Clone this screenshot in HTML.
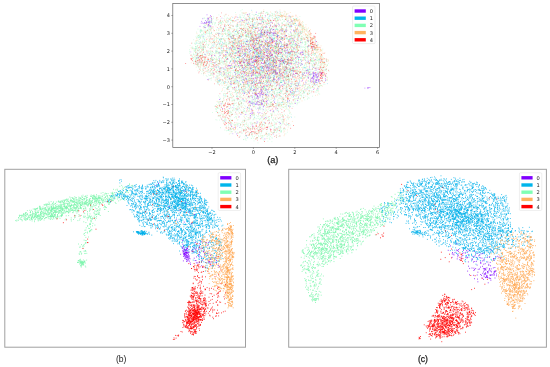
<!DOCTYPE html>
<html><head><meta charset="utf-8"><title>Figure</title>
<style>
html,body{margin:0;padding:0;background:#fff}
svg{display:block}
.tk{font-family:"DejaVu Sans","Liberation Sans",sans-serif;font-size:5px;fill:#222}
.lg{font-family:"DejaVu Sans","Liberation Sans",sans-serif;font-size:5.1px;fill:#222}
.cap{font-family:"Liberation Sans",sans-serif;font-size:8.6px;fill:#1a1a1a}
.sb{stroke:#1a1a1a;stroke-width:.25px}
.pt{fill:none;stroke-linecap:round}
</style></head><body>
<svg width="550" height="367" viewBox="0 0 550 367">
<rect width="550" height="367" fill="#fff"/>
<g class="pt" transform="scale(.1)" stroke-width="7.5" stroke-opacity="0.42"><path stroke="#78f5aa" d="M2850 117zm-85-6zm-17 8zm-108-3zm-1-2zm-25 2zm-192-20zm-13 12zm-220 41zm166-24zm43 23zm20-19zm10 3zm18 7zm9 5zm34 4zm10-13zm23 9zm38 0zm27-9zm3-4zm6 4zm7-11zm8 8zm1-1zm42 1zm9-5zm5 0zm1-5zm7 21zm2-6zm0-11zm4 12zm34-6zm9 4zm0 6zm17 2zm0-5zm21-5zm31 0zm12 3zm2 6zm0 3zm28-3zm34-3zm129 25zm-110 4zm-20 9zm-4-28zm-20 15zm-17 3zm-10 6zm-1-19zm-18-3zm-1 8zm-13 18zm-29-14zm-14-12zm-16 23zm-1-19zm-5 16zm-6-16zm-6 7zm-20 5zm-8 10zm-6-28zm-23 25zm-12 1zm-13-21zm-2 3zm-3-3zm-19 15zm-19-17zm-1 5zm-15 11zm-24-15zm-6 19zm-2-23zm-34 9zm-5 14zm0 4zm-1-26zm-5 28zm-17-21zm-29 1zm-5 1zm-13-8zm-8 25zm-9-26zm-14 12zm-11 12zm-109 3zm-18-28zm-12 17zm-109 2zm-25 4zm-68 6zm-12 2zm16 2zm24 8zm3 14zm16 4zm0-14zm11 5zm11-20zm0 27zm8-6zm15-15zm26 13zm4-18zm3 24zm35 4zm1-17zm35-7zm24 21zm6-23zm18 2zm13 4zm13 15zm5-2zm1 4zm22 3zm23-11zm16-4zm25-2zm39-10zm3 22zm6-7zm6-1zm7-4zm20 2zm2-4zm6 8zm8-16zm4 2zm13 6zm1 6zm1-8zm3 4zm0-5zm9 13zm6 3zm1-16zm16 12zm6-6zm4-9zm2 9zm22-11zm10 25zm25-12zm13 9zm7-1zm28-19zm6 18zm10 4zm8-24zm5 22zm17 4zm8-19zm14-4zm9 5zm8-5zm4 23zm0-28zm0 25zm9-22zm3 14zm2-4zm0-6zm5 19zm3-11zm23 8zm19-10zm1 2zm15 9zm9-10zm13 2zm3-9zm4-4zm16 24zm18-10zm28-12zm1 22zm2-19zm3 0zm22-6zm3 15zm1-11zm5 13zm6 10zm55 15zm-26 15zm-57-29zm-7 22zm-13-5zm-2-6zm-12-5zm-3-5zm-10 26zm-1-12zm-14 3zm-4-14zm-14 13zm-7 9zm-14-21zm-9 0zm-13 15zm-6-4zm-32 5zm-5-4zm-10 7zm-8-19zm-39 19zm-11-12zm-14 6zm-1 10zm-14-14zm-20-9zm-15 0zm-13 4zm-3 19zm-8-28zm-5 11zm-13 12zm-27 1zm-9-16zm-3-4zm-40 6zm-4-9zm-5 7zm-9-2zm-4 0zm-5 14zm-8 9zm-7-6zm0-6zm-7 2zm-14-11zm-14 14zm-3-3zm-13-9zm-10-3zm-14-7zm-4 18zm-5-12zm-75 5zm-23 13zm-28-12zm-8-2zm-10 1zm-24 3zm-6-14zm-8 0zm-1 14zm-5 2zm-3 11zm-1-5zm-5-13zm-1 4zm-5 10zm-2-2zm-3 8zm-8-7zm-30-6zm-3 5zm-4 7zm-3-9zm-16-9zm-9 11zm-4-21zm-9 13zm-10-13zm-3 27zm-7-6zm-17-14zm-1 8zm-25-2zm0 10zm-5 14zm5 9zm9 2zm2-5zm16 0zm7-4zm9 20zm3-13zm6 7zm0 1zm26-22zm3-1zm19 7zm14 13zm23-17zm31 4zm29 18zm13-21zm3 15zm17-17zm9 13zm23-5zm20 2zm2 10zm4 4zm29-1zm7-16zm6-5zm0 17zm1-2zm23-2zm16-2zm12-3zm24 3zm1-13zm2 7zm15 15zm19-1zm8-17zm10 4zm9-11zm1 15zm8-14zm5 16zm1-13zm3-3zm3 17zm7-15zm5 7zm23 2zm2 8zm4-17zm3 11zm1-2zm21-8zm18 25zm3-11zm8 4zm17-19zm5 14zm4 7zm7 1zm4-22zm3 2zm13 11zm16 1zm1 4zm35 3zm13-12zm7 8zm4-16zm25 22zm7-7zm2-6zm7 14zm42-12zm2 9zm9-13zm1 8zm10-3zm3-11zm7 16zm3-15zm2 1zm7 10zm2-5zm5 5zm2 7zm5 5zm4-16zm11-9zm11-2zm2 3zm11-4zm3 13zm16 4zm3-6zm21 11zm10 4zm5-3zm0-10zm26 13zm7-17zm4 3zm38 38zm-25-2zm-3 8zm-8-21zm-3 8zm-7-3zm-3 8zm-6-7zm-17-10zm-30 25zm-9-5zm-7-1zm-5-14zm-11 20zm-26-26zm-11 23zm-1-15zm-3-1zm-46 12zm-24-2zm-3-3zm-5 12zm-6-20zm-2-6zm0 6zm-2 9zm0-10zm-3 21zm-11-16zm-15 13zm-2 3zm-5 2zm0-12zm-2 11zm-2-3zm-7-18zm-8 19zm-5-4zm-16-15zm-5 18zm-1-16zm-9 1zm-14 9zm-12 10zm0-16zm-4 9zm-27-11zm-2 14zm-6-21zm-14 19zm-18-18zm-1 14zm0-4zm-4-11zm-10 10zm-3 9zm-1-15zm-6-3zm-26-2zm-5 10zm-15-2zm-4-10zm-22 6zm-2 10zm-2-2zm-2-8zm-1 20zm-22-21zm-10 11zm-4 7zm0-14zm-3 12zm-9-9zm-5-2zm-27 5zm0-16zm-11 29zm-3-8zm-1 5zm-8-4zm-1-13zm-35 8zm-11-16zm-2 28zm-28-12zm-17 1zm-14-9zm-4 1zm-11-8zm-1 12zm-32 0zm-1-1zm-5-10zm-5 20zm-3-2zm-23-1zm-13 0zm-2-19zm-2 1zm-5 9zm-33 17zm-44-14zm-8-5zm-8 7zm-5-15zm-1 22zm-1-18zm0-1zm-10 12zm-7 13zm-2-19zm-7 15zm-22-17zm-5 1zm-2-5zm-33 22zm-11-2zm-22-3zm-15 29zm33-10zm5 14zm1 1zm2-24zm2 3zm4 0zm5 1zm0 9zm1-3zm6-2zm12 18zm5-27zm15 1zm7 15zm4 0zm1 13zm2-25zm3-1zm16 8zm4 5zm2 11zm13-21zm29-5zm26 28zm1-28zm22 5zm4 21zm21-11zm6 5zm4-19zm20 11zm2-3zm6-2zm4 19zm3-18zm1-8zm20 11zm2-3zm6-9zm3 13zm6 7zm4-2zm4 3zm28 5zm2-8zm3-12zm12 2zm16 1zm2 5zm5-9zm11 18zm3 6zm2-12zm2-7zm40-6zm4 22zm0-3zm0-21zm2 2zm12 13zm8 2zm1-10zm6 17zm0-13zm3 8zm13 4zm12-17zm8 11zm14-11zm10 17zm3-2zm14-1zm2-5zm10-6zm1 16zm31-24zm11 0zm22 20zm17-5zm0-9zm1 17zm9-7zm7-3zm11-9zm14 7zm2-2zm12-7zm10-5zm2 25zm1-15zm0 1zm6 12zm40-15zm36-1zm2 19zm1-1zm11-4zm3 1zm13-22zm20 2zm3 24zm4-2zm1-11zm2 4zm3-7zm6 6zm8 9zm6-14zm12-5zm37 23zm23-26zm6 7zm3 14zm4-24zm0 4zm17 23zm4-1zm7-25zm17 11zm19 3zm8 6zm3-5zm6-8zm30 7zm4-12zm25 35zm-12 14zm0 5zm-2-3zm-26-1zm-44-13zm-3-9zm0 12zm-6 6zm-15-4zm-4-11zm-4 10zm-1 3zm-2 12zm-1-11zm-9-10zm-2 10zm-8-10zm-17 18zm-1-16zm-9 14zm-11 1zm-1-22zm-1 12zm-3 11zm-1-21zm-26 1zm-13 20zm-14-4zm-2 3zm-5-6zm-20 5zm-15-19zm-11 0zm-26 18zm-8-8zm0-6zm-14-5zm-3 5zm-2 14zm-9 1zm-1-13zm-12 18zm-9-17zm-7 16zm-10-13zm-1 7zm-2 5zm-17-15zm-30 13zm-4-22zm0 7zm-4-1zm-14 8zm-1-10zm-6 9zm-4-12zm-13 16zm-15-13zm-1 0zm-5-2zm-1 10zm-17 2zm-5 10zm-3-21zm-10 13zm-10 1zm-7-12zm-2 1zm-9 15zm-8 0zm-2-9zm-2-1zm-3 11zm-23-15zm-11 8zm-4 4zm-13-1zm-1-1zm-1 7zm-28-14zm-5-1zm-9-3zm-5-6zm-5 26zm-16-6zm0-13zm-11-1zm-3 4zm-2 8zm-1-9zm-9 2zm-8-11zm0 21zm-3-23zm-5 17zm-14 6zm-1 1zm-4-1zm-10-23zm-2 20zm-1-10zm-2-9zm-8 8zm-1-2zm-1 5zm-4-1zm-12-1zm-4-11zm-8 15zm-12-8zm-4 7zm0 1zm-2-10zm-12-3zm-11 20zm-20-9zm-5-7zm-8 1zm-7 6zm-6 5zm0-16zm-9-2zm-16 4zm-22 20zm-18-24zm-5 8zm-5-5zm-8 7zm-5-8zm-1 10zm-25-3zm-1-9zm-27 7zm-2 11zm-3-12zm-11 8zm-1 6zm-8 9zm-2-9zm-1-7zm-12 16zm-8-13zm-5 10zm-1-1zm-15-4zm-12 17zm4 11zm9-3zm2-13zm6 1zm7 11zm4-11zm1-3zm6 14zm3 4zm5 6zm2-15zm21 7zm1 2zm2 5zm3-14zm11-2zm14 6zm14-13zm17 24zm14-22zm42 6zm12 19zm6-16zm8 13zm9-1zm11-22zm15 20zm13-21zm5-1zm14 21zm12 7zm14-2zm3-21zm8 23zm3-8zm3-16zm1 12zm10-15zm9 1zm7 26zm0-23zm2 5zm1-1zm3 13zm13-20zm3 24zm0-16zm1 6zm2 13zm0-1zm1-17zm29-5zm5 22zm22-25zm1 6zm4-7zm11 24zm15-25zm6 8zm42-3zm1 3zm11 7zm5-2zm11 0zm11-12zm3 19zm1 6zm20-22zm13 9zm14 9zm8 1zm1 2zm1-1zm12-18zm5-1zm5 10zm1-10zm7-3zm5-3zm4 1zm13 13zm7 5zm16-14zm6-1zm13 17zm4-1zm6 1zm22-4zm1-4zm13-13zm29 12zm1 6zm5 6zm0-10zm7-14zm7 27zm13 0zm0-22zm4 13zm25-6zm10-6zm3 13zm2-1zm0 5zm13 6zm8-3zm13 1zm9-27zm0 13zm15 5zm15-15zm3 24zm13-4zm11 0zm1 5zm11-16zm3 9zm9-2zm5-11zm2-8zm6 8zm18 4zm2 1zm11 15zm17-4zm5-3zm4 6zm3-1zm3-18zm1 14zm1-20zm2 6zm7 15zm14 3zm9-18zm5 10zm21-2zm3-1zm17-1zm35 6zm2-6zm4 11zm-16 28zm-13-11zm-6 11zm-5-12zm-15 18zm-5-8zm-11-14zm-1 14zm-15 5zm-3 1zm-6-21zm-18 22zm-3-27zm-2 5zm-19 14zm-15 9zm-6-28zm-11 7zm-4 17zm-19-14zm-8 9zm-3 2zm-8 6zm-3-25zm-4 5zm-1 1zm-2 18zm-1 0zm-29-3zm-1-17zm-6 0zm-2 17zm-10-23zm-33 2zm-8 8zm-11-9zm-6 24zm-7-24zm-7 3zm-1 12zm0 1zm-26 2zm-22-19zm-4 16zm-23 2zm-18-7zm-6-2zm-11 19zm-9-20zm-3 5zm-9-14zm-2 10zm-2-8zm-17 11zm-2-7zm-16 7zm-13-7zm-8 21zm-1-12zm-2 6zm-3-20zm-8 20zm-16-5zm-14-4zm-8-10zm0 3zm-7 20zm-13-24zm-6 17zm-3-16zm-2 4zm-5 6zm-6 3zm-4 12zm0-7zm-6 8zm-5-21zm-2 7zm-11 12zm-8-3zm0-19zm-2 10zm-3 6zm-40-2zm-45-5zm-1-11zm-20 18zm-4-7zm-3-10zm-8-3zm-5 14zm-3 3zm-3 2zm-7-2zm-4 11zm-33-9zm-11 3zm-26 7zm-5-16zm-10-9zm-18 25zm-3-28zm-11 16zm-5 9zm0 2zm-1-15zm-1-6zm-1-1zm-8-4zm-6 20zm-42-21zm-1 14zm-4-8zm-1 13zm-30 4zm-12-21zm-4 23zm-2 2zm-27-8zm-3 5zm-6-7zm-4 8zm-6-23zm0 14zm-11 11zm-5-18zm0 12zm-3 1zm-29-21zm-3 3zm-8 18zm-14-8zm-4 13zm-31-21zm-11 34zm22 2zm3 7zm0-10zm6 13zm5-22zm14 10zm7 3zm7-1zm5 3zm8 5zm3-17zm6 6zm7 3zm10-7zm34 22zm2-13zm1-14zm14 26zm34-14zm8 16zm18-23zm1 10zm22-11zm9-1zm21 21zm5-1zm32-6zm9-3zm1 8zm15 3zm2-14zm8 7zm3 6zm14-9zm3 12zm0-16zm6-5zm2 4zm3-4zm6 5zm4 13zm14-9zm8 3zm22 8zm16-13zm4-6zm1 8zm5 7zm8-19zm5 17zm5-11zm16 2zm5-6zm13 11zm7 7zm14-22zm0 4zm10 17zm1-23zm0 14zm6 9zm5-17zm13 18zm3-6zm2 2zm3-8zm1-8zm3 12zm22 7zm5-5zm2-7zm1 5zm4-14zm0 24zm5 2zm3-24zm0 18zm4-3zm6-1zm9 5zm1-10zm4 5zm2 0zm2-15zm12 0zm6 7zm1-9zm10 10zm1-8zm17 25zm9-7zm28-14zm1 18zm1-15zm1 14zm9-23zm9 10zm7 10zm1-2zm3-6zm0-5zm0-2zm1 22zm2-10zm5 6zm0-12zm2 6zm13-14zm12-3zm1 24zm39-18zm0 6zm7-12zm1 18zm1-2zm5 10zm3-3zm5-18zm1 13zm6-17zm3 24zm18-13zm9 2zm1 14zm1-5zm8 2zm16-6zm1 8zm21-2zm4-8zm38 9zm3-24zm2-1zm16 21zm8 1zm6 5zm1-29zm19 26zm6-12zm23-1zm21 9zm5-15zm34 18zm1 4zm3-18zm2 7zm3 7zm1-19zm10 10zm32 4zm4-3zm13 5zm32-2zm28-14zm-7 37zm-2-8zm-28 24zm-2-13zm-1-14zm-1 17zm-15 9zm-10-20zm-8 1zm0 3zm-13-10zm-10 7zm-2 17zm-4-1zm0 4zm-3-17zm-18 17zm-3-14zm-2-14zm-21 21zm-29 1zm-10 3zm-1-14zm-1-5zm-9 18zm0-1zm-1-6zm-2-13zm-12 13zm-37 2zm-5-11zm-1 5zm-1-14zm-6 12zm0 10zm-5-17zm-2 5zm-20-8zm-8 5zm-1 21zm-6-10zm-4-5zm-4 12zm0 1zm-42-25zm-4 16zm-7-6zm-11 8zm-19 0zm-2 6zm-10 2zm-1-12zm-5-15zm-4 11zm-1 10zm-13 1zm-4-1zm-2-12zm-16 10zm-5 8zm-3-5zm-13-18zm-1 19zm-2-22zm-3 1zm-5 11zm-4 6zm-2-7zm-6 1zm0-13zm-6 0zm-1 8zm-7 6zm-3 2zm-6-13zm-1-2zm-9 11zm-3 7zm-8-19zm-3 26zm-3-6zm-22-11zm-11 2zm-4 15zm0-3zm-7 2zm-7 0zm-10-2zm-2-21zm-4 0zm-3 26zm-11-24zm-23 15zm-8-6zm-19-4zm-13 6zm-11-7zm-4 12zm-2-6zm-1 5zm-6-17zm-20 17zm-9 0zm-37-3zm-14-9zm-2 5zm-5 11zm-13 5zm-2-9zm-6 5zm-5 0zm-6-16zm-9-7zm-1 3zm-7-4zm-1 0zm-1 3zm-9 3zm-7-3zm-22 13zm0-1zm-22-13zm-29 27zm-5-20zm-2 3zm-6 6zm-3-12zm-2 17zm-6-3zm0-17zm-8 16zm0-13zm-12 5zm-8 11zm-15-6zm-4-11zm-3 14zm-34-10zm-12 3zm-1 9zm-3 4zm-27-21zm-1 20zm-8-5zm-22 4zm-7-19zm-2 10zm-1 12zm-6 3zm-1-27zm-4 24zm-12-3zm0-2zm-7-17zm-1 11zm-5 14zm-1-27zm0 7zm-14-6zm-6 26zm-10-23zm0 14zm-7-6zm-2 8zm-11-8zm-1 2zm0 2zm-28 4zm-6 0zm-19-17zm-5 42zm27-14zm6 2zm6-4zm6 23zm3-18zm7 22zm2-20zm1 6zm1-13zm1 25zm3 3zm2-15zm7-11zm10 18zm0-2zm5 4zm1-20zm24-3zm3 1zm13 7zm2-6zm1 23zm2-5zm3-4zm1 5zm0-21zm2 24zm1-14zm17 1zm50-8zm3-2zm0 28zm31-21zm24 12zm9 4zm5-14zm6-7zm27 10zm8 16zm3-4zm23-4zm16 4zm6-19zm13 0zm6 4zm7 12zm6-18zm5 17zm11-11zm3-9zm0 22zm4-13zm8-8zm11 13zm11-13zm5 22zm2-7zm1-12zm7 19zm6-22zm9 3zm8 23zm3-7zm1 3zm6-3zm21 5zm2-5zm22-20zm3 15zm2 9zm6-11zm9-6zm23-2zm2 2zm4-4zm1-4zm1 13zm8 7zm3 3zm4-18zm3 1zm2-2zm0 23zm4-21zm6-4zm1 15zm0-7zm26 12zm2-5zm0 10zm1-22zm6 2zm6 10zm3-13zm6 3zm1 0zm7 12zm4-13zm7 1zm10-7zm16 19zm1-3zm9-8zm8 10zm7-2zm1 8zm12-21zm5 0zm1 15zm2-10zm3-3zm13 20zm17-14zm7 16zm10-13zm2 3zm4-2zm2 1zm31-13zm5 5zm5 15zm16 0zm4-5zm0-4zm17-10zm7 3zm5-6zm6 15zm0 5zm11-18zm12 16zm5-3zm4 13zm4-1zm20-6zm18-4zm2-3zm20-8zm0 6zm2 7zm3-5zm10 6zm1-7zm5 13zm6-18zm7-6zm8 16zm17-9zm2 12zm4-5zm11 8zm17-16zm16 6zm20 6zm3-5zm3 3zm7-11zm5 21zm17-11zm41 4zm5-7zm6-2zm9-4zm2 6zm4 2zm7-17zm1 11zm6 9zm3-7zm9 14zm4-11zm5-4zm39 11zm8-12zm-28 48zm-64-16zm-25-11zm-23 24zm-1-14zm-12 16zm-5-10zm-9-14zm-5 20zm-5-22zm-11 20zm-10-7zm-5-7zm-34 12zm-3-3zm-1 7zm-8-24zm-7 18zm-23 8zm-3-18zm-5 11zm-12 9zm-4-7zm-10-10zm-3-1zm-5 16zm-14-4zm-3-6zm-1-13zm-2 22zm-9-8zm-18-4zm-5-9zm0 23zm-5-21zm-7 3zm-8 15zm-8-7zm-23 7zm-2 3zm-22-21zm-2 9zm-3-12zm-9 6zm-7 13zm-6-16zm-1 19zm-5-11zm-1-5zm-1 20zm-1-7zm0-6zm-6-1zm-2-6zm-3-4zm-10 16zm-18-1zm-2 7zm-6-1zm-1-22zm-16 14zm0 8zm-34-13zm-3-2zm-2-8zm-2-1zm-18 5zm-5 5zm-1 2zm-3-7zm-5 19zm-4-7zm-2-13zm-1-2zm-19 10zm-3 5zm-15 0zm-3-16zm-1 24zm-2-24zm-5-3zm-2 10zm-10 9zm-4 4zm-3-7zm-17 1zm-7-4zm-5 13zm-6-5zm-1-12zm-9 8zm-12 11zm-3-17zm-7 14zm-1-21zm-3 11zm-2-5zm0-2zm-24 6zm-11-5zm0-6zm-28 2zm-4 10zm-3 3zm-8-10zm-6 19zm-1-25zm-3-2zm-15 17zm-3 1zm-10 3zm-4-2zm-7-8zm-5-8zm-4 21zm-1-9zm-27 2zm-23-7zm-1-8zm-3 3zm-1 10zm-1-2zm-2-4zm-2-3zm-28 7zm-7 2zm0-9zm-8 11zm-6-4zm-7 1zm-9 10zm-1-15zm-11 1zm-2 18zm-3-12zm-4-10zm-5 0zm-1 20zm-3-15zm-9 2zm-2 9zm0-4zm-14 8zm-7-12zm-9-9zm-3 8zm-13-4zm-1 1zm-1 15zm-6-12zm-11-7zm-3-6zm-2 1zm-18 21zm-20-13zm-6 20zm-23-11zm-13-10zm-2-1zm-12 6zm-4-10zm-2 22zm-12-14zm-17 7zm-3 0zm-9-15zm-5-3zm-6 22zm-38 0zm-1-18zm15 33zm8 18zm8 0zm3-12zm8-8zm1 0zm15 23zm5-26zm3 27zm3-17zm10-12zm1 27zm6-10zm4 2zm7 10zm2-14zm11 5zm4-7zm4 0zm7-5zm4 0zm2-4zm9 24zm13-23zm2 1zm8 9zm29-3zm1 3zm10-7zm8-3zm8 5zm6 18zm28-8zm8-7zm1 12zm28 3zm8-3zm6-9zm8-16zm6 1zm20 15zm4 9zm12-16zm5 12zm10 3zm1-8zm7 10zm13-14zm15-3zm3 14zm3-17zm6 23zm9-3zm19-24zm9 20zm1-12zm5 14zm29-2zm27-14zm9 19zm18-23zm6 20zm16-17zm8 5zm10 0zm0-8zm5-3zm12 28zm12-8zm4-7zm5 15zm35-6zm6-8zm10-14zm1 17zm0-17zm10-1zm10 9zm2 11zm7-8zm16 0zm12 3zm6-8zm1 2zm13-7zm6 26zm22-13zm9 5zm1-20zm13 18zm6 8zm10-8zm3-8zm3 3zm1 9zm12-1zm11-2zm2 5zm6-7zm37 4zm8 2zm5 4zm1-21zm6 18zm4-19zm2 16zm10 6zm2-5zm8-21zm18 2zm9 19zm8-13zm11 17zm18-19zm12 4zm6 7zm11-7zm12 3zm1 3zm2 10zm5-10zm25-16zm6 13zm24-11zm14 26zm18-27zm4 5zm10 22zm4-10zm14-13zm15 18zm4-13zm1 3zm5-9zm2 15zm2 6zm25-15zm0-3zm10-5zm0-3zm8 7zm5 8zm6-2zm21 7zm13-7zm84 41zm-35-18zm-9-6zm0 23zm-27 3zm-4-3zm-6 0zm-2 6zm-3-7zm-4-12zm-7-6zm-8 21zm-33-14zm-10 10zm-9-17zm-6 2zm-21 17zm0-16zm-1-3zm-7 13zm-24-10zm-1 20zm-1-18zm-1 3zm-2-4zm-4 18zm-35-19zm-1 22zm-17-26zm-4 18zm-1-1zm-15-9zm-3-2zm-8-7zm-17 23zm-7-12zm-6 9zm0-17zm-3 9zm-5-2zm-38 13zm-6-1zm-3-13zm-6 14zm-1-7zm-18-4zm0 15zm-3-6zm-2-7zm-8-14zm-8 15zm-14-10zm-4 21zm-2-10zm-2-18zm-6 24zm-15-11zm-4 11zm-5-4zm-6 2zm-11-21zm-6 26zm-2-26zm-6 27zm-4-6zm-5 7zm-1-22zm-14-7zm-1 7zm-4-7zm-6 15zm-6-10zm-2 13zm-5 3zm-5-4zm-1-2zm0-4zm-4-4zm-11 16zm-4-9zm-5-5zm-8-5zm-7 24zm-2-26zm-5 10zm-9 6zm-4 1zm-14-11zm-15-7zm-28 20zm-6-15zm-4 1zm-3-1zm-2 0zm-10 8zm-3 0zm-2-11zm-6 2zm-22 5zm-3-9zm-2 5zm-2 5zm-5-11zm-5 12zm-1 5zm-1 12zm-4 0zm-2-14zm-6 5zm-5-19zm-4 11zm-3-9zm-7 12zm0 8zm-10-17zm-5 16zm-15-15zm-13 11zm-1 7zm-6-7zm-17 6zm-2-22zm-1 22zm-2-8zm-1 13zm0-6zm-9-22zm0 4zm-4 2zm-14 7zm-4 0zm-20 5zm-3 0zm-8-14zm-2 16zm-3 1zm-1-6zm-12 1zm-8-14zm-1-3zm-17 25zm-14-1zm-10-3zm-3-11zm0-5zm-2-5zm-5 10zm-16 7zm-20 11zm-3-14zm-6-4zm-15-3zm-7-7zm-5 15zm-6 12zm-3 1zm-4-2zm-3-17zm-11 16zm-7-6zm-3-4zm-7 14zm-4-4zm-3 0zm-7-15zm-5-5zm-5 14zm-10-4zm-17-5zm-25 19zm-11-11zm-6 5zm-9-16zm-3-3zm-15 0zm-5 3zm-9 12zm-13 0zm-8-5zm-2-1zm-3-6zm-7 3zm-5 3zm-1 1zm-1 3zm-2-12zm-1 17zm-5-1zm-3 6zm-3-16zm-12-6zm-2 2zm4 35zm3 4zm15-7zm4 10zm6-6zm2-13zm5 29zm1-24zm17 14zm8 3zm11 1zm6 3zm7 1zm4-21zm1 6zm11-11zm7 24zm2 2zm6-18zm20 19zm38-26zm0 9zm16-10zm9 25zm6-1zm15-12zm5 9zm6-3zm15-13zm2-1zm7 4zm4 8zm9-10zm6 2zm1 12zm9 1zm2-12zm29 0zm13-8zm0 18zm1-5zm5 6zm30-13zm0 6zm1 3zm14-9zm3-5zm23 24zm12-9zm4-3zm6-1zm1-1zm2-11zm7 23zm0-21zm2 8zm1-3zm1 2zm19 18zm5-22zm7 14zm5-12zm11-7zm9 5zm6 11zm18-17zm4-1zm2 4zm3 8zm11 15zm1-12zm4 3zm38 0zm3-8zm3 12zm11-2zm6 1zm14-8zm3-1zm2-12zm4 23zm1 1zm5-24zm3 14zm2-6zm7-6zm12 21zm4-16zm3 6zm5 1zm3-9zm17 3zm17 2zm6 16zm19-15zm3 14zm5-20zm1 1zm10 6zm1 14zm1-24zm0 23zm14-20zm0 4zm8-9zm4 16zm9-2zm3 15zm2-15zm1-12zm2 10zm6 9zm4-21zm5 9zm2 3zm1-11zm12 14zm3-8zm3 22zm3-28zm12 7zm12 0zm9-8zm1 9zm0 12zm7-1zm11 9zm6 0zm3-15zm2 2zm3-1zm0 10zm3-8zm2-16zm0 14zm6-1zm2-11zm5 26zm4-4zm7-13zm8 15zm2 1zm12-27zm12 2zm2 17zm6-1zm6-17zm11 10zm6 3zm1-1zm12 5zm9 8zm8-5zm2-6zm19-1zm17-13zm48-2zm14 12zm1 12zm12-13zm1 12zm22-20zm8 11zm2-9zm3 3zm2 5zm1-10zm4-1zm0 6zm7 2zm2 8zm4-14zm2 3zm14 5zm14-7zm0 16zm15-18zm9 17zm11-13zm17-6zm3 18zm11 6zm31-20zm5 3zm2 8zm18 18zm-12 15zm-1 7zm-1-5zm-22-11zm-7-6zm-2 15zm-13-15zm-1 8zm-16 1zm-1-8zm-7 19zm-12 2zm-9-19zm-4 19zm0-7zm-15-15zm-5 8zm-9 5zm0-1zm-5 2zm-11-18zm-1 5zm-12 9zm-7-8zm-11-3zm-14 8zm-2-6zm-19 5zm-4 11zm-15-11zm-1 16zm-25-15zm-6 10zm-12 5zm-2 1zm0-27zm-6 1zm-14 25zm-21-10zm-15-8zm-13 0zm-7 21zm-6-29zm-35 27zm-6-22zm-4 2zm-4-4zm-5 14zm-1-6zm-5 13zm-12-24zm-1 19zm-2-16zm-18-1zm-2 14zm-1 0zm-3-8zm-1 19zm-4-20zm-2-5zm-10 5zm-2 6zm-12-13zm-1 9zm-3 8zm-5 7zm-23-20zm-2 3zm-1 1zm0 17zm-3-7zm-3 7zm-8-21zm-1-4zm-2 18zm-6-15zm-5 6zm-6-7zm-14 2zm-1 25zm-42-18zm-9 4zm-8-6zm-14 3zm-5 9zm-22 0zm-3-6zm-5-10zm-24 17zm-15-7zm-33-15zm-1 14zm-30-9zm-3 8zm-3-8zm-11 11zm0-13zm-1 20zm0-4zm-8 2zm-11-9zm-6 9zm-1-1zm-3-7zm-2 10zm-5-17zm-2 1zm-24 8zm-11 14zm-8-2zm0-7zm-1-12zm-2-1zm-4 21zm-7-23zm-4-1zm-26 0zm-7 25zm-31-17zm-2 13zm-30 4zm-1-14zm-14-13zm0 19zm-10 5zm-5-6zm-4-15zm-11 7zm-1-12zm-12 3zm-6 18zm-15-21zm-3 10zm0-1zm-11 1zm-1-5zm-2-1zm-11 0zm-1 10zm-18 8zm-36-14zm0 7zm-9-9zm-1-2zm-12 3zm-9 15zm-1-12zm-23 6zm-1 6zm-9 0zm-6-22zm-16 26zm-12-26zm-2 12zm-3 14zm-2-14zm-9 1zm-4-13zm-22 10zm-1-4zm-1 5zm-1 10zm-1-21zm-1 15zm-12 4zm-21-14zm-1 14zm38 11zm3 2zm3 15zm9 3zm9 7zm1-15zm40 8zm23-11zm3 2zm30 16zm6-1zm4-2zm8 0zm0-22zm10 27zm2-5zm0 2zm23-11zm12-12zm1 25zm14-25zm11 3zm21 15zm1-4zm5 11zm7-14zm36 8zm16 6zm14-6zm2 4zm8 2zm3-16zm2 5zm12-10zm3 8zm25-3zm0-5zm2-1zm10-3zm8-2zm3 6zm5 2zm6 2zm1-5zm34 19zm2-20zm8 6zm4-10zm3 25zm3-13zm0 4zm15-7zm2-10zm14 2zm3 16zm1-1zm15-2zm1 14zm10-22zm4 18zm6-16zm2 15zm2 0zm17-6zm10-16zm5 4zm11 2zm0 9zm1-6zm11 2zm0 6zm1-9zm4 19zm27-8zm1-3zm5-12zm23 20zm0-9zm2 8zm3-3zm9-7zm1-5zm21-7zm4 16zm2 3zm14-2zm3-18zm5 7zm3-3zm6 10zm5-3zm8-9zm6 3zm4 19zm1-8zm11-5zm4 9zm14 7zm3-22zm2 7zm2-1zm22-12zm3 6zm5 20zm12-22zm22 11zm6 9zm2-7zm13 5zm5-22zm13 20zm11-1zm18 6zm7 1zm2-16zm4 2zm1 1zm7-12zm11 13zm6-10zm29 9zm0 1zm0 9zm26-22zm0 18zm2-13zm39 11zm6-8zm1 8zm5 2zm3-10zm14 4zm2 15zm8-18zm4-5zm54 0zm2 22zm2-26zm9 12zm4-1zm3-9zm4 19zm22-12zm47 2zm11 4zm1-1zm1 12zm2-16zm4 4zm23-5zm30 27zm-22 13zm-2-19zm-2 4zm-4 7zm-5-4zm-3-6zm-1 14zm-17 2zm-1-14zm-19 11zm-1 8zm-13 3zm-20-4zm-17-21zm-2 14zm-14-1zm-18 13zm-2-25zm-8 1zm-5 17zm-5 7zm-15-26zm-1 0zm-2 24zm-3 0zm0-22zm-3 5zm-11 7zm-1 2zm-1 5zm-12-5zm-8-2zm-12 1zm-16-1zm-16-13zm-11 6zm-19-5zm-8 3zm-8 18zm-8-18zm-16 13zm-6-18zm0-1zm-16 10zm0-9zm-16 20zm-5-1zm-3-20zm-2 26zm-11-7zm-7 0zm-6-2zm-2-2zm-1 8zm-9-4zm-19 6zm-8-24zm-12 4zm-18-5zm-4 6zm-9-2zm-4 7zm-9 6zm-2-16zm-7 3zm-10 11zm-15 13zm-4-12zm-2-17zm-26 10zm-16 5zm-2-10zm-5 14zm-6-4zm-6 9zm-14-5zm-6 0zm-4-12zm-7 20zm0-11zm-20 13zm-3-6zm-1-20zm-10 9zm-1-4zm-12 3zm-8-1zm-1 10zm-8 0zm-3-10zm0 13zm0 4zm-8-24zm0 17zm0-11zm-7 0zm-13 8zm-20-13zm-2 25zm-3-2zm-9-5zm-5-12zm-2 12zm-23-20zm-16 14zm-5 5zm0-11zm-2-5zm-5 19zm-5-22zm-9 18zm0-11zm0 19zm-5-26zm-5 4zm-2 5zm-2 5zm-29 3zm-4 9zm-2-13zm-2 13zm-7-1zm-9-19zm-11 12zm0-13zm-2 12zm-5-10zm-16 10zm-1-9zm-4 4zm-10 2zm-36 13zm-4-22zm-9 22zm-9-13zm-3-4zm0-2zm-15-2zm-3-4zm-9 2zm-33 19zm-2-3zm-4-6zm-1 9zm-16-17zm0 4zm-2 3zm-11 0zm-5 12zm-2-23zm-29 18zm-9-13zm-10 4zm-23-3zm-10 2zm-2 16zm-2-14zm-40 3zm-6-15zm-3 23zm-18-10zm-24 2zm35 30zm20 12zm1-17zm4-10zm42 2zm3 25zm19-27zm5 15zm4 11zm21-19zm0-6zm30 1zm8 13zm7-6zm10 2zm2-7zm1 23zm2-6zm20-1zm5-7zm22 6zm9-4zm1-15zm7 8zm4 16zm1-16zm4-6zm5 12zm12 0zm2 2zm12-16zm7 13zm5-10zm14 7zm4 12zm14-18zm12 6zm2 8zm0-7zm21 10zm3-9zm2 10zm4-15zm6-2zm15-2zm11 12zm3 5zm28-13zm2 7zm17-12zm1 7zm3 3zm3-7zm7 0zm1 13zm10-7zm4 2zm24 7zm8-5zm5-17zm5 20zm24 7zm3-21zm1 0zm9 4zm2-8zm2 26zm6 1zm7-23zm0-1zm9 17zm5 6zm13-18zm2-2zm1-4zm1 7zm6-6zm2 4zm12 5zm0-6zm4-4zm6 18zm6-12zm0 6zm15 9zm21 4zm16-24zm6 12zm3-14zm10 16zm6-18zm9 10zm3-4zm1 16zm16-3zm8-10zm4 18zm16-1zm2-14zm1 5zm3 10zm5 0zm5-25zm1 13zm1 10zm8-21zm12 6zm11 1zm5 3zm1 14zm5-11zm2-4zm0-11zm13 18zm19 3zm5-18zm9-6zm1 27zm5 2zm9-11zm0-5zm3-1zm1-11zm7 27zm35-22zm4-4zm1 16zm9-11zm10 18zm7-24zm19-1zm17 17zm5-5zm11-10zm2 13zm5-14zm29 1zm15 23zm4-24zm12 21zm1-3zm19-11zm8 10zm10 5zm20-14zm4 8zm10-17zm3 4zm4 24zm10 0zm20-26zm9 23zm4 2zm26-12zm12 39zm-8-10zm-25 5zm-14 5zm0 3zm-39-5zm-7-16zm-13 14zm-19 1zm0 0zm-7-5zm-35-11zm-1 24zm0-29zm-4 16zm-19-7zm-2 16zm-6-9zm-19 2zm-2 4zm-12 2zm-9-17zm-3 1zm-6-8zm-8 12zm-15 11zm-7-19zm-7 9zm-44-11zm-38 12zm-4 15zm-9-9zm-5-16zm-1 14zm-1 5zm-8-9zm-2 8zm-3 5zm-8-2zm-2-6zm-9-19zm-2 22zm-3 2zm-5-5zm-10-11zm-6-3zm-3 13zm-19-6zm-4 13zm-1 2zm-4-16zm-1-8zm-17 11zm-1-2zm-4-1zm-1 7zm-27-5zm0 14zm0 0zm-2-4zm-10-18zm-8 15zm-3 9zm-1-19zm-9-3zm-9 12zm-15-13zm-6 20zm-3-7zm-9-2zm-3-12zm-2-1zm-3 12zm-11 9zm-13-8zm-6 11zm-2-14zm-2 12zm-4-12zm-17-12zm-7 2zm0-1zm-8 16zm-12 9zm-1-15zm-2-9zm-10 3zm-3 1zm-9 10zm-1-15zm-7 21zm-2-22zm-12 7zm-10 2zm-1-7zm-11 7zm-18-8zm-8 11zm-5 13zm0-19zm0 6zm-1 2zm-31-2zm-5-14zm-3 0zm-2 28zm-11-13zm-1 6zm0 0zm-10 5zm-3-15zm-3 0zm-1 16zm0-20zm-5 3zm-10 16zm-25-8zm-3 2zm-2 3zm-2-18zm-1 16zm0 8zm-9-15zm-7-1zm-5-10zm-7 25zm-7-4zm-4 4zm-17-23zm-19 1zm-4 12zm-2 4zm-9 6zm-6-13zm-2-4zm-10 14zm-1-2zm0-18zm-19 4zm-4 5zm-10-6zm-1-4zm-35 6zm-17 2zm-31-4zm-12-6zm-3 24zm-11-24zm-5 2zm-5 2zm-27 9zm-8-10zm47 29zm3 17zm40 0zm25-3zm0-17zm4 26zm0-20zm16 4zm5 16zm20-9zm2-4zm35 15zm17-12zm2 10zm5-17zm8 3zm9 5zm6 11zm9-22zm3 18zm2 3zm13-7zm8 6zm7-21zm1 10zm10 7zm0-19zm7 17zm9 6zm22-17zm1-5zm2-5zm13 9zm1 17zm3-1zm1 4zm0-21zm2 10zm16-1zm5 1zm9-14zm9 12zm8-6zm5 12zm9-8zm0 13zm1-25zm5 6zm9-5zm4 15zm1-12zm7 4zm4 0zm4-9zm4 1zm9 15zm7 2zm30 7zm2-7zm22 4zm4 0zm15 4zm6-8zm3 3zm8-16zm0 0zm5-3zm18 19zm5 4zm7-2zm3-3zm5-8zm7 4zm1 4zm8-10zm1 1zm11 9zm10 4zm7-1zm23-12zm43-2zm2-10zm9 4zm10 19zm5-1zm6-13zm1 16zm4-23zm7 22zm28-9zm1 11zm5-6zm2-19zm2 3zm12 10zm2 1zm7-4zm1 3zm2 13zm9-11zm5-11zm27 4zm13 4zm2 11zm16-6zm28-7zm6 13zm2-10zm2 5zm7-17zm5 3zm7-2zm0-2zm19-1zm39 0zm13 25zm14-8zm49 12zm28-22zm94 19zm2-6zm-21 15zm-39-4zm-6 28zm-10-19zm-6-10zm-16 22zm-2-8zm-16 5zm-2-19zm-7 7zm-1 6zm-8-9zm-7 15zm-18-5zm-12 8zm-12-17zm-2 22zm-2-26zm-21 18zm-5-2zm-62 6zm-9-5zm-23 6zm-8 0zm-7-16zm-21 0zm-5 19zm-10-25zm-7 21zm-2-22zm-13 8zm-7 16zm-3-4zm-1-14zm-14-2zm-15 23zm-30-17zm-3-10zm-8 8zm-6 3zm-31 8zm-1-13zm-2 6zm-1-13zm-2 0zm-2 0zm-8 9zm-18 2zm-3 10zm-2-11zm-4-4zm-16 16zm-12-3zm-12-12zm-8-5zm-1 21zm-6-15zm-6 4zm-13-11zm-1 14zm-4 1zm-10 4zm-1 2zm-1-2zm-11-2zm-5 1zm-6-2zm-8-2zm-3 1zm-1 11zm-5-25zm-9 19zm-13 8zm-2-6zm-9-2zm-7-12zm-9 10zm-27 0zm-8-11zm-4 11zm-22-11zm-23-5zm-37 13zm-6-14zm-3 14zm-20 9zm-12-9zm-1 13zm-2-5zm-9-21zm0 17zm-2-2zm-4-9zm-19 0zm-10 4zm-2 3zm-15 9zm-12-8zm-6 2zm-2-12zm-3 14zm-18-12zm-9 6zm-28 6zm-11-7zm0 13zm-1 1zm-2-26zm-12 2zm-4 24zm-3-14zm-12 13zm-3-26zm-6 5zm-3 2zm-2 1zm-10 3zm-7 5zm-12-12zm22 30zm77 10zm14-15zm6 25zm1-1zm8-1zm1-14zm5 12zm8 6zm2-13zm10 5zm6-18zm25 23zm11-19zm20 7zm10 11zm1-12zm1 17zm4-14zm3 5zm6-12zm28 20zm3-11zm2 6zm2-17zm12 1zm3 6zm0-8zm14 1zm7 4zm7-1zm3-2zm2 15zm6-14zm4 7zm7-14zm6 19zm9 9zm0-16zm2 8zm16 7zm2-2zm4-6zm0 9zm27-10zm2-2zm5-6zm9 10zm23 8zm1-12zm8 4zm27-10zm8 19zm2 0zm18-3zm5 2zm4-6zm9 2zm2 2zm7-12zm0-13zm7 15zm9 7zm3-1zm0-3zm5-19zm5 27zm4-14zm9 1zm8-10zm11 20zm2-6zm28 3zm6-15zm36-3zm2 7zm11-9zm6 20zm12-15zm2 16zm3-8zm12-13zm4 5zm15 17zm0-20zm5 22zm4 2zm12-19zm10-8zm4 9zm12-9zm13 19zm4 9zm4-10zm3-5zm8 8zm1-8zm20-3zm4 6zm3-4zm17 3zm8-2zm12-3zm12 14zm2-8zm1-8zm17 21zm7-24zm6 17zm7-12zm23-2zm7-6zm14 12zm8-5zm8 5zm5 2zm13-10zm18 16zm6 5zm3-7zm0-10zm13 8zm0-3zm25-14zm12 2zm-67 54zm-4-12zm-2-13zm-44 2zm-4-3zm-6 2zm-11 4zm-6 7zm-6-6zm-6-6zm-1 17zm-12-3zm-7-9zm-29 4zm-1-3zm-24 13zm-60 1zm-2-9zm-7-5zm-1 15zm-40-6zm-7-8zm-8 4zm-3 4zm-18-15zm-9 15zm-4-16zm-7 13zm-17-10zm-7 21zm-32-5zm-8 1zm-9 0zm-14-10zm-6 1zm-2 9zm-4 2zm-2-9zm-7-14zm-23 3zm-4 23zm-1-14zm-21-10zm-14 19zm-18-6zm-8 0zm-2 2zm-2 1zm-1 1zm-3-14zm-7-1zm0 7zm-2-4zm0 5zm-3 8zm-6 4zm-8 3zm-6-1zm-1 0zm-3-22zm-4-3zm-4 24zm-19-24zm-1 8zm-3 11zm-8-3zm-8-3zm-8-9zm-14 24zm-10-22zm-5 8zm-7 3zm-9-11zm-19 3zm-2 9zm-21-16zm-9-1zm-7 12zm0 7zm-11 3zm-8-14zm-5 9zm-13-4zm0-15zm-7 20zm-13-9zm-12 9zm-20-20zm-1 25zm-3-8zm-9-2zm-20 7zm-3 3zm-5-17zm-12-7zm-33 18zm-2-15zm-4 10zm0-10zm-4 15zm-20-14zm-12-1zm-20 41zm31-4zm50 8zm13-5zm33 11zm15-14zm9-3zm4 19zm0-2zm17-16zm4 2zm2 15zm4-20zm16 5zm6 5zm11 8zm10-13zm10 0zm9-10zm13 13zm5 4zm7-1zm18-10zm6 6zm8 0zm12-4zm1-7zm5 6zm11-5zm1 0zm20 15zm24 8zm4-11zm20 0zm0 8zm12-9zm13-6zm5 13zm8-12zm4 17zm16-4zm2-3zm9-14zm6 10zm1 7zm7-5zm7-1zm6-16zm15 24zm11-15zm3 3zm23-10zm4 21zm6 3zm1-19zm5 17zm21-8zm6 2zm3-2zm5 4zm4-3zm3-13zm31 22zm10-9zm7-12zm2-5zm12 9zm13 4zm1-8zm23 12zm8 5zm3 6zm14-15zm40-9zm12 10zm6 14zm11-18zm6 0zm11-3zm0-2zm3 18zm1-9zm5 11zm5 2zm3-8zm2-7zm28 14zm16-7zm0-11zm15 21zm1-24zm11 4zm32 11zm11-15zm2 17zm4-21zm2 7zm9-3zm15 37zm-9-7zm-98 3zm-18-5zm0 9zm-34 15zm-9-18zm-12 2zm-1 15zm-1 3zm-10-7zm-7 1zm-9-7zm-18 6zm-2 2zm-24-21zm-13 17zm-12-20zm-4 17zm0-10zm-13 14zm-15-9zm-6-8zm-16-2zm-7-1zm-1 22zm-5-18zm-15 8zm-10-4zm-15-7zm-16 26zm-7-11zm-11-12zm-2 18zm-7-22zm-3 16zm-5-6zm-1 10zm-19-12zm-13 4zm-5 4zm-6 5zm-34-10zm-11-2zm-25-6zm-8 18zm-4 1zm-32-22zm-6 19zm-33-7zm-1-7zm-7 12zm-4-13zm-7-1zm-3-2zm-18-1zm-11 25zm-38-24zm-27 1zm-6 3zm-9 16zm-18-7zm-5-15zm-8 26zm-28 1zm-14-15zm-50 15zm0 0zm-3-13zm-6-3zm0-1zm-42 12zm-6-2zm0-15zm-17 1zm-3 11zm-48 11zm10 14zm7 11zm47-13zm4-7zm15 1zm12-1zm12 18zm4-3zm22 8zm1-14zm13-6zm5 0zm26-5zm3 3zm6 6zm8-7zm17 12zm13 1zm9-4zm41-12zm12 21zm1-9zm16-11zm5 13zm4 12zm14-17zm5-2zm4 22zm6-7zm12-19zm3-2zm2 9zm3 16zm1-25zm12 19zm1 3zm8-21zm4 7zm7 5zm4-7zm6 7zm31-8zm8 8zm0 14zm16-4zm12-2zm1-3zm6-3zm3-8zm6 21zm6-24zm4 17zm3 5zm1 1zm23-18zm18 5zm32-6zm9-7zm9 7zm8 15zm7-3zm7-18zm1 16zm2-19zm2 1zm17 28zm11-5zm4-8zm2 13zm21-19zm2-1zm12-3zm12-2zm27-1zm7 12zm14-9zm19-3zm0 22zm12-20zm1 19zm17 1zm2-11zm33-3zm16 14zm1-11zm0 0zm17-13zm19 1zm2 21zm13-6zm4 5zm34-20zm-52 32zm-25 5zm-42-3zm-13-6zm-13 18zm-8-14zm-18 15zm-6 1zm-21-14zm-13 22zm-19-28zm-15 9zm-4-1zm-1 21zm-18-9zm-5-5zm-29 12zm-4-24zm-44 6zm-23-8zm-16 15zm-19 12zm-5-25zm-2 2zm-13 9zm-15-3zm-18 12zm-21-23zm-7 26zm0-9zm-15 12zm-2-9zm-3-20zm-38 21zm0 7zm-5-19zm-1 11zm-6 5zm-10-18zm-8 12zm-9 9zm-11-10zm-10 5zm-1-13zm-16 9zm-19-7zm-3 17zm-27-17zm-3 14zm-5-11zm-7-4zm-14 5zm-10-6zm-12 4zm-2 11zm-7-20zm-17 2zm0 4zm-14-3zm-18 0zm-14 9zm-2-5zm-7 3zm-37-12zm-16 21zm-35-4zm-8 5zm-4-1zm-23 5zm-31 26zm14-24zm6-1zm4 20zm6 5zm15 4zm9-18zm2-11zm3 8zm5 10zm21-3zm32 9zm9-1zm30-6zm14 10zm2-14zm11-2zm2 4zm15-6zm18-8zm3 21zm1 5zm4-10zm0 10zm17-5zm4-17zm4-2zm2 14zm16 2zm59 7zm5-12zm5-6zm7 10zm1-4zm2-4zm4-1zm15 3zm4 13zm4-21zm2 23zm3-1zm2-23zm19 17zm6-11zm15 16zm7-22zm15-2zm4 11zm3-9zm14 20zm9 3zm4-8zm2-14zm3 6zm1 2zm2-1zm34 13zm1-9zm21-5zm0 17zm8-22zm0 1zm35 9zm18 2zm1 8zm1-14zm11-1zm6 16zm11-9zm6-7zm3 16zm4 2zm6-19zm5 16zm5-22zm2 4zm0 17zm13-4zm3-18zm10 16zm9-13zm12 13zm21-3zm0-15zm1 29zm0-13zm10 3zm0 1zm13-6zm7 6zm16-10zm11-7zm14 24zm1-20zm2 8zm8-8zm16-6zm-67 44zm-38-4zm-1-2zm-4 3zm-16-8zm-4 19zm-5-21zm-1 11zm-9 2zm-12 1zm-10 8zm-9-11zm-3 5zm-2-18zm-23 9zm-3-9zm-1 19zm-5-5zm-15-3zm-8-6zm-10 5zm-21 8zm-6-16zm0 2zm-11-4zm-7 11zm-3-7zm-10 5zm-6 15zm-9-21zm-14 2zm-2 4zm-7 10zm-19-14zm-2 13zm-24-7zm-1-10zm-7 21zm-4 7zm0-19zm0 19zm-2-12zm-7 11zm-30-10zm-16-12zm-8 7zm-6 6zm-22-8zm-5 2zm-27 9zm-18-5zm-9-10zm-27-2zm0 15zm-14-10zm-18 0zm-5 8zm-8-2zm-5 11zm-4-21zm-23-6zm-39 21zm-3-13zm-18 1zm-15 7zm-34-3zm-21-1zm-21 4zm-15 11zm0-1zm0-21zm-25 1zm-8 7zm11 23zm5 11zm1-4zm10-11zm0 2zm11 0zm17 4zm27 18zm31-8zm15-3zm16-9zm35 17zm9-7zm4-13zm5-2zm6 20zm7-11zm8 18zm15-9zm14-18zm10 17zm10 11zm21-16zm6 10zm4 5zm32-28zm16 2zm3-1zm0 9zm0 10zm33-2zm29-17zm7 12zm28 2zm10-2zm7 4zm12-8zm2-8zm17 11zm12 12zm5-14zm13 11zm14-7zm13 11zm82-2zm2-15zm4 21zm19-24zm47-5zm15 4zm13 7zm11 6zm2 7zm11 26zm-6 6zm-4-23zm-53 3zm-40 22zm-52-27zm-2 17zm-7-6zm-6-7zm-28 23zm-50-2zm-2 0zm0-21zm-23-3zm-37 23zm-47-6zm-10-3zm-45-12zm-1-3zm-30 9zm-17-7zm-3 3zm-14 13zm-6 10zm-23-13zm-13-13zm-30 17zm-23-19zm-3 27zm-12-15zm-9-11zm-9 21zm-1-14zm-5-6zm-4 8zm-4-5zm-7 14zm-5-14zm-29 23zm-21-27zm-22 12zm-10 15zm-7-12zm-12-15zm-7 2zm-2 1zm-35 10zm54 36zm10-1zm7-1zm11-16zm20 17zm0-16zm9 8zm58 7zm4 5zm9 4zm2-27zm9 3zm2-3zm30 5zm7 22zm2-1zm20-16zm60 13zm27 0zm14-15zm20 8zm16-11zm1-1zm0 24zm11-13zm4-12zm6 7zm3 5zm5-10zm20 9zm7 11zm10-15zm3 16zm14-10zm26-1zm6-13zm23 9zm12 10zm44-22zm5 24zm1-14zm0 3zm3-13zm56 1zm32 0zm5 25zm10-6zm3-7zm4 3zm14-13zm32 8zm6 5zm26 9zm3-21zm36 26zm-53 2zm-11 18zm-5-1zm-9-18zm-44 22zm-11 6zm-7-9zm-11-8zm-17 8zm-24-5zm-3-10zm-22 23zm-14-21zm-2-5zm-21 16zm-10 5zm-1-21zm-1 5zm-13 2zm-9 17zm-4 2zm-8-25zm-9 13zm-2-16zm-5 19zm-23-5zm-1 7zm-7-8zm-4 15zm-2-5zm-11-7zm-14-3zm-8 5zm-13-7zm-2-7zm-13 9zm-1 11zm-3 5zm-27-10zm-11 6zm-6-15zm-2 12zm-13 2zm-18-9zm-73 12zm-13-24zm-22 3zm-20 22zm-22-6zm-36-21zm-2 28zm-11-20zm-2 9zm-1 5zm-2 0zm-29 5zm-13-24zm-48 22zm11 5zm25-1zm34 11zm12 0zm5-2zm12-5zm18 22zm9-16zm9 3zm5 3zm2 3zm12-16zm4 22zm1-22zm55-2zm42 22zm15 1zm1-20zm0-2zm9 22zm4-19zm1 1zm5 4zm11-5zm6 18zm34 1zm11-1zm29 6zm24-17zm29 13zm27-21zm10 15zm10 6zm47-17zm25 13zm21-13zm9 12zm7 9zm11-4zm1-25zm11 15zm18 8zm31-9zm8 14zm1-7zm1-15zm31-4zm40 48zm-14 5zm-3-16zm-4 9zm-18-11zm-6 12zm-26-16zm-10 7zm-6 10zm-9-20zm-9 2zm0 12zm-50-1zm-6 15zm-1-14zm-8 11zm-23-1zm-11-14zm-16 4zm-32-7zm-3 22zm0-23zm-8 10zm-4 0zm-12-7zm-10 8zm-13-6zm-8 12zm-17-19zm-23-3zm-3 7zm-12-5zm-14-1zm-15 14zm-5-12zm-22 8zm-4 14zm-13-16zm-4 4zm-15 6zm-2-6zm-6 8zm-27-9zm-6 0zm-2 11zm-4-19zm-9 22zm-2-24zm-7 14zm-2-14zm-7 11zm-2-2zm-14 5zm-10 9zm-18-20zm-11 14zm-2-16zm-7 19zm-20-10zm-3 9zm-26 5zm-20-27zm26 37zm30 9zm13 7zm24 0zm27-10zm37 2zm16-1zm8 12zm29-21zm3 16zm5 7zm23-20zm5-6zm1 16zm11 1zm10-14zm5 21zm12-3zm3-5zm7-9zm17 10zm24-5zm14-7zm5 12zm21-14zm2-5zm12 9zm36-1zm31 0zm12-1zm2-2zm29 23zm5-17zm2 6zm6-7zm39-2zm0 21zm12-3zm1-26zm9 20zm22 7zm2 1zm17 2zm-5 1zm-17 9zm-16 13zm-1-3zm-3-5zm0 14zm-4-21zm-11-7zm-13 13zm-9 0zm-4 3zm0 11zm-4-28zm-18 12zm-4 13zm0-21zm-3 15zm0-3zm-71 7zm-47-3zm-5-5zm-26-12zm-3 25zm-1-17zm-15-6zm-12 20zm-44 2zm-10-25zm-54 16zm-9-13zm-10 21zm-2-23zm-1 13zm-15-3zm-23 12zm-16-23zm-42 7zm-11 18zm-9-2zm0-24zm-2 5zm-6 2zm-8 14zm-13-8zm-4-2zm-5 3zm-13 2zm-16-6zm60 33zm65-7zm12 3zm27 3zm12-2zm46-8zm24 18zm2-13zm17 16zm2-17zm3 8zm9-4zm21-9zm8 5zm4 11zm18-2zm16-12zm2 7zm14 3zm3-9zm53 11zm26 13zm4-15zm31 8zm2-16zm13 0zm67-3zm49 15zm14-16zm-74 37zm-13 5zm-22 9zm-5-17zm-40 18zm-12-8zm-7-6zm-14-7zm-9 9zm-7-1zm-21-11zm-5 6zm-14 15zm-1-13zm-2 4zm-10-6zm-1 20zm-11-25zm-15 11zm-13 13zm-2 2zm-15-24zm-16 12zm-16 4zm-2-10zm-8-3zm-51 5zm-8-8zm-9 16zm-44-8zm-10 1zm39 32zm1 2zm14-3zm8-6zm3 16zm11-22zm40 2zm3 1zm20-1zm5 26zm23-26zm1 5zm67 4zm9 15zm38-24zm16-3zm4 12zm0 0zm24-9zm-3 34zm-40-5zm-99 17z"/><path stroke="#ffa650" d="M2841 112zm-41-12zm-162-1zm-278 49zm69-20zm21 1zm7 1zm8-3zm56-7zm31 27zm137-3zm17-24zm68 11zm5-1zm27-5zm6 23zm9-22zm25 12zm5-17zm12 15zm0 9zm17-8zm23-12zm75 47zm-19-22zm-28 15zm-2-7zm-2 8zm-10 6zm-4-8zm-9 12zm-6-7zm-20-2zm-11-3zm-9 10zm0-10zm-9-12zm-3 12zm-10-3zm0-5zm-14 6zm-1-9zm-1 20zm-1-15zm-1 0zm-5 4zm-2-5zm-3 8zm-2-2zm-4 1zm-7-8zm-17-6zm-7 25zm-11-23zm-20 12zm-16-12zm-19 0zm-54 2zm-34 21zm-12-16zm-4 9zm-55 5zm-68-10zm-84 13zm-76-10zm-15 11zm-17-23zm-44-1zm-150 26zm-10-1zm5 13zm3 15zm33-15zm42-3zm15 8zm85-3zm24 2zm15-9zm31 18zm128-6zm31 5zm2-17zm26 4zm1 6zm4-9zm40-5zm9 8zm22 5zm41-1zm31 4zm47 11zm39-25zm20 24zm19-18zm7 10zm57-17zm6 20zm22-21zm13 0zm6 9zm6 2zm21 11zm9-10zm1 1zm1 10zm3-13zm6 2zm4-1zm3 12zm5-9zm3 9zm1-6zm10 7zm3-6zm5 2zm6-9zm6 10zm26 12zm-2 16zm-11-5zm-12-10zm-3 13zm-5-5zm-2-8zm-2 19zm-16-22zm-16 7zm-2-10zm-7 8zm-1 15zm-3-1zm-4 1zm-3 5zm-7-20zm-25-4zm-26 18zm-61 5zm-39 0zm-12-8zm-71 3zm-21-9zm-60-1zm-89 8zm-60-1zm-12-19zm-16 10zm-12-1zm-11 8zm-43 10zm-12-22zm-16 2zm-38 9zm-26-16zm-13 14zm-11-6zm-3-7zm-27 4zm-106 14zm-5-17zm-44 17zm-1 8zm-8 0zm6 8zm12 14zm3-14zm117 23zm28-26zm22-2zm15 17zm16-7zm90 5zm0-11zm9 15zm12-15zm21 13zm16-14zm8 5zm10 11zm37 3zm3-16zm15 12zm10 4zm45-21zm4 27zm2-5zm41-16zm9-4zm28 2zm64 16zm4-9zm34 15zm2-15zm19 0zm14 4zm15 3zm57-8zm0 2zm54 12zm2-22zm1 22zm9-3zm41 7zm22 0zm2-19zm6 1zm3-10zm6 9zm0 3zm5 5zm4-6zm5-10zm2 12zm1 14zm5-25zm3 14zm1-1zm7 11zm3-2zm1 3zm28-21zm46 50zm-20-17zm-20 9zm-8-18zm0 27zm-12 1zm-1-22zm-2 19zm-4-7zm-8 1zm-7 0zm-1 7zm-3-20zm-3 17zm-18-1zm-24-8zm-19-6zm0 0zm-88-7zm-32 26zm-10-7zm-52 8zm-24-19zm-52-4zm-64 13zm-65-5zm-52-6zm-6-1zm-10 13zm-27-3zm-17-3zm-32 6zm-11-6zm0 1zm-18-2zm-53 10zm-11 5zm-22-9zm-5-14zm-2-5zm-8 0zm-60 25zm-7 2zm-36 2zm-5-1zm-52-6zm-97-12zm-6-9zm8 40zm10 13zm0-5zm2-3zm17-4zm39-4zm6 13zm25-13zm88 4zm1 2zm17-13zm27 8zm11-9zm81 2zm18 7zm41 20zm44-9zm15-9zm3 16zm10-18zm13-3zm1-3zm2-3zm27 14zm6 3zm5 7zm11-15zm27-4zm23 21zm21-19zm9 22zm13-8zm26-17zm19 23zm14-3zm4-4zm21-6zm18 14zm19 1zm6-6zm3-6zm10-4zm6 3zm15-10zm3 22zm4-22zm20 10zm37-15zm22 18zm36-2zm4 2zm5 10zm13-24zm9 17zm19-20zm18 16zm5-11zm13 13zm3-14zm7 15zm11 5zm2-11zm15-13zm12 9zm6 13zm7-9zm6 6zm13 1zm7 31zm-4-3zm-1-19zm-2 15zm-2-11zm-7 10zm-1 0zm-1 14zm-5-28zm-5 9zm-6 18zm-1-6zm-10-2zm-4-5zm-3-6zm-2 4zm-3 8zm-3-15zm-18 13zm-10-19zm-8 5zm-20-2zm-39 2zm-6 6zm-11 10zm-16 7zm-5-6zm-1-11zm-8 17zm-56-19zm-4 0zm-9-5zm-9 8zm-35 16zm-12-24zm-2 22zm-4-19zm0-5zm-3 25zm-9-14zm-17-9zm-6 14zm-47-13zm-27 18zm-34-16zm-45 1zm-4 19zm-12-22zm-6 18zm-4-2zm-4-5zm-28 6zm-4-20zm-22 3zm-7-1zm0 16zm-26-8zm-2 17zm-15-1zm-14-24zm-6 16zm-8-8zm-5-8zm-3 13zm-16-3zm-57 8zm-62-5zm-13-13zm-23 1zm-16 8zm-10-6zm-67 4zm-32 4zm-26 12zm-112-3zm-17-21zm0 51zm34-8zm86-6zm31-7zm11 24zm10-9zm15-12zm11 10zm20-6zm14 15zm33 0zm29-25zm23 23zm43-21zm10 25zm1-7zm40 0zm9 2zm28-11zm16-11zm27 3zm11-1zm44 16zm17 11zm22-4zm10-15zm75-8zm3-1zm27 23zm11-6zm8-16zm8 21zm1-20zm56 12zm14 3zm14-2zm12-13zm25 26zm12-16zm22 8zm42-4zm16 3zm6-3zm26-7zm1 18zm32-2zm17-20zm6 3zm10 19zm5-26zm35 22zm25 1zm2-8zm2 10zm12-20zm14 20zm1-18zm12 8zm5 10zm0-1zm1-7zm0-1zm7 11zm9-2zm8-7zm8 11zm-7 9zm-12 18zm-9-18zm0-6zm-8 4zm-6-4zm-9 21zm-13-8zm-16 9zm-3-15zm-18-7zm-15-2zm-11 6zm-43 8zm-21 12zm-31 1zm-26-9zm-4-16zm-12 3zm-45 19zm-7-16zm-12-8zm-15 1zm-5 13zm-18-3zm-12-13zm-6 21zm-4 8zm-29 0zm-6-1zm-8-2zm-5-25zm-83 27zm-18-9zm-10 7zm0-22zm-14 15zm-3-15zm-22 7zm-2 17zm-2-17zm-6 4zm0-14zm-29 1zm-3 18zm0 7zm-16-15zm-32 2zm-48-10zm-11 20zm-20-1zm-6 0zm-34 4zm-3-14zm-6-2zm-31 12zm-13-1zm-9-18zm-6-1zm-8 7zm-40-1zm-7-6zm-68 7zm-1 2zm-1 12zm-8 4zm-20-3zm-4 2zm-15-26zm-25 20zm-5-4zm-12-17zm-97 10zm-14 3zm-11 7zm66 10zm5 11zm3 13zm25 1zm37-4zm16-15zm23-4zm15-1zm8 19zm26-2zm16 5zm45 0zm9-15zm75 2zm32 11zm7-18zm0 7zm12 10zm22-1zm3-1zm0 6zm36-15zm2-2zm14-7zm24 27zm1-17zm29 14zm11 0zm1-13zm3 7zm30-1zm6-13zm9 3zm50 5zm23-8zm12 25zm11-21zm0 5zm52-5zm4 0zm4-8zm22 12zm32 13zm19-15zm89 15zm5-8zm18-16zm28 12zm14 10zm21-5zm6-10zm33-8zm2 5zm43-5zm51 2zm3 26zm0-10zm1 1zm9-10zm6-4zm13 18zm10-21zm4 3zm3 19zm29 3zm27 12zm-18 12zm-2 4zm-9-3zm-8-3zm-2-7zm-1 12zm-1 4zm-6 0zm-7-23zm0 21zm-10-6zm-1-7zm0-1zm-3 16zm-12-19zm-9 11zm-5-8zm-32-5zm-22 11zm-67-3zm-21 0zm-10-11zm-12 14zm-24 2zm-35 0zm-7-2zm-6 8zm-7-18zm-21-4zm-1 2zm-6-6zm-8 2zm-53 18zm-2-5zm-7 12zm-28-24zm-8-2zm-6 24zm-12-16zm-3 1zm-7 19zm-34-18zm-65 5zm-4-4zm-1-8zm-6 11zm-24 11zm-2-1zm-7-14zm-5 17zm-14-11zm-6-7zm-2 3zm-7 13zm-11-2zm-7-14zm-35 6zm-22 12zm-13-18zm-48 16zm-19-24zm-7 23zm-56-22zm0 3zm-57-5zm-2 11zm-46-9zm-20 23zm-29-18zm-112-5zm-9 14zm-4 0zm-10-4zm-52-4zm-64 19zm10 10zm20 5zm12 6zm18-11zm24 2zm16-9zm6 28zm50-6zm44 5zm48 0zm23-23zm2-3zm14 6zm2-2zm36 19zm9 2zm0 1zm58-21zm18 11zm5-16zm8 27zm8-7zm31-9zm47-10zm7 20zm3-9zm11-8zm35 21zm15-18zm85 0zm3-8zm6 18zm15-19zm34 19zm4 10zm6-8zm8-12zm20 2zm7 14zm10-21zm39 12zm5-11zm41 4zm9 20zm22-24zm7 23zm16-18zm11 16zm5-25zm15 26zm13-12zm7-12zm32 8zm56-10zm5 4zm7 19zm1-6zm28 10zm46-5zm25 0zm2-21zm1 10zm10 3zm24-14zm20 27zm15-11zm1-8zm7 14zm11-7zm4-4zm9-12zm17 21zm2-13zm2 8zm1 9zm1-11zm7 6zm1 4zm35 25zm-24 4zm-5-14zm-13-4zm-5 23zm-4-3zm-7-18zm-10 5zm-8 7zm-5-17zm-3 11zm-6 3zm-8 5zm-15-1zm-3-11zm-2 14zm-17-19zm-18 2zm-21 12zm-7-5zm-16 2zm-24 10zm-6-25zm-14 19zm-1 8zm-31-26zm-9 19zm-15-10zm-4 2zm-4 15zm-35-8zm-7 5zm-19-4zm-23-11zm-16-4zm-2-4zm-40 17zm-46 11zm-20-6zm-51-19zm-12 24zm-29-10zm-9 9zm-3-3zm-10-5zm0 8zm-26-14zm-12 10zm-51 1zm-2-14zm0 10zm0 8zm-7-12zm-48 2zm-11-9zm-21 20zm-9-3zm-22-5zm-9-4zm-20-1zm-3 5zm-50 3zm-6-21zm-5-2zm-18 20zm-30-21zm-9 29zm-43-27zm-52 20zm-5-11zm-89 13zm-49 0zm-8-18zm-62 4zm-10 47zm5-13zm30-6zm28 8zm8 2zm54-9zm20 6zm40-10zm19 9zm51 1zm35-6zm2 0zm12 14zm2-11zm1 13zm16-6zm22-5zm7 5zm29-8zm1 17zm76-10zm40 9zm9-17zm28 1zm1 2zm3-2zm11 17zm3-5zm12-23zm12 1zm3 18zm10-4zm8-12zm0 9zm44 7zm28-11zm41 10zm8 6zm12 2zm14-1zm23-17zm5 4zm4-12zm2 12zm35 13zm3-17zm9 21zm14-29zm4 5zm27 15zm9 7zm45-15zm36 7zm3 7zm10-17zm14-5zm24-2zm13 22zm83 1zm3-19zm94-5zm5 3zm25 24zm10 1zm2-22zm4 1zm10 18zm2-13zm4 0zm1-9zm2 9zm4-5zm4 11zm57 36zm-18-6zm-21 7zm-1-9zm-9 11zm-3-10zm-2 9zm-1-5zm-9-22zm-1 25zm-3-17zm-5 7zm0 10zm0-10zm-2-13zm-4 1zm-4 11zm-28-2zm-5-11zm-8 2zm-15 26zm-23-11zm-12-13zm-65 19zm-39 2zm-60-3zm-6-4zm-25-1zm-8-12zm-2 5zm-38 15zm-6-26zm-11 28zm-15-14zm-6-4zm-16 1zm-36 15zm0-20zm-4 7zm-4-13zm-4 1zm-21 10zm-5 11zm-7-16zm-33-2zm0 3zm-1 9zm-6-13zm-5 21zm-16-12zm-13 7zm-11-13zm-20-6zm-9 6zm-21 4zm-7 11zm-12-15zm-2 18zm-4-1zm-1-22zm-5 11zm-26 5zm-13-9zm0 1zm-41 16zm-7-25zm-6 13zm-39 15zm-10-16zm-3 17zm-22-6zm-29-6zm-21-6zm-29 11zm-3-20zm-6 0zm-32 11zm-13 8zm-16 5zm-53-2zm-28 3zm-3-15zm-28-4zm-19 12zm-13 6zm-14 1zm-12-2zm-5-19zm-57 0zm-11-6zm-11 18zm-13 11zm-71-16zm4 45zm91-28zm24 27zm19-13zm6 10zm109-10zm8-7zm26-2zm15 21zm53 3zm60-22zm6 9zm8-2zm21-8zm47 16zm6-1zm6-7zm12 1zm59-1zm38-3zm27-11zm7 26zm4 1zm36-24zm5 7zm14-2zm26 20zm60-28zm0 29zm21-23zm1 10zm7-10zm36 21zm14-15zm32 16zm11-21zm53-6zm27 28zm56-8zm1-1zm67-17zm61 3zm51-5zm40 12zm15 16zm2-9zm21-13zm1 16zm4-5zm1 8zm12 2zm1-4zm9-1zm32-11zm4-6zm-24 45zm-10-8zm-3 2zm-15 13zm-17-1zm-1-17zm-8 6zm-59 2zm-54 5zm-10-18zm-25 5zm-43-7zm-61 14zm-5-16zm-18 14zm-3-9zm-15 1zm-21 0zm-1-6zm-55 3zm-13 25zm-17-11zm-30-1zm-16-2zm-1-8zm0-1zm-6 1zm-3 19zm-19-24zm-1 21zm-7 2zm-2-6zm-19-1zm-4-16zm-19 26zm-18-12zm-6-7zm-57 0zm-4 19zm-13-11zm-14 4zm-26-15zm-1 13zm-62-11zm-9 10zm-47-1zm-20-7zm-6-10zm-21 9zm-6 18zm0-23zm-42 16zm-60 0zm-1 8zm-8-11zm-6-10zm-13 6zm-88 5zm-81-13zm-39 9zm-8 14zm-21-7zm0-1zm-28 1zm-13 20zm42-2zm35-1zm35 14zm25-18zm37 15zm8-17zm23 15zm69-2zm18-13zm21 20zm3-22zm7 23zm25-5zm14-13zm42 20zm20-6zm72-8zm40 1zm15-4zm4-6zm77 23zm6-19zm8-3zm30 20zm2-19zm16 1zm38 6zm0 12zm15-11zm7 2zm7-4zm3 19zm14-17zm7-1zm21-8zm3 26zm14-21zm39 17zm7-17zm12 4zm15 0zm6 8zm20-7zm9 7zm50 8zm27-8zm18-11zm27 6zm46 10zm17-18zm14 14zm80-1zm24 8zm7-24zm37-2zm4 1zm20 1zm26 49zm-51 1zm-21-12zm-11 6zm-18-15zm-66-1zm-72 18zm-54-16zm-4 21zm-3-6zm-5 7zm-13-9zm-23 10zm-25-15zm-20 10zm-22-17zm-69 16zm-4 1zm-4 2zm-43-6zm-2 0zm-26 6zm-12 4zm-14-14zm-6 0zm-4 3zm-29 8zm-3-5zm-5 6zm-11-7zm-11-17zm-39 12zm-50 15zm-10-15zm-4 2zm-53 6zm-1-13zm-3-4zm-1 23zm-10-19zm-61-3zm-39 23zm-10-12zm0-6zm-2-1zm-63-5zm-9-5zm0 18zm-10-3zm-3-8zm-27 12zm-36 5zm-6-15zm-8 20zm-83-17zm-33 10zm-50-14zm-24 2zm40 23zm7 10zm59 5zm7-2zm10-7zm1 19zm7-17zm2 5zm8-5zm50-1zm26 11zm20-2zm7-14zm12 22zm43-1zm145-16zm18 2zm6 4zm2-3zm59-12zm4 14zm10 2zm36 4zm1-20zm19 11zm56 12zm6-18zm1 13zm27 6zm1-1zm17-23zm0 3zm29-1zm21 21zm2-7zm26-6zm5-4zm1 5zm3 0zm4 6zm13-5zm20-5zm21 16zm5-9zm68 12zm6-6zm11 5zm24-12zm23-1zm13-7zm7 18zm66-1zm0 6zm24-20zm102 17zm3-23zm63 50zm-12-22zm-6 10zm-19-8zm-10 11zm-75 0zm-3 8zm-34 3zm-25-22zm-28 0zm-30 25zm-67 0zm-38-8zm-17-14zm-24 3zm-17-1zm-69 3zm-1 16zm-6-26zm-14 14zm-7-10zm-3 23zm-1-6zm-62-1zm-22-2zm-10-12zm-65-4zm-33 18zm-4-10zm-40 18zm-25-25zm-9 6zm-4 1zm-9 7zm-17 2zm0-10zm-15 12zm-6-16zm-19 2zm-1 1zm-31 19zm-7-11zm-2-13zm-14 23zm-10-13zm-33 6zm-8-4zm-25-12zm-6 8zm-11 10zm-6-2zm-12 2zm-16-1zm-44 7zm-7-23zm-14 16zm-10-12zm-57 26zm42 16zm17-14zm18-7zm127 8zm6-8zm0 8zm27 13zm3-17zm5 16zm27-18zm22 20zm14 5zm23-3zm37 5zm2-15zm1 8zm18-22zm5 14zm22 11zm49-8zm5 10zm16-10zm27-9zm10 20zm85-13zm22 2zm59-3zm9-13zm26 15zm36 4zm9-10zm18 0zm54-10zm7 2zm7-1zm25 4zm40 13zm1-12zm16-6zm6 29zm51-24zm13 0zm0 22zm13-7zm69 8zm14-25zm60 8zm-80 45zm-48-2zm-1 3zm-2-4zm-1-4zm-7 8zm-8-20zm-10 8zm-42-15zm-40 22zm-58 4zm-3-20zm-4 3zm-7-7zm-16 4zm-76 17zm-86-20zm-16 19zm-21-22zm-47 3zm-5 17zm-33 1zm-41 7zm-15-9zm-10-10zm-36 19zm-64-14zm-30 4zm-3-9zm-6 11zm-7-4zm-7-2zm-57 7zm-6-5zm-17 11zm-11-4zm-19 4zm-3-6zm-11-21zm-6 20zm-15 5zm-1-5zm-50 5zm-1-16zm-4 15zm-62-17zm-9-1zm49 37zm27 1zm19-4zm144-1zm24-6zm3 18zm39-12zm22 10zm14 0zm2-19zm13 19zm26-5zm22 2zm29-14zm16-2zm10 18zm7 1zm11-6zm21 16zm2-8zm21-6zm1 4zm21 6zm9-6zm108 2zm9-12zm31 19zm11-10zm2 10zm18-2zm11-21zm28 24zm44-23zm9 13zm35-5zm1-9zm47-1zm48 20zm6-12zm45-1zm33 3zm14 7zm-36 17zm-22 15zm-60-23zm-32 3zm-15 13zm-18-16zm-17 13zm-10 16zm-17 0zm-9-12zm-18-4zm-40-2zm-29-6zm-32 22zm-68-19zm-10-5zm-40 17zm-3-2zm-20 5zm-1-1zm-10-5zm-24-11zm-70 1zm-17 3zm-8-4zm-9-4zm-6 26zm-18-27zm-13 12zm-6-7zm-64 16zm-1-1zm-26-17zm-7 15zm-9-18zm-11 18zm-12 3zm-74-14zm-19-1zm-45 12zm-2-10zm-6 17zm-46-7zm-2 15zm58 17zm49 4zm26-12zm11-6zm10-1zm16-2zm2 10zm3 2zm48-4zm25-8zm14 19zm13-16zm10 0zm22-1zm34 12zm27-2zm11-3zm26-12zm28 23zm71-11zm69 15zm34-18zm100 18zm12-10zm56-7zm7-11zm47 1zm12 7zm24 0zm96 10zm-6 31zm-23 5zm-71-11zm-6-2zm-49-7zm-28 18zm-18-6zm-10 1zm-23 1zm-56-15zm-57 7zm-69 8zm-25-15zm-31 8zm-9 0zm-10-4zm-6 16zm-27-5zm-5-4zm-4 9zm-22-19zm-1 15zm-59-16zm0 14zm-11 4zm-6-10zm-18-6zm-18 21zm-21-25zm-1 5zm-21 10zm-103 4zm-2-14zm-42 9zm-6-11zm-76 2zm-4 34zm76 7zm9-5zm53 6zm31 0zm20 6zm8 2zm5-14zm13 9zm28-18zm3 15zm4-16zm54 19zm29-9zm52-9zm3-1zm27 2zm9 8zm29-3zm21 10zm54-9zm35 17zm18-9zm9-6zm47 4zm31 7zm98 2zm2-2zm13 26zm-70-15zm-55 12zm-21-10zm-16 5zm-26 18zm-11-20zm-40 3zm-53 13zm-43-19zm-18 5zm-2-7zm-4 18zm-14-19zm-2 23zm-2-3zm-5-2zm-15-16zm-5 23zm-7-15zm-24-11zm-4 27zm-3-29zm-85 21zm-174 4zm-52-11zm-29-1zm-2-12zm-67 23zm19 16zm49 14zm14-13zm61 7zm72-7zm24 5zm76-9zm4 22zm111-11zm6 6zm14-12zm44 15zm1-1zm33-2zm13 3zm7-3zm8 3zm0-7zm9 7zm25-10zm29-3zm47 12zm5-14zm15-6zm7 19zm3-19zm23 3zm28-2zm28 4zm-87 33zm-24 11zm-19-21zm-4 0zm-11 13zm-20-14zm-22 8zm-23-2zm-10-7zm-126 4zm-106 23zm0-22zm-58 18zm-156-6zm-74-12zm-31 15zm-1-17zm-3 17zm-5 3zm162 28zm43-11zm90-8zm27 24zm34-18zm15 18zm56-27zm71 20zm26-19zm32 5zm137 8zm37-15zm4 43zm-236 8zm-35 7zm-90-7zm-25-21zm-5 10zm-14 18zm-62-3zm-7-4zm-34-3zm0 7zm-82-10zm-29 8zm-7-18zm-47 0zm-9 17zm12 18zm12 17zm46-12zm156-7zm100-6zm62 12zm13 9zm3-7zm16-6zm3 9zm10-16zm70-2zm28 10zm13 2zm26-4zm19 2zm16-6zm32 10zm36 22zm-41 9zm-5 9zm-74-23zm-36 6zm-102 17zm-92-3zm-60-17zm-34 1zm-82 10zm-73-3zm-7 9zm-45-18zm-27 20zm-2-12zm97 40zm13-20zm47 27zm57-12zm56-17zm120 23zm9-4zm8-1zm37 8zm41-3zm134-3zm11-18zm22 21zm60-9zm-202 25zm-10 0zm-17-9zm-47 26zm-45-16zm-2-4zm-36 4zm-3 11zm-101-13zm-33 3zm-69 12zm-19-6zm-104-15zm33 53zm36-6zm51-13zm2 7zm69-12zm40 3zm77 7zm59-11zm45 24zm2-11zm2 16zm31-27zm99 20zm101-12zm-9 29zm-26 11zm-131 8zm-11-1zm-127-8zm-224-15zm-7 5zm-7-4zm-9-5zm-19 29zm-19 21zm57-19zm28 12zm81-12zm31 7zm79 13zm11-9zm77 11zm4-16zm13 17zm27 0zm24-11zm66 4zm47-17zm7 21zm-4 16zm-213-1zm-19 7zm-123-8zm-9-3zm-15 0zm97 42zm11-14zm98 4z"/><path stroke="#00b0ea" d="M2800 118zm-283-15zm257 19zm-7 53zm-72-11zm-94 7zm-110 0zm-85-2zm-78 7zm-255 7zm43 26zm164-4zm172-14zm73-11zm163 3zm280 4zm-579 36zm-107-6zm-167 9zm-15 5zm-14-15zm-51 50zm261-22zm64 17zm14-17zm4 18zm26-11zm414 16zm73-1zm21-12zm49-1zm46-1zm-33 42zm-268 3zm-8-13zm-42-8zm-37-3zm-59 11zm-3-8zm-23 18zm-118 5zm-228-14zm-184 27zm111 16zm133-28zm35 28zm73-13zm126-8zm49 7zm80-10zm35 4zm26-8zm30 25zm125-25zm164 25zm14-12zm90-3zm-108 22zm-256 1zm-5 17zm-7-1zm-11 10zm-75-20zm-5 13zm-25 3zm-11-2zm0-9zm-85-1zm-210 6zm-20 6zm-225-8zm-64 30zm14-16zm34 1zm55 0zm16 17zm114-15zm81-1zm18 20zm74 2zm19-14zm46 17zm64-12zm47-10zm17 1zm111 1zm19-1zm60-6zm51 21zm74 5zm10-4zm244 20zm-153-2zm-20-2zm-81-8zm-8 3zm-121 20zm-38-14zm-22-2zm-2 16zm-31-22zm-61 21zm-105 4zm-15-20zm-103 8zm-79 6zm-103-19zm-2-1zm-80 16zm-85-15zm-46 22zm-36 18zm66 16zm111 0zm1-20zm31 15zm16-11zm3 1zm10-1zm21-7zm3 17zm105-12zm5-2zm8-4zm40 6zm18 10zm244 0zm118-17zm101 14zm55 4zm13-19zm88 3zm150 18zm5 11zm-168 8zm-90 0zm-133-1zm-23-10zm-89 16zm-180-4zm-10-9zm-47-1zm-36 10zm-6-6zm-58 2zm-123 0zm-76 5zm-7-12zm-171 33zm34 15zm225 5zm74-8zm63-4zm38 6zm8 3zm76-4zm1 4zm56-14zm4-8zm13 22zm133-19zm38 13zm40 12zm24 0zm32-18zm7 13zm68-11zm56 0zm78 10zm-96 17zm-29 8zm-21 4zm-60-12zm-192 15zm-49-7zm-19-13zm-37 7zm-30-5zm-78 17zm-68 2zm-32-10zm-42 2zm-108-14zm-10-1zm-71 18zm-16-7zm-100 9zm1 19zm228-11zm103 7zm30-6zm102 1zm17 8zm98 4zm7 9zm10 3zm17-21zm31 23zm18-5zm40-3zm4 3zm98-5zm4-5zm105-4zm11 16zm2-21zm269 16zm45 2zm-99 22zm-104 10zm-128-2zm-41-15zm-23 6zm-84 14zm-19-16zm-101 12zm-75-14zm-100-4zm-60-1zm-95 13zm-159 4zm-9-14zm-124 46zm12-14zm76-4zm159 9zm12 1zm56-6zm41 3zm84 10zm44-4zm59 9zm6-23zm107 22zm4-17zm9 8zm14-4zm33 8zm8-18zm1 1zm8 6zm34-4zm35-1zm26 5zm20 7zm54 9zm349-11zm-263 29zm-78-13zm-3 23zm-56-19zm-156 0zm0 2zm-7 11zm-12-14zm-17 23zm-82-21zm-35-4zm-8 23zm-106 2zm-385 26zm23-10zm90-11zm145 20zm138-5zm25 7zm59-3zm27-16zm65 12zm93 10zm52-18zm89 5zm25-14zm44 5zm21 7zm158 34zm-163 6zm-44-18zm-247 22zm-51-21zm-66 5zm-20 17zm-27-27zm-112 6zm-105-2zm-41 8zm-118 20zm30 6zm81 16zm147-19zm21 9zm43 11zm19 1zm53 3zm44-10zm143-1zm172 6zm27-7zm109 7zm46-3zm7 4zm66-8zm36 20zm-14 18zm-113-1zm-59-15zm-75 8zm-7-16zm-73 26zm-56 2zm-4-24zm-34 23zm-37 0zm-2-25zm-82 19zm-26-22zm-55 24zm-46 3zm-72-7zm-297 21zm14-2zm85 18zm8-1zm104-26zm19 7zm49 22zm72-13zm24-4zm57-8zm92-3zm124 24zm280-25zm211 24zm50 32zm-107-11zm-170-5zm-200 17zm-27-10zm-18 8zm-1-7zm-157-12zm-26 7zm-25-12zm-6 14zm-44 3zm-130 1zm-16-9zm-1 4zm-85 1zm-4-6zm-23 7zm-53 10zm306 18zm54-11zm102 23zm3 1zm7-22zm14-5zm139 20zm35-5zm61 10zm40-23zm206 4zm-215 43zm-97-1zm-174 2zm-103-9zm-2 17zm-45-6zm-1-2zm-62-4zm-39 10zm-22-2zm-97 0zm-22-9zm105 44zm66-9zm5 5zm43 2zm207-6zm118-13zm90 3zm3 7zm41 6zm5-5zm14-2zm15-3zm61 17zm-117 5zm-57 9zm-119-6zm-30 2zm-41 6zm-56-1zm-381 8zm128 11zm138-3zm238 24zm72-21zm59 53zm-132-24zm-129 16zm-17 9zm-157-5zm-4-15zm-234-8zm352 55zm60-9zm112 8zm52-25zm128 44zm-135-13zm-74 19zm-361-13zm35 44zm9-9zm65-7zm43-3zm102 3zm180 4zm1 18zm143 66zm-83 17zm-285-18zm331 71zm-108 34zm32 36zm-443 6zm-69-20zm395 40zm-64 39zm-142-2z"/><path stroke="#ff0000" d="M2633 116zm-419 13zm46 14zm178-11zm37 15zm132-9zm10-9zm13 4zm48 11zm282 15zm-59 4zm-49 0zm-29-4zm-36-4zm-29-3zm-135 21zm-16-19zm-40 24zm-82-15zm-124 6zm-9 1zm-147-5zm-90 0zm88 40zm44-3zm50-9zm40 15zm8-25zm35 14zm37-1zm43-15zm10 17zm2-5zm20-2zm51-3zm30 8zm39 10zm11-24zm5 2zm4 13zm71 3zm46-12zm31 18zm76-12zm1 0zm24 7zm35 0zm31-3zm46 33zm-72 2zm-6-21zm-227-2zm-4 1zm-21 23zm-4-6zm-22 0zm-3-5zm-35 11zm-3 4zm-9 0zm-18-9zm-128-4zm-46-7zm-18 10zm-177-12zm-12 7zm-94 35zm90-10zm23 6zm43 7zm60-8zm103-11zm60 4zm5-4zm11 23zm38 3zm11-3zm39-17zm41 14zm9-13zm20 19zm76-4zm2 3zm21-26zm15 28zm3-8zm62-10zm11-4zm9 4zm14 0zm40 17zm33-27zm67 4zm2-4zm-27 39zm-7 12zm-1-1zm-9 6zm-45 1zm-47-25zm-4 26zm-32-10zm-11 0zm-5 2zm-11 8zm-69-3zm-21-12zm-8 11zm-9-21zm-68 22zm-4 0zm-19-5zm-18 8zm-31-13zm-35-1zm-11-11zm-62 16zm-23 6zm-16-11zm-61 13zm-57-23zm-8 21zm-48-14zm0 3zm-24-8zm-38-1zm-43-6zm-12 0zm-5 19zm-13 7zm-46 33zm2-9zm19-15zm69 1zm81 0zm70-6zm32 16zm11-7zm78 7zm19-13zm16 5zm2 18zm6-7zm43 9zm15-6zm29 0zm4-16zm26 17zm38-15zm2 20zm4-7zm5 3zm18 1zm1-1zm1-16zm12-5zm20 22zm21 1zm8-13zm2 14zm26 1zm28-9zm13 3zm21-16zm47 16zm15-4zm2-18zm122 13zm22 14zm-17 23zm-5-16zm-141 6zm-18 0zm-7 0zm-66-7zm-1 23zm-43-20zm-9 0zm-23 5zm-3 9zm-8 6zm-41 3zm-19-19zm-50 10zm-6-1zm-22-1zm-13-8zm-9-7zm-25 2zm-46 13zm-45-12zm-56 23zm-111-19zm-42-6zm-16 11zm-21 14zm-33 24zm35-23zm68 28zm105-19zm6 17zm13-6zm0-19zm24 28zm22-26zm6 13zm1 4zm5-7zm72-8zm19 3zm31-3zm13 1zm6 13zm3-1zm9 10zm31-10zm15 8zm6-23zm29-2zm31 8zm1-5zm58 16zm93-12zm4 9zm30 5zm43-16zm9-2zm53 8zm34-11zm35 27zm20-9zm26-5zm2 0zm13 8zm32 6zm11 31zm-40-17zm0 9zm-39-18zm-67 12zm-23 12zm-20-15zm-11 5zm-32 11zm-63-15zm-41-13zm-18 25zm-5-9zm-25 1zm-20-5zm-5 4zm-38-2zm-36 5zm-24 10zm-19-7zm-28-20zm-30 9zm-53 8zm-54-9zm-18 9zm-11 3zm-54-4zm-20 10zm-35-5zm-108 6zm-86-21zm-34-5zm-149 39zm84-3zm31 17zm5-5zm9-17zm82 2zm18 1zm23 20zm49-4zm75-5zm9-15zm6 4zm14-5zm12 7zm20 1zm18-3zm42 11zm5-6zm17 3zm33 10zm33-6zm34-16zm0 23zm5-19zm17 19zm1-7zm41 7zm45-20zm8 11zm3 3zm0-2zm6 9zm24-11zm34-11zm48 8zm28 5zm3-6zm34 11zm10-13zm3 17zm3-24zm5 18zm18-5zm26-16zm3 17zm62 8zm23-8zm123 6zm18-14zm9-5zm4 20zm12-7zm50 39zm-31 0zm-26-2zm-6-6zm-39-11zm-15-5zm-5 13zm-83 6zm-26 7zm-3-12zm-5 8zm-32 0zm-20-10zm-32 9zm-7 0zm-5-19zm-2 8zm-4 12zm-13-15zm0 11zm-1-14zm-45 21zm-15-15zm0-8zm-23 19zm-30-1zm-11 7zm-8-7zm-2-19zm-3 26zm0-29zm-27 15zm-4 8zm-37-19zm-83 13zm-24 12zm-28-26zm-1-3zm-45 17zm-15-4zm-17 9zm-11-22zm-3 27zm-41 1zm-2-22zm-11 1zm-19 13zm-7-5zm-69 3zm-136 8zm-76-4zm-57-2zm-7 5zm-10 30zm56-13zm66-5zm92-3zm69 21zm7-25zm11 0zm31 16zm6 2zm30-6zm34-6zm1 2zm28 0zm37 17zm2-8zm3-14zm9 10zm7-2zm68-10zm27 24zm2 3zm20-16zm23 3zm2 14zm59-20zm1 10zm10 2zm50-9zm11 7zm11-14zm4 16zm16 4zm40-7zm14-10zm13-6zm19 7zm57 14zm7 4zm23-27zm91 29zm86-5zm26-18zm34 10zm-61 26zm-39-2zm-26-2zm0-6zm-111 14zm-4-11zm-4-1zm-31 2zm-96 11zm-8-7zm-21 11zm-22-2zm-9-3zm-18-10zm-20 22zm-2-23zm-1 9zm-4-7zm-8-5zm-4 5zm-4 7zm0 4zm-20-17zm0 13zm-23 3zm-11-9zm-1 5zm-27-1zm-21 9zm-5-5zm-48-7zm-56 2zm-21-7zm-12 2zm-16 20zm-7-23zm-18 26zm-2-5zm-12-22zm-29 24zm-21-15zm-30 15zm-54-26zm-25 0zm-41 19zm-65-17zm-123 17zm-41-7zm3 32zm65 14zm87-7zm6-9zm110-2zm3 12zm13-5zm49-6zm15 9zm45-3zm14 1zm8-11zm17 4zm77-4zm1 5zm0 14zm6-12zm1 6zm12-7zm35-11zm3 12zm27 6zm10 1zm6-13zm16 20zm48-24zm11 4zm29 2zm8 6zm14-10zm9 10zm112 9zm4-22zm15 7zm14 9zm9 10zm59-22zm1 12zm0-16zm31 6zm23 16zm26-21zm10 7zm9-4zm81-5zm12 12zm148 38zm-20-7zm-29 5zm-80-10zm-28 15zm-115-22zm-35 9zm-3 0zm-24-9zm-1 22zm-85-2zm-44-6zm-19-2zm-25 7zm-22 5zm-15-18zm-16 13zm-25-20zm-2 12zm-2 9zm0-2zm-35-21zm-10 17zm-16-3zm-24 6zm-22-7zm-9-11zm-34 17zm-7 2zm-21-21zm-3 24zm0-22zm-47 17zm-26 4zm-75-15zm-9-7zm-68 25zm-39-22zm0 7zm-105 15zm-15-11zm-26 6zm-2-2zm-89 9zm8 6zm49 19zm55-14zm21 16zm12 1zm18-3zm40-14zm1 5zm48 5zm1-9zm8 1zm82 9zm54-6zm7-3zm2 16zm5-2zm19-21zm38 4zm20-4zm3 20zm17 4zm55-7zm8-20zm8 20zm22 1zm18-17zm18 0zm15 15zm34-9zm18-4zm30 19zm12-15zm7 12zm23-20zm23 1zm5 19zm60-6zm12-2zm16-1zm1 15zm6-28zm18 3zm3 21zm7-25zm69 6zm42-4zm69 23zm10-16zm0-9zm42 3zm11 23zm48-15zm11 5zm14 13zm34-18zm-108 28zm-29 12zm-34-14zm-2-2zm-38-5zm-66 7zm-9 10zm-31 5zm-58-14zm-49-6zm-24 12zm-17-7zm-38 18zm-27-9zm-38-16zm-5 14zm-47-5zm-9-9zm-19 26zm-37-19zm-11 4zm-59 16zm-7-8zm-26-3zm0-13zm-1 15zm-9 6zm-44 2zm-13 2zm-4-23zm-33 7zm-24 10zm-4-17zm-32 6zm-35 17zm-84-28zm-16 26zm-13-11zm0 4zm-26 4zm-46-2zm-114-4zm-23-11zm31 30zm52 0zm92-4zm9 19zm14-21zm44 19zm67-1zm5 10zm27-22zm49 6zm37-10zm11 14zm53 10zm10-19zm9 8zm10-5zm12 14zm9-11zm21 3zm34 2zm22-1zm5 10zm4-14zm11 1zm8-4zm23-7zm36 9zm8 8zm26 8zm64-17zm17 6zm11 1zm11 8zm26-17zm23 11zm0-17zm8 3zm9 1zm1 16zm9-5zm33 7zm87-9zm153 5zm9 2zm44-17zm84 39zm-159-15zm-35 29zm-21-12zm-43-14zm-24 23zm-27-5zm-28 2zm-7-8zm-71 14zm-21-13zm-16 5zm-21-19zm-24 10zm-45 14zm-5-4zm-1 1zm-21-12zm-15-4zm-8 10zm-39-7zm-13 13zm-1-23zm-17 22zm-17-6zm-50 3zm-8 6zm-14 1zm-1-13zm-33-13zm-8 29zm-40-3zm-19-3zm-36-19zm-39 6zm-57 11zm-29-1zm-81-20zm-9 25zm-22 0zm-15-20zm-3 7zm-10 4zm-19-11zm-12 16zm-18-13zm-24 16zm-23-12zm-40-9zm-5 24zm-4 12zm49 3zm105 9zm20-18zm124 20zm74-4zm29 8zm17-24zm36-1zm0 13zm23-9zm22 4zm32-9zm9 26zm9-21zm17 3zm12-4zm7-5zm3 3zm18 17zm1-11zm11 20zm36-21zm41 21zm1 0zm17-14zm0 5zm15 1zm12-7zm31 1zm20 11zm32-13zm1 9zm13 2zm9-20zm50 18zm22-5zm62-14zm27 5zm7-3zm38 0zm46 12zm9-12zm30 3zm27 19zm57-16zm57 5zm-11 30zm-24-11zm-7-1zm-23 23zm-115 1zm-32-21zm-59-3zm-1 18zm-10-22zm-44 18zm-8 1zm-10-18zm-41 12zm-39 3zm-4-5zm-7 14zm-2-20zm-9 13zm-15-2zm-21-6zm-20 11zm-1-2zm-67-10zm-43 18zm-1-13zm-1-9zm-7-5zm-3 3zm-39 16zm-12 6zm-110-22zm-59 12zm-23 12zm-2-18zm-20 17zm-15-10zm-23-4zm-15-3zm-87-9zm-98 20zm-53 29zm86-1zm80-17zm7 12zm36-3zm23-4zm116-5zm29 25zm37-1zm0-20zm18 4zm17-6zm2 5zm30-5zm1 6zm49 9zm22-10zm39-7zm59 10zm5-4zm14 6zm23 4zm49-10zm5-6zm20 0zm8 12zm5 11zm7-8zm17 0zm6 12zm19-12zm66-15zm46 9zm16-10zm24 20zm94 7zm10-15zm41-6zm49 12zm-34 14zm-21 23zm-93-18zm-75 12zm-20-17zm-58 3zm-100 18zm-57-10zm-20 9zm-44-15zm-7-2zm-18 4zm-32-1zm-14 1zm-53-4zm-6-5zm-5 9zm-4 17zm-15-7zm-19 6zm-4-19zm-9-3zm-7 14zm-15-13zm-21 25zm-50-18zm-121-11zm-3 27zm-1-8zm-23 3zm-26-13zm-36-2zm-70 5zm-34 16zm51 11zm146-8zm39 2zm6 13zm45 7zm1-22zm8 1zm4 20zm98-15zm14-6zm0 7zm12 6zm62 15zm6-8zm13-7zm15 1zm10-2zm52 6zm45-17zm11 6zm15-8zm65 22zm16-18zm7 6zm12 5zm52-12zm8 12zm27-1zm36 9zm38-23zm38 17zm30 9zm34-22zm26 21zm-44 17zm-164 3zm-19-5zm-1 2zm-5 17zm-48-3zm-41-22zm-16 8zm-41 16zm-5-26zm-50 14zm-54-9zm-10 17zm-5-12zm-10 14zm-48-23zm-22 18zm-36-14zm-1 21zm-21-6zm-52-22zm-97 28zm-70-19zm-41-7zm-7 21zm14 21zm93 14zm43-28zm27 23zm25-10zm62 14zm8-19zm44 13zm9-9zm135 10zm114-21zm9 12zm7-7zm52 21zm32-13zm81 4zm58-10zm26 10zm19 0zm2 2zm-65 19zm-83-7zm-30 18zm-18 3zm-2-22zm-12 22zm-32-11zm-22 13zm-72-22zm-4 20zm-6-5zm-13 1zm-56-2zm-2 3zm-66 0zm-4-2zm-38-15zm-14 20zm-9-23zm-17 29zm-22-22zm-42 20zm-73-3zm-11-23zm-25-1zm-68 29zm-58-27zm-7 3zm-69 2zm81 46zm22-7zm66 7zm31-19zm87-1zm8 6zm183 3zm52 11zm4-23zm4 0zm3 7zm5 10zm77 5zm37-12zm17 12zm4-11zm6 13zm94 0zm59-9zm-103 21zm-4 11zm-47-16zm-47 0zm-10 21zm-189 1zm-22-6zm-40 10zm-25-4zm-81-7zm-8-15zm-82 1zm-40 14zm-47 1zm-69 9zm-23 1zm46 26zm73-5zm9-4zm54-3zm29-1zm66 7zm102 7zm16-20zm9 17zm19-1zm38-9zm2 11zm45-14zm17 8zm27-1zm35 13zm9 0zm40-5zm60 27zm-111-14zm-25 15zm-22-5zm0 3zm-16-17zm-13 11zm-3 2zm-30 2zm-9 7zm-167-24zm-16 7zm-73 13zm-159-18zm-58 2zm-31 12zm-11-2zm95 37zm143-20zm81 11zm113 8zm124-1zm18-8zm31 0zm15-7zm44 9zm103-9zm-102 41zm-32-7zm-58 0zm-51 0zm-17 18zm-17-9zm-59 12zm-48-8zm-111-9zm-9 0zm-60 0zm-77 17zm-96 18zm130-7zm54-10zm153 7zm170 18zm27-11zm112 8zm49 9zm-46 24zm-33-21zm-13 10zm-35 7zm-88-9zm-278-12zm-103 15zm-8-8zm-44 28zm117 22zm95-14zm5-12zm227 6zm15-4zm149 8zm22 40zm-18-10zm-120 13zm-6-23zm-28 3zm-86 8zm-5 2zm-4 13zm-73-18zm-85 8zm-31 1zm-111-14zm-44-2zm-5 15zm39 26zm46 13zm176 0zm25-6zm35-18zm16 7zm93 0zm87 18zm13 4zm-61 6zm-9-3zm-1 13zm0-10zm-95 16zm-59-16zm-45 2zm-15-5zm-11 21zm-196-23zm113 31zm59 14zm6-12zm94-4zm23 17zm7-17zm129 26zm53 5zm-3 20zm-17-8zm-171 14zm-12-2zm-11 12zm21 14z"/><path stroke="#8000ff" d="M2585 177zm-209-4zm-157 8zm139 24zm64-1zm189-12zm126 11zm-30 21zm-224-3zm-75-10zm-164 54zm459-16zm91-1zm-54 47zm-109-4zm-81 6zm-318-4zm-2 22zm573-14zm133 0zm0 6zm18 4zm-926 52zm376 5zm581 5zm-179 42zm-50-6zm-141 2zm516 61zm-267-16zm-80 9zm-261-7zm-228 18zm-260-7zm84 11zm179 8zm134 10zm182-4zm115 9zm393-22zm24 16zm-156 39zm-296-2zm-786-15zm349 29zm372 16zm459-7zm109 42zm-1233-20zm343 37zm341-4zm197-4zm209-5zm90 33zm-395 65zm-118 9zm-438 2zm247 16zm291 0zm317 27zm-534-1zm-150 23zm-93-23zm-76 45zm496-12zm96 17zm212 7zm-151 6zm-244 9zm-78 8zm27 11zm276 1zm213-1zm31 46zm-24 5zm-432 48zm-177-11zm-61 55zm171 0zm326 17zm-138 1zm-175 35zm182-16zm-417 50zm-32 10zm437 20zm24-25zm-22 35zm-115 19zm-226 34zm-176 22zm31 22zm395 11zm50 1zm-130 8zm-42 19zm-208 10zm59 0zm26 13zm274 5zm29 9zm-374 49zm186-17zm220 20z"/></g>
<g class="pt" transform="scale(.1)" stroke-width="8.0" stroke-opacity="0.6"><path stroke="#78f5aa" d="M2775 157zm-16 11zm-141 2zm-40-13zm-144 19zm-31 0zm-98 26zm174 0zm62-16zm152 12zm250 2zm7 34zm-125-1zm-123-19zm-6 18zm-20 4zm-18-26zm-2 1zm-32 0zm-75 26zm-221-19zm342 27zm183 53zm-89-13zm-140 11zm-76-18zm-22-4zm-76-1zm-55 6zm-26 13zm-96 11zm103 22zm41-13zm74 14zm15-11zm53 11zm48-13zm83-11zm3 9zm57 0zm198 46zm-30-1zm-28-9zm-80-5zm-23 13zm-14 3zm-9-25zm-17-1zm-71 10zm-46 16zm-32-24zm-77 23zm-15-22zm-23-4zm-9 8zm-13 18zm-48 2zm-9-7zm-12-22zm-13 3zm-55 20zm-242-20zm87 49zm58 5zm92-7zm59 1zm28 2zm36 6zm16-22zm5 5zm1-9zm25 0zm12 6zm1 14zm44 5zm4-22zm89 3zm55 7zm19 13zm31-4zm60-4zm1 8zm3-21zm59 17zm115-24zm87 8zm12 30zm-190-5zm-1 3zm-6 22zm-137-28zm-33 11zm-16-5zm-44 11zm-36 9zm-28-3zm-14-4zm-15-9zm-32 2zm-1-8zm-26-1zm-84 25zm-208-4zm57 9zm87-4zm21 11zm4 13zm19-15zm54 9zm1-1zm93-14zm3 15zm33-2zm5 3zm18-13zm11 15zm0 5zm12-15zm32-4zm13 9zm92 1zm7-2zm12-1zm10-7zm10-2zm68 14zm55 3zm9-20zm6 20zm28-22zm57 11zm23-4zm68 3zm-74 46zm-13-7zm-18 2zm-51-15zm-19 5zm-7 14zm-39-25zm-52 19zm-12-9zm-19-9zm-42 7zm-1 10zm-3 5zm-10-5zm-3-6zm-11 6zm-1-4zm-13-7zm-21 3zm-9 3zm-11-13zm-63 0zm-15 1zm-6 15zm-7-15zm-6 8zm0 9zm-10 7zm-63-1zm-21-4zm-60 2zm-109-2zm-21-3zm-39-14zm-185-2zm82 33zm67 21zm104-12zm7 2zm113 1zm65 0zm5 12zm19 1zm12-16zm41-13zm3 8zm44 0zm12 17zm19-8zm6 8zm61 1zm7-21zm1-1zm3 21zm9-17zm25-1zm2 3zm1-4zm22 8zm11-1zm136 7zm201-2zm-10 37zm-84-18zm-19-7zm-11 23zm-75-7zm-54-4zm-21-8zm-1 8zm-32 8zm-26-16zm-8 0zm-35 3zm-4 3zm-23-10zm-13 24zm-35 5zm-7-25zm-14 21zm-1-21zm-23 23zm-8-14zm-4-8zm-33 14zm-1 10zm-8-5zm-3-18zm-1-5zm-8 10zm-6 13zm-15 1zm-1-6zm-5-4zm-25-10zm-88 21zm-5-11zm-6 2zm0 3zm-43 7zm-4-2zm-39-25zm-8 25zm-56-6zm-1-11zm-17 15zm-96-4zm-64 8zm160 6zm9 17zm0-20zm21 2zm42 19zm38 4zm11-11zm4 10zm36-9zm10-4zm31-1zm1 4zm51 12zm18 1zm4-23zm8-3zm3 23zm4 0zm13-7zm15-10zm10 2zm0-3zm24 16zm60-18zm7 18zm1 3zm55-5zm11-16zm21 1zm18 1zm38 4zm30 4zm19 9zm5-2zm63-16zm2 8zm37-9zm73 4zm123 41zm-147-11zm-28-3zm-6 18zm-29 3zm-10-17zm-14 18zm-33-9zm-15 1zm-51-19zm-56 29zm-47-22zm-8 15zm-18 0zm-24-2zm-46-7zm-36 0zm-10 16zm-7-23zm-2 10zm-1 1zm-11-17zm-21 28zm-33-25zm-23 8zm-30 15zm-6 0zm-48-3zm-48-5zm-17-12zm-14 7zm-250 16zm-176-8zm215 37zm50-11zm33 2zm28-9zm44 9zm50-18zm25 24zm38-14zm14 6zm30 2zm13-12zm19 11zm44-15zm3 22zm30-8zm4-8zm4 15zm6-1zm18-14zm26-6zm27 24zm6-4zm1 3zm87-7zm0 6zm82-25zm53 6zm16 3zm19 14zm57-1zm27 5zm18-18zm109 6zm23 6zm25-18zm10 26zm-64 26zm-35-24zm-44 21zm-28-12zm-192-7zm-16 7zm-80 4zm-5 14zm-16-8zm-29-6zm-24 15zm-10-28zm-66 15zm-8-10zm-58-1zm-3-1zm-27 18zm0-14zm-20 19zm-17-27zm-24 0zm-43 6zm-248 6zm201 19zm2 12zm29 7zm34-8zm3-1zm4-10zm12 22zm58-8zm6 11zm71-15zm7 11zm63-10zm42-8zm29 7zm30-6zm12-4zm2 20zm34 6zm9-9zm60-15zm29 6zm71 15zm16-21zm32 2zm198 11zm23 12zm-112 3zm-108 23zm-26-16zm-21-5zm-33 24zm-10-16zm-15-1zm-2-4zm-27-3zm-1 14zm-22 2zm-19-8zm-6-8zm-11 23zm-35-10zm-3 13zm-6-10zm-1 8zm-18-19zm-21 16zm-1-18zm-35 5zm-8 7zm-43-2zm-7-16zm-1 8zm-74 19zm-2-24zm-47 8zm-14-4zm-14 9zm-30 0zm-26 2zm-29 8zm-11-1zm-6-9zm-145 19zm65 8zm8-8zm11 1zm74-1zm19 4zm23 3zm37 2zm96 11zm40 4zm17-10zm21-12zm12 17zm26-8zm14-5zm2 17zm36-5zm20-23zm2 1zm14 26zm16-16zm22-9zm2 4zm183 6zm49-9zm83 22zm-39 17zm-115-6zm-97 13zm-46-17zm-21-1zm-31 8zm-51 16zm-54 1zm-22-6zm-25-19zm-15 7zm-5-5zm-13 14zm-13-7zm-10-5zm-248 2zm-1 8zm-8 6zm-56-19zm-62 9zm191 36zm120 12zm4-11zm37 3zm40-5zm110 13zm2-2zm1-25zm48 12zm91 11zm22-2zm42-19zm0 23zm268-5zm28-12zm-319 35zm-44-2zm-10-4zm-101 0zm-30-4zm-6 21zm-8-23zm-28 3zm-26 17zm-59 2zm-35 1zm-133-21zm-22 0zm51 28zm10 23zm19-26zm15 27zm17-22zm8-5zm2 29zm6-7zm83 5zm4-22zm40 17zm87-9zm175-10zm36 7zm46-2zm126 23zm-18 18zm-95 8zm-107-18zm-67 3zm-3 12zm-9-4zm0 7zm-101 1zm-30-3zm-4-6zm-53-18zm-49 5zm-15 20zm-41-2zm-107-19zm-111 49zm82-16zm0 13zm64-10zm46 14zm85 1zm195-8zm12-17zm38 25zm6-20zm205 19zm88 10zm-166 10zm-17-2zm-167-13zm-27 29zm-320-17zm-164 41zm315-9zm49-5zm347 19zm-245 30zm-70-15zm-80-6zm-27 17zm-122 2zm-54-8zm-7-15zm73 44zm111-10zm76 17zm107-17zm86-3zm-124 26zm-359 30zm45 6zm105 43zm-28-12zm-12 10zm-112-6zm418 78zm-35 2zm-342 46zm-144 30zm99 9zm482-18zm-112 26zm-213-2zm205 42zm53-10zm44-1zm-179 36zm-89-7zm-39 3z"/><path stroke="#ffa650" d="M2759 216zm57 44zm-401 60zm355 18zm-441 12zm16 32zm526-8zm130 38zm-272 6zm-18-26zm-251-1zm-52 7zm-34-6zm181 54zm71-1zm45-4zm34 0zm75 34zm-12 1zm-228-17zm-193 19zm-195-4zm139 6zm133 19zm357 10zm43-10zm146-5zm205 6zm-361 35zm-74-21zm-155-1zm-80 25zm-86-16zm-11 25zm110 36zm-7 12zm137 11zm56 14zm26-8zm145 11zm51-18zm304 19zm-340 32zm-153-4zm-138-8zm-21 13zm-47-7zm-36-9zm-11 15zm-131 3zm-226-13zm405 25zm273 15zm32-6zm-78 22zm-222 4zm-43 6zm-62 6zm-191 13zm300 7zm25-13zm47 17zm9 6zm10-26zm87 11zm49-9zm119 18zm-66 15zm-109 18zm-73 3zm-8-15zm-62 12zm-322 10zm597 25zm-317 24zm451 44zm-500 28zm145 14zm41 42zm174 34z"/><path stroke="#00b0ea" d="M2560 145zm346 24zm-116 2zm-91-19zm-79 42zm335 41zm-322-14zm-12-4zm-33 15zm-39-7zm-80 11zm66 19zm220-2zm110 36zm-103 6zm-46-5zm-178-18zm-180 43zm287 9zm5 0zm19 1zm282-4zm61 10zm-235 24zm-16-3zm-51-21zm-22 26zm-12-10zm-55-1zm-11-15zm0 16zm-3-10zm-124 16zm-17-3zm-52 16zm106 9zm19 12zm43-2zm143-4zm9 7zm6-5zm84 2zm47 2zm212 30zm-69-17zm-287 1zm-147 4zm-108-4zm-7 13zm-16-2zm-16 6zm-48-5zm-36-18zm-155 3zm47 34zm95-5zm240 10zm141 12zm251-3zm111 18zm-125-11zm-104-2zm-26 15zm-20-2zm-36-14zm-14 19zm-68-6zm-92-12zm-46 8zm-138 6zm-72 7zm-71 18zm72 1zm61-10zm138 17zm23-12zm16 0zm81 5zm23-3zm468 48zm-197-10zm-53 9zm-118 3zm-16-25zm-145-1zm-19 22zm-30-2zm-188-13zm-25 8zm56 37zm25-19zm99 23zm34-21zm4 21zm8-5zm6 4zm5-2zm18 0zm167 0zm45-2zm1-5zm81-18zm40 11zm103 5zm-65 36zm-103 7zm-6-28zm-55 27zm-85-24zm-59 5zm-48 19zm-23-11zm-33-11zm-52 7zm-39 14zm-107-23zm-116 3zm-172 31zm255-7zm216 13zm68-6zm38-2zm25 13zm32-12zm13 6zm102 10zm23-5zm28 8zm67-16zm-13 26zm-55 12zm-119 7zm-59-15zm-9-2zm-11 11zm-36-13zm-140 14zm-13-9zm-11-6zm-3 21zm-13-3zm-289 18zm15 17zm107-10zm42-11zm170 17zm33-5zm8-9zm43-5zm12 8zm2-7zm3 19zm6-5zm15-16zm21 15zm12-17zm45 5zm19 4zm59-9zm60 10zm14 7zm179 0zm1-5zm26 19zm-141 11zm-17 4zm-2-4zm-53 15zm-14-9zm-5-18zm-92 20zm-12 7zm-20-10zm-86-9zm-24-7zm-27 0zm-26 7zm-28-5zm-290 22zm271 4zm25 3zm73-3zm1 25zm84-19zm34 11zm32-4zm135-10zm35 48zm-23-22zm-18 13zm-44 10zm-62 0zm-38-16zm-9 17zm-49-11zm-3 14zm-113-7zm-135-2zm-274 10zm40 29zm241-1zm265-25zm2 25zm26-6zm11-1zm60-18zm137 12zm29 36zm-134-17zm-23 13zm-6 0zm-88-11zm-113 17zm-65-1zm-7-14zm-9 13zm-10-10zm-37 5zm-74 20zm389 14zm122 5zm68-20zm-115 48zm-358-1zm-6-9zm-224-8zm158 38zm118 2zm104-9zm56-4zm3 4zm72 20zm75-18zm66 8zm4 25zm-223 15zm-52-12zm-9 2zm180 52zm-14 29z"/><path stroke="#ff0000" d="M2758 120zm-588 57zm155 30zm117 1zm88-9zm43-2zm26-3zm76 5zm32 6zm27 0zm17-3zm-28 30zm-40 4zm-158-23zm-279 38zm38 2zm46 8zm194-5zm128 13zm105-8zm130-18zm-253 30zm-62 8zm-12 4zm-66-8zm-21 21zm-39-14zm-27 5zm-33 31zm81-17zm26 8zm20 1zm144 14zm29-24zm7 27zm75-19zm87 4zm101-3zm23 0zm129-3zm61 26zm-46 3zm-118 17zm-128 3zm-1 0zm-220-13zm-7-3zm-26 11zm-56 4zm-4-15zm-32 18zm-35-18zm-59 11zm-31 3zm-106-6zm-104 2zm102 36zm67 1zm47-23zm107 16zm16-10zm29 17zm19-8zm16-6zm46 15zm43-15zm28 3zm61-11zm6 13zm23-3zm33 1zm14-8zm82 15zm182-8zm26 8zm9-23zm2 4zm1 12zm11-7zm9 45zm-44-16zm-13 3zm-1 10zm-133-21zm-87 18zm-40-15zm-99 19zm-23-15zm-3-6zm-19 17zm-9 9zm-66-3zm-31-9zm0-4zm-34-11zm-15 17zm-12 7zm-4-15zm-1 2zm-16-12zm-2 15zm-9 5zm-91-1zm-32 1zm-82-18zm-48 17zm-128-19zm221 52zm6-10zm43-10zm98 24zm38-3zm51-6zm3 12zm3-27zm4 12zm85 10zm1-17zm11-1zm10 6zm15 5zm13-14zm0 7zm42 17zm12-11zm100 13zm20-9zm11-7zm199 1zm3-4zm3 4zm11 11zm2-23zm3 5zm0 17zm19 4zm17 7zm-3 5zm-5 19zm-19-16zm-12 4zm-7 1zm-4 0zm-2 1zm-139-16zm-70 26zm-42-28zm-19 25zm-83-10zm-12-7zm-43 19zm-26-20zm-7-2zm-19 20zm-17-18zm-7 20zm-16-22zm-22 12zm-54 9zm-24-14zm-26-1zm-49 1zm-11 4zm-31-7zm-12 9zm-20-8zm-38 10zm-3-10zm-2-4zm-59 2zm-22 4zm-220 34zm216-8zm85 20zm86-8zm35-9zm34 4zm34-15zm34 14zm2-5zm5 7zm17 0zm5 3zm5 9zm43-5zm17-8zm62 8zm5-18zm26 21zm50-6zm1-8zm20-9zm10-1zm174 20zm124-21zm17 7zm0 13zm113 31zm-126-1zm-30-22zm-109 8zm-51 1zm-5-6zm-22 15zm-8-4zm-6 4zm-65-3zm-28 2zm-3 7zm-1 1zm-16-11zm-8-7zm-118 9zm-34-3zm-11 16zm-13-7zm-17-21zm-36 8zm-1 6zm-138 14zm-14-27zm-3 14zm-53 13zm-103-7zm-127 7zm-24-28zm-36 11zm-56 15zm-68 16zm65-3zm20 13zm12-7zm2 0zm14 0zm18 11zm18 1zm242-27zm47 15zm42-3zm2 4zm14 3zm46-8zm12 16zm64-3zm40 4zm1-1zm40-14zm39-7zm19 9zm10 6zm19-20zm20 8zm5 4zm36 14zm18-20zm309-7zm132 6zm-148 24zm-32 6zm-120 4zm-6-5zm-10 20zm-15-13zm-35 10zm-80-14zm-37 5zm-38 12zm-10-21zm-24 11zm-32-14zm-6 21zm-19-22zm-11 11zm-6-2zm-11 19zm0-27zm-64 25zm-19-1zm-4-18zm-28 20zm-30-16zm-30 15zm-128-12zm-190 10zm-28-19zm-5 14zm-7-14zm-17-3zm-7 19zm-4-3zm-5-6zm-9-13zm-6 27zm-15-19zm-57 3zm-8 10zm-3 6zm-1-12zm15 22zm28 7zm4-3zm3 12zm16-15zm4-1zm16 13zm13-1zm9-8zm6-4zm15 19zm7-14zm16 4zm10 13zm4-11zm17-1zm33-11zm210 1zm22 12zm10 0zm32-6zm2 9zm11-8zm20 7zm7 6zm21-18zm27 1zm1 11zm6-11zm34 10zm10-17zm10 5zm4 0zm5 1zm6-4zm2 5zm9 9zm8-11zm1 5zm58 13zm1-8zm4-9zm20 0zm45 20zm16-20zm9 13zm12-21zm11 13zm3 5zm26-13zm11 7zm7 1zm18 1zm2-8zm6 1zm23 11zm16 4zm1-23zm7 0zm8 8zm24 0zm159 19zm132-1zm40 0zm-96 23zm-233-9zm-36-5zm-4 7zm-9 2zm-99-13zm-31 8zm-35 17zm-31-2zm-18 1zm-1-25zm-38 0zm-31 7zm-16-7zm-21 18zm-1-8zm-47 6zm-29-14zm-22 19zm-33 1zm-12-17zm-104-5zm-108 8zm-55 11zm-66-9zm-2 13zm-13 1zm-15-7zm0-14zm-3 16zm-23-19zm-31 0zm-20 14zm-25-11zm-79 2zm195 52zm34-16zm34-4zm86 14zm104 4zm10-2zm42 6zm60-19zm1 4zm30-7zm79 7zm33-10zm16 18zm6 5zm47-21zm14 8zm22 0zm8-6zm69-4zm12 8zm44-10zm58 13zm62 7zm8 0zm2-8zm30-3zm238 6zm8-3zm22 2zm8-3zm23 18zm-34 14zm-14-12zm-14 20zm-5-19zm-236 13zm-18 3zm-15-6zm-19-1zm-2-10zm-36-2zm-17 7zm-6 7zm-14-12zm-79-2zm-6 8zm-12-8zm-6 6zm-14 2zm-4-9zm-21 22zm-8-2zm-18 5zm-69-18zm-31 15zm-26-14zm-10 13zm-98 4zm-19 4zm-26-11zm-10-3zm-22-4zm-1 6zm-120 12zm-34-3zm212 21zm40-14zm16 23zm23-7zm17-2zm13-8zm11-1zm41 5zm1-7zm20 4zm63 4zm19-3zm25 2zm31-9zm21 19zm1-17zm2-6zm19 14zm23-10zm33 0zm66-3zm59 10zm14 4zm7 3zm35-17zm144 5zm31 13zm14-14zm11 21zm2-11zm3-5zm0 17zm3-14zm3 8zm3-19zm3 2zm3 6zm9-4zm8 13zm3 9zm-34 17zm-4-4zm-5-7zm-2 25zm-2-24zm-19 4zm-152-9zm-6 12zm-49 1zm-26 7zm-43-19zm-22 15zm-5-7zm-7-6zm-10 10zm-36-12zm-213 19zm-9 1zm-75-16zm-154 2zm-169 40zm20 4zm79-11zm138 10zm7-16zm40 25zm18 0zm9-1zm77-2zm5-22zm52-1zm35 21zm12-24zm24 24zm12-22zm177 8zm55 12zm228-5zm6-16zm15 23zm5-19zm19 39zm-48 6zm-236-18zm-6 21zm-31-13zm-74 9zm-71-8zm-12 5zm-2-7zm-70 2zm-29-11zm-27 4zm-15 17zm-43 3zm-54-7zm-54-13zm-9 25zm-9-21zm-104 14zm36 30zm169-15zm2 17zm52-11zm97-7zm6 11zm55 1zm47 1zm13 6zm175 13zm-84 8zm-21 0zm-69-3zm-30 2zm-65 10zm-97-5zm-20 0zm-110 8zm-88-23zm-66 23zm-3-23zm213 54zm92-26zm218 15zm7-1zm45-12zm-21 45zm-15-3zm-30 10zm-5-23zm-213 3zm-72 7zm-9-11zm-62-3zm-25 13zm-193 19zm105 24zm277-2zm216 3zm-412 31zm-168-26zm-27 5zm-11 34zm18 11zm6-11zm2 14zm11-2zm1-2zm11 8zm24-11zm63 9zm343-4zm-43 22zm-46-12zm-106 14zm-265 0zm-9 4zm-24-9zm0-9zm-5 2zm-24 19zm-20-15zm11 41zm22-7zm21-6zm32 20zm5 1zm84-18zm159 14zm316 5zm-374 1zm-52 17zm-131-4zm-7 8zm-7 6zm-7-22zm-11 11zm-5 2zm-6 5zm0-18zm-22 0zm-46 11zm26 31zm28 12zm33-16zm36 7zm24-15zm510 26zm-189 16zm-142-6zm-249-11zm6 54zm27 3zm9-23zm27 1zm1 2zm227 20zm66 1zm319 27zm-45-19zm-128 3zm-104-7zm-33 17zm-317-19zm-42 5zm-14 11zm10 32zm57-12zm36 15zm123-4zm11 6zm37-15zm21 19zm15-26zm0-1zm8 27zm34-13zm16 8zm43-8zm7 0zm8 2zm125-5zm40 10zm65 2zm-114 22zm-36-4zm-16-2zm-74-4zm-36-4zm-17 20zm-6-14zm-8-4zm-8 16zm-7-6zm-53 16zm-3-4zm-6-24zm-6 26zm-53-18zm-14 2zm-11 7zm-4-8zm-134-10zm108 30zm82 29zm3-9zm11-14zm15 17zm26-22zm3 16zm15-3zm98 5zm77-15zm60 36zm-407 12zm-17-16zm233 31zm36 28z"/><path stroke="#8000ff" d="M2070 148zm402-2zm20-5zm71-19zm328 37zm-235 0zm-62 20zm-484-11zm-4-13zm-7 18zm-71 14zm27 18zm23-4zm2-19zm2 11zm1-8zm31 13zm1-13zm313 19zm38-2zm457 8zm-24 16zm-22-14zm-157 12zm-110 11zm-497-14zm-13-2zm-2-5zm-1 9zm-5 16zm-4-13zm-6-4zm-1-1zm-14 6zm-1-10zm-3 6zm-3 9zm-3 0zm-11-6zm-3 4zm-5 5zm-12-5zm-9-16zm-5 18zm-12 32zm81-1zm2-13zm2-5zm3 9zm16 9zm4-5zm397-3zm24-12zm138 19zm38-3zm36 0zm24 2zm19-20zm127 13zm7 11zm65-12zm-247 43zm-67-22zm-85 6zm-527-4zm-12-5zm349 34zm59 23zm126-14zm14-11zm17 26zm2-13zm2-14zm33 17zm19-1zm10 4zm9-2zm21-11zm13 16zm6-25zm18 22zm78-17zm0 9zm38-7zm4 7zm43 7zm-55 37zm-64-1zm-12-9zm-17-14zm-7-4zm-11 27zm0-23zm-5 16zm-3-13zm-2-5zm-32-2zm-2 8zm-26 4zm-11-9zm-19 18zm-20-4zm-3-14zm-45 14zm-60-12zm-174 22zm-148-22zm113 35zm19 12zm238-14zm9 14zm23-10zm12 3zm4-10zm7 7zm78 6zm10 6zm71-19zm3 4zm43 14zm33-23zm56 4zm251 53zm-82-13zm-132 3zm-13-17zm-35 16zm-87-11zm-4 20zm-14-7zm-18-12zm-9 12zm-37 2zm-5 4zm-2-17zm-10-3zm-14 21zm-31 2zm-8-13zm-4 11zm-87-11zm-2 0zm-25 3zm-4-17zm-30 19zm-34 7zm-6-1zm-9 25zm13 6zm27-26zm23 29zm17-16zm24-8zm48 22zm0-1zm13-25zm48 7zm31-1zm29-7zm24 13zm1 8zm30 6zm30-19zm60 19zm35-21zm43 10zm53-10zm125 35zm-43 0zm-98-6zm-120 2zm-36 7zm-21-4zm-6 6zm-82-9zm-31-1zm-5 11zm-45-6zm-14 5zm-33 8zm-1-1zm-47-14zm-2 0zm-8 16zm-8-12zm-46 15zm-68-19zm-4-8zm-34 2zm-75 24zm-87 4zm94 2zm65 0zm7 2zm13 1zm22 4zm38 12zm8-14zm30 6zm14 11zm50-20zm11-3zm3 19zm23 0zm9 8zm0-22zm35-7zm19 24zm3-15zm18 4zm11 5zm28 6zm77-16zm2 20zm25-13zm21 12zm14-21zm4 19zm14-7zm61-11zm91 34zm-1 3zm-11-2zm-8 10zm-3-3zm-42-9zm-45-5zm-16 5zm-23-9zm-7 22zm-2-7zm-14 3zm-45-3zm-2 4zm-14-4zm-6-12zm-25 17zm-3 1zm-17-16zm-36 16zm-1-5zm-29 9zm-4-21zm-8 2zm-5 8zm-21 10zm-34-4zm-11-19zm-31 9zm-13 2zm-7 7zm-1 6zm-39-26zm-13 18zm0-16zm-36 25zm-11 0zm-17-18zm-25-1zm-14 0zm-2 0zm-21 11zm-91-2zm-15-4zm-61 3zm-147 18zm66 13zm27-3zm57 0zm58-9zm55 16zm82-2zm28-3zm25 9zm3-14zm48-3zm19 13zm35 3zm34 2zm1-10zm40-7zm20 11zm18-5zm3-1zm18 8zm14 4zm1-12zm11-1zm12-6zm1 0zm25 13zm223 1zm53-15zm2-3zm123 51zm-159-21zm-9-1zm-25 3zm-55 23zm-28-3zm-62-9zm-12 13zm-36-21zm-22 11zm-22-17zm-23 13zm-4 8zm-23 0zm-31-19zm-8 16zm-11 1zm-9-4zm-27-5zm-26 11zm-6 1zm-5-19zm-8 18zm-20-12zm-11 10zm-9-2zm-34 8zm-21-2zm-17-16zm-41-3zm-114 17zm-82-4zm-209-15zm127 44zm234 4zm8-12zm36 4zm19 11zm24-15zm5 17zm10-2zm1-16zm29 16zm33-15zm6 10zm9 5zm13-11zm5 4zm4-7zm10 5zm9-9zm31-5zm17 23zm45 1zm20-22zm60 0zm3 20zm8 3zm7-1zm25-24zm11 6zm12 10zm12-11zm7-3zm7 18zm6 3zm0-23zm92 3zm31 24zm24-2zm32-15zm65-1zm6 9zm129-20zm-192 43zm-11-5zm-5 14zm-97-17zm-8 3zm-31 4zm-26-4zm-39 0zm-8 20zm-3-16zm-30 14zm-5-2zm-14 0zm-24-3zm-12-4zm-23-9zm-18 7zm-34-10zm-12 0zm-12-2zm-25 15zm-13 11zm-36-2zm-8-2zm-19 2zm-12-27zm-2 21zm-17-16zm-53 19zm-18 2zm-16-25zm-7 24zm-27-7zm-29-16zm-20 23zm-9 2zm-7-2zm-7 0zm-138-23zm13 40zm57 7zm20 7zm13-16zm27-8zm65 14zm87 10zm12-11zm62 4zm1 10zm41-20zm80 7zm1-9zm11 19zm14-24zm15 25zm3-17zm7 2zm8 2zm1 13zm6-27zm6 16zm13 7zm18-15zm4 0zm46 14zm11-16zm70 22zm77-8zm36-10zm122 0zm36 3zm27 10zm23 9zm-21 9zm-61-4zm-29 9zm-8-3zm-127 14zm-39-26zm-95 9zm-3 7zm-1 8zm-2-16zm-39 18zm-5-12zm-11-2zm-9 6zm-12-18zm-37 13zm0-13zm-13 10zm-37 0zm-16 4zm-24 11zm-43-25zm-31 14zm-56-3zm-20 16zm-4-25zm-21 11zm-19-12zm-262 47zm65-12zm42 14zm104-18zm7 24zm37-3zm34-12zm92 7zm13 5zm0-16zm26 0zm0 6zm30 3zm13 0zm73 1zm1-7zm35-11zm21 12zm30 8zm1-18zm0 9zm7 12zm4-16zm2 5zm29 8zm16-3zm23-9zm25 1zm65 7zm6 9zm20-9zm3-1zm64 5zm20-8zm23 3zm0-10zm18 4zm7 18zm8-3zm19-3zm12-10zm1 6zm2 11zm2-28zm1 8zm6 4zm7 2zm2 8zm12 4zm5-16zm3 12zm16-2zm9-11zm11-2zm9 12zm0-7zm36 25zm-33 20zm-33-16zm-11 5zm-5 11zm-1-2zm0-8zm-6-10zm-4-5zm-2 19zm-7-13zm-13-2zm-1 5zm-1-1zm-4 0zm-3 9zm-4 5zm-44-2zm-159-11zm-103-2zm-19-5zm-59 10zm-41-3zm-50 6zm-4-14zm-11 22zm-7 4zm-9-23zm0 16zm-65 4zm-37-21zm-4 10zm-32-9zm-23 0zm-7-6zm-33 19zm-88 9zm-52-7zm-202 25zm216-10zm84 19zm53-11zm33-3zm1-2zm64-2zm20 14zm4-16zm13 22zm11-27zm24 11zm92-4zm46 9zm8-5zm18 12zm18-12zm3-8zm7 8zm42 12zm191 4zm58-25zm25 18zm0 1zm7-17zm7-3zm5 7zm4 21zm4-13zm1-15zm4 4zm12 12zm11 10zm2-13zm1 12zm16 0zm0-4zm5-7zm66-8zm1 17zm-54 8zm-14 5zm-18 7zm-15-2zm-1-3zm-17 4zm-6-6zm-24 0zm-47 4zm-71 11zm-76 3zm-24-15zm-38 14zm-145 5zm-30-15zm-44 13zm-33-10zm-13 3zm-72 6zm-34-19zm-1 18zm-43-8zm-8-7zm-29-8zm-88 3zm-5 26zm9 3zm219 12zm100 8zm36-1zm15-16zm89 3zm48 2zm141 3zm17 6zm164-21zm558 36zm-10-1zm-7 3zm-4 6zm-3-7zm-27 4zm-471 7zm-41 6zm-162-3zm-182-13zm-75 20zm-51-3zm-45-16zm-5-9zm-6 24zm-33-8zm-36 12zm-4 0zm-23-27zm-154 0zm-21 10zm89 20zm54 26zm10-16zm42-8zm33 0zm40 5zm6-2zm1 22zm2-8zm8-9zm13 16zm33-16zm7 15zm228-7zm5 9zm17-27zm-240 57zm-21-3zm-6-12zm-29 3zm-6 0zm-7-15zm-12 19zm-3-17zm-5 16zm-8-12zm-7-2zm-7 22zm-5-20zm-4 15zm-10-2zm-1-3zm-9-4zm-21-11zm-84 4zm41 32zm39 7zm4-15zm39 21zm7-19zm0 18zm1-14zm8 20zm3-16zm17-1zm25 3zm131-11zm179 7zm48 2zm-8 35zm-81 2zm-17 11zm-202-11zm-12 9zm-5-3zm-27-1zm0-4zm-3-15zm-30 11zm-18 14zm-2-1zm-48-21zm-25 22zm-13-4zm-66-23zm-233 4zm16 43zm279-17zm3 1zm16 8zm11 6zm3-5zm4 18zm10-20zm12 6zm5 8zm13-18zm2 14zm2 2zm23 5zm17-21zm5 18zm3-9zm1 13zm2-9zm50-7zm72-11zm209 15zm-67 25zm-249 8zm-5-6zm-31 17zm-18-28zm-80 6zm-26 17zm-250 11zm285 5zm5 9zm62-17zm53 15zm72 10zm-105 19zm-20-3zm-52 10zm-4-14zm-4 11zm-12 5zm-98 8zm49 2zm46 10zm150 22zm-34-6zm-118-1zm75 50zm215 3zm12 11zm-496 14zm34 26zm189-11zm-163 76zm95 18zm186 32z"/></g>
<rect x="172.8" y="3.6" width="206.6" height="143.8" fill="none" stroke="#606060" stroke-width=".7"/>
<text class="tk" text-anchor="middle" x="212.0" y="154.3">−2</text><text class="tk" text-anchor="middle" x="253.4" y="154.3">0</text><text class="tk" text-anchor="middle" x="294.8" y="154.3">2</text><text class="tk" text-anchor="middle" x="336.2" y="154.3">4</text><text class="tk" text-anchor="middle" x="377.6" y="154.3">6</text><text class="tk" text-anchor="end" x="169.9" y="141.9">−3</text><text class="tk" text-anchor="end" x="169.9" y="124.1">−2</text><text class="tk" text-anchor="end" x="169.9" y="106.3">−1</text><text class="tk" text-anchor="end" x="169.9" y="88.5">0</text><text class="tk" text-anchor="end" x="169.9" y="70.7">1</text><text class="tk" text-anchor="end" x="169.9" y="52.9">2</text><text class="tk" text-anchor="end" x="169.9" y="35.1">3</text><text class="tk" text-anchor="end" x="169.9" y="17.3">4</text><path d="M212.0 147.4v1.5M253.4 147.4v1.5M294.8 147.4v1.5M336.2 147.4v1.5M377.6 147.4v1.5M172.8 140.1h-1.5M172.8 122.3h-1.5M172.8 104.5h-1.5M172.8 86.7h-1.5M172.8 68.9h-1.5M172.8 51.1h-1.5M172.8 33.3h-1.5M172.8 15.5h-1.5" stroke="#555" stroke-width=".5" fill="none"/>
<rect x="352.6" y="6.0" width="22.4" height="37.6" rx="1" fill="#fff" fill-opacity=".8" stroke="#ddd" stroke-width=".5"/>
<rect x="354.6" y="9.3" width="11.2" height="3.4" fill="#8000ff"/>
<text x="369.8" y="12.9" class="lg">0</text>
<rect x="354.6" y="16.5" width="11.2" height="3.4" fill="#00b5eb"/>
<text x="369.8" y="20.1" class="lg">1</text>
<rect x="354.6" y="23.7" width="11.2" height="3.4" fill="#80ffb4"/>
<text x="369.8" y="27.3" class="lg">2</text>
<rect x="354.6" y="30.9" width="11.2" height="3.4" fill="#ffb360"/>
<text x="369.8" y="34.5" class="lg">3</text>
<rect x="354.6" y="38.1" width="11.2" height="3.4" fill="#ff0000"/>
<text x="369.8" y="41.7" class="lg">4</text><text class="cap sb" style="font-size:9.2px" text-anchor="middle" x="272.8" y="162.9">(a)</text>
<g class="pt" transform="scale(.1)" stroke-width="10.0" stroke-opacity="0.9"><path stroke="#78f5aa" d="M1323 1854zm-10 3zm-18-10zm-1-8zm-77 15zm-19 9zm29 7zm7 14zm10-11zm18 7zm61-9zm-31 35zm-25 5zm-6 3zm-39-22zm-27 26zm-12-3zm-9-13zm-3-10zm-13 7zm-23-6zm-169 53zm45-14zm19-6zm20 13zm3-7zm9 9zm5-6zm14 1zm30-7zm10 8zm2-2zm0 3zm1-15zm5 19zm1-11zm10 12zm6-17zm34 5zm11 4zm11-2zm3-9zm3-2zm15-1zm5 8zm5 9zm37-14zm15 2zm20 33zm-12 15zm-38 3zm-3-25zm-16 13zm-16 10zm-27 0zm-12 3zm-1-6zm-4-9zm-28 14zm-3-17zm-6 0zm-11 9zm-1 2zm-2-19zm-8 7zm-7 8zm-3 10zm-2-16zm-2 13zm-4-19zm-3 2zm-19-1zm-1 23zm-2-15zm-9-5zm-10 15zm-1-7zm-4 10zm-4-26zm-15-1zm-7 14zm-5-2zm-15 9zm-5-14zm-3 18zm-4 1zm-1-4zm-2-9zm-3 15zm-1 0zm-3-21zm0 13zm-17-9zm-8 13zm-5 4zm0-14zm-3 14zm-2-10zm-2-3zm-5-12zm-1-1zm0 6zm-3 6zm-6 13zm-1-2zm-1-20zm-3 15zm-10-4zm-3-16zm-2 12zm-4 1zm-34 12zm-1-21zm-3 15zm-1 7zm-13-16zm-3 6zm-1 1zm-20-15zm-2 16zm-4 7zm-8-14zm-18 16zm-10-6zm-22 5zm-11 2zm-7-10zm-20 11zm-17-3zm-13-6zm-87 39zm21-8zm10 5zm7-1zm1-8zm5 3zm8-4zm1-5zm8 15zm2-13zm9-2zm22 16zm1-16zm1 13zm3 1zm2-1zm4-4zm9 7zm1-25zm2 0zm10 13zm1-9zm0 4zm1 0zm2 13zm19-9zm0 10zm2-12zm16 4zm0 13zm7-7zm3-16zm9 19zm0 3zm1-12zm2-11zm7 0zm0-5zm2 1zm7 16zm7-1zm3 1zm5 4zm6-15zm3 2zm4 4zm3-4zm1-2zm15 20zm0-4zm2-13zm3 12zm8-2zm13 4zm3-11zm1-1zm1 16zm2-10zm5 12zm2-23zm7 23zm13-26zm0 22zm3-18zm2-6zm0 7zm3 4zm5-5zm9 0zm3 8zm1 4zm2 4zm0-1zm0-18zm8 1zm1-4zm2 6zm0 14zm2-20zm2 4zm2 20zm1-5zm2-1zm1-3zm3-14zm3 5zm3-1zm1 21zm7-15zm1 14zm3-21zm5 18zm3-21zm7 2zm2-3zm1 9zm3 6zm3-2zm0 13zm10-25zm1 22zm1-5zm5 3zm5-3zm2-18zm11 15zm14-10zm5 13zm1 2zm1-5zm14-15zm3 25zm5-18zm11 8zm2 1zm7 3zm0 4zm0-23zm4 13zm4 12zm1-2zm5-18zm4 21zm10-21zm6 1zm23 3zm14 19zm15-10zm9-6zm19-3zm1-6zm17 18zm-88 33zm-8-11zm-49-6zm-3 8zm-3-2zm-2 4zm-5 5zm-3-8zm-1-9zm-7-3zm-5 13zm-22-16zm-11 7zm-10 5zm-4 4zm-1-14zm-14 25zm-6-11zm-2 2zm-4-6zm-4 17zm0-8zm-1-9zm-7 1zm-3 1zm0-7zm-6 20zm-9-17zm-1-6zm-5-2zm-1 11zm-1 16zm-9-22zm-2 21zm-1-22zm-3-3zm0 6zm-7 9zm-13-1zm-5-4zm-1-12zm-3 8zm-2 16zm-3-15zm-2-9zm-8 12zm-2 12zm-1-7zm0 1zm-6-11zm0 15zm-2 4zm0-25zm-4 27zm-3 0zm0-21zm-5 4zm-4 3zm-8 0zm-2 11zm-1-14zm-1-11zm-9 10zm0-6zm-2 18zm0 0zm-2-3zm-2-20zm-1 21zm-1 4zm0-6zm-7 0zm0-7zm-10 12zm-3-4zm-5-11zm0 2zm-1 0zm-2-4zm-9 14zm-7-4zm-3-6zm-1-11zm-1 22zm0-5zm-4 9zm-1 2zm-7-19zm-3 11zm-1 9zm-3-26zm-7 18zm0 2zm-2-7zm-3 12zm0-11zm-3-4zm-3-11zm-6 13zm-6-5zm-2-3zm-1 18zm-3-23zm-2 10zm-6-10zm-1 5zm-2 5zm-1-1zm-7-3zm-3-4zm-2 6zm0-9zm-9 27zm-5-20zm-11 12zm-1-4zm-3-15zm-2 25zm-2-22zm-4 5zm-10-9zm0 24zm-4-21zm-7 21zm-1-2zm-17-16zm0-4zm-1 18zm-2 7zm0-15zm0 17zm-7-13zm-4 1zm-3-15zm-4 2zm-2-4zm-9 18zm-3-10zm-1-1zm-4 8zm-10-3zm-1-2zm-4-7zm-1-3zm-5 8zm-19 2zm-8 14zm-2 2zm-19-17zm-2 7zm-5 11zm-4 0zm-12-21zm-18 16zm-4-11zm-93 42zm3 6zm2-6zm29 6zm11-22zm2 3zm8-2zm6-6zm5 13zm4-8zm2-7zm1 23zm3-15zm3-7zm10 5zm3 23zm2-28zm9 4zm2 15zm12 4zm4 0zm0-16zm14 2zm0 7zm6 10zm3-23zm0-4zm14 14zm5 15zm1-5zm8 4zm1-6zm1-15zm6 20zm10-14zm0 16zm0 0zm5-9zm4 5zm4-16zm3 6zm2 11zm1-24zm5 16zm2 7zm2-8zm2-11zm11 1zm7-3zm2 16zm3 7zm7-9zm1-15zm0 22zm0 3zm1-10zm0 8zm1-4zm0-22zm16 25zm1-4zm5 7zm3-26zm2 10zm1-12zm4 2zm1 19zm3-1zm6-9zm2-10zm4 20zm1-3zm3-1zm3 4zm1 0zm0 1zm2 4zm4-10zm3 2zm1-10zm1 5zm2-1zm1 1zm12 2zm1-9zm1 8zm1 13zm10-23zm3 1zm1 7zm2-5zm6-4zm3 7zm3 2zm3 16zm1-9zm5 1zm4-17zm1 20zm1 4zm3-7zm2-8zm18 17zm2-7zm1-5zm0-3zm2-6zm0-3zm3-3zm8 13zm1-1zm2-4zm2-10zm0 1zm2-1zm7 27zm2-18zm9-5zm6 5zm3 18zm7-24zm5-3zm5 1zm4 8zm1 4zm2-12zm5 21zm2-6zm4-7zm3-4zm17 5zm0 8zm3 2zm1-18zm1 4zm1 15zm12 2zm12-18zm2 14zm6-1zm11-2zm10-5zm22 18zm3 0zm4-21zm51 1zm2 14zm6 2zm34-23zm6 2zm-27 32zm-10-2zm-6 19zm-2 2zm-7-19zm-40 10zm-1 8zm-30-9zm-16-6zm-28 18zm-2-17zm-14-7zm0 17zm-4 9zm-7-12zm-39-5zm-6-4zm-2 9zm-14-1zm0 2zm-21-1zm-7-12zm-1 1zm0 2zm-1 7zm-1-12zm-3 1zm-4 11zm-12-2zm-1 5zm-7-13zm-10 9zm-2-7zm-4 2zm-3 2zm-6-6zm0 12zm-6-2zm-3-5zm0-8zm-3-1zm-6 0zm0 11zm-12-4zm-2 18zm-2-1zm-3-9zm-7-7zm-3 4zm-1 0zm-3 13zm-2-26zm-12 29zm0-3zm-1-9zm-11-3zm-1-9zm-4-2zm-5 13zm0 3zm-1-14zm0-3zm-1 15zm-5-15zm-3 0zm-1 10zm-2-5zm-1 11zm-3-14zm-9 12zm-1 4zm-10-6zm0 12zm-3 3zm-1-6zm-1-22zm-1 13zm-2 13zm-1-12zm-3-6zm0 13zm0-4zm-1 11zm-1-19zm-2-8zm-8 18zm-1-1zm-1-12zm-1-2zm-3 7zm-2 1zm-7-10zm-3 10zm-7 7zm-3 0zm-1-5zm-2-4zm-6 14zm-2-15zm-7 10zm-1-4zm0-8zm-1 1zm-2-2zm-6 8zm-4-7zm-2 8zm-3-5zm-1 10zm-1-9zm0-10zm-3 8zm-1 4zm-4-14zm-1 25zm0-18zm-1 7zm-2 4zm-3 2zm-2-4zm-1-5zm0 10zm-2 6zm0-8zm0-4zm-1 10zm-2-23zm-2 1zm-3 26zm0-8zm-1-12zm0-7zm-12 17zm-2-11zm-3 15zm0-8zm-6 4zm-2 9zm-1-7zm-4-9zm-8-11zm-5 26zm-7 1zm-2-15zm-1 11zm-1-19zm-5 9zm-4-4zm-1 19zm-6-16zm-2 5zm-10 6zm-1-11zm-5 4zm-6 7zm-7-13zm-2 0zm0 1zm-2 8zm-1 4zm-4-1zm-1-13zm-6 3zm0-12zm-19 9zm0 7zm-4 0zm-5-2zm-5 14zm-2-11zm-3 5zm-7 2zm-4-7zm-12 2zm-76 38zm8-1zm9-21zm25-3zm4 22zm2 0zm2-10zm7-12zm12 11zm3 10zm21-13zm4 14zm1 0zm4-24zm0 16zm12 11zm1-2zm6-15zm3 13zm2-1zm1 0zm5-15zm12-8zm5 28zm1 1zm0-9zm0 8zm8-12zm3-7zm1 3zm4 7zm1 9zm12-5zm3-16zm3 13zm12-20zm5 13zm8-9zm4-2zm3 12zm4-11zm0 17zm2 7zm4-9zm4-17zm2 28zm0-23zm4 23zm9-22zm2 20zm2-23zm1 13zm5-3zm1-7zm0-1zm0-6zm5 12zm0 5zm6-7zm10 14zm0 2zm4-22zm4 4zm1 15zm3-3zm0-14zm3 10zm3-12zm0 9zm1 6zm4 7zm1-9zm1 7zm0-20zm2-3zm2 23zm0-5zm7-7zm2 8zm9 1zm0-5zm2 11zm6-26zm0 5zm4 16zm0-14zm1-3zm4 17zm0-14zm2-1zm2 1zm5 0zm2 0zm2 21zm5-14zm3 5zm6 8zm0-23zm9 24zm4-27zm1 17zm6-9zm3-6zm4 18zm5-2zm7-6zm2 4zm0-7zm9 3zm2 4zm3-4zm4 13zm3 2zm0-28zm2 22zm2-6zm8-9zm1-6zm2 15zm9-12zm6 0zm8 0zm3 19zm2 3zm1-26zm2 2zm4 10zm10-9zm2 0zm3-4zm2 1zm6 16zm3-17zm9 13zm3-10zm0 0zm2 1zm3 15zm6-18zm45 1zm9 27zm21-28zm15 14zm19-3zm1-11zm44 25zm9-18zm1 5zm17 4zm3-16zm5 4zm6 15zm2-20zm10 23zm5-18zm85 10zm-81 40zm-11-12zm0-4zm-4-7zm-3 13zm-12-7zm-4 8zm-2-2zm-3-1zm-10 6zm-1-7zm-10-6zm-42 3zm-3 19zm-17 1zm-4-27zm-2 16zm-26-12zm-33 18zm-25-9zm-21-14zm-12 25zm-10-3zm-60 3zm-25 2zm-12-27zm-12 1zm-11 5zm-2 9zm-4 6zm0 3zm-3-6zm-1 8zm-1-7zm-2 0zm-1-20zm-4 27zm-9-25zm-15 3zm-8 10zm-1 2zm-1 10zm-19-17zm-2 11zm-3 7zm0-16zm-6 15zm-1-12zm-2 1zm-4 6zm-2-17zm-8 23zm-1-27zm-2 26zm-3-12zm-1 5zm-1-9zm-2 3zm-1 2zm-3-10zm-1 22zm0 1zm0-29zm-7 28zm-2-5zm-6-15zm0-7zm-1 12zm-8-10zm-3 11zm-4 2zm-1 13zm-3-16zm-6 16zm-3-19zm-1-2zm-5 4zm-1 6zm-4-16zm-3-1zm-4-1zm-1 9zm-5-5zm-3 17zm-1-12zm-5 1zm-4 3zm-3-10zm-11 21zm-2-14zm-2-8zm-3 8zm-5 3zm-2-2zm-2 4zm0 8zm-6-1zm-10-9zm-2 14zm-2-1zm-6-1zm-6-1zm-4-21zm-4 12zm-3-4zm0 17zm-1-11zm-3-6zm-1-1zm-4 14zm-2-3zm-1-13zm-8 2zm-3-3zm-7 16zm-2-7zm-3-11zm-3 22zm-2-11zm-10-4zm-2 7zm0 5zm-7 1zm-1-6zm-10 10zm-12-15zm-2-6zm-5 13zm0-7zm-11-1zm-4 11zm-1-22zm0 1zm-3 22zm-8-13zm-4-1zm-2 3zm-2-6zm-2 14zm-5 6zm-8-7zm-1 3zm-7 2zm-6-2zm-10-2zm-3 4zm-9 22zm3-2zm9-10zm11 13zm7-8zm6-2zm13-6zm6 18zm7-1zm1-19zm5 18zm1-10zm6 17zm8 3zm0-27zm4 23zm2 3zm1-10zm11-16zm2 12zm1 5zm9-4zm3-7zm9 20zm5-5zm1-12zm1 18zm0-6zm1-11zm1 10zm3-8zm2-5zm2-9zm1 3zm7 10zm4 10zm5-7zm0-6zm4-6zm3 0zm1 6zm2-2zm4-7zm9 16zm2-2zm2-9zm1-6zm1 3zm3 25zm1-26zm1 11zm5-7zm2 0zm4 17zm4 0zm1-3zm5 8zm0-25zm2 4zm1 12zm2-19zm4 13zm2 14zm1-10zm6-15zm3 24zm3 3zm4-6zm2-18zm1 2zm5-7zm1 4zm1 8zm10 13zm2-25zm7 16zm4 5zm7-6zm3 0zm13-9zm2 14zm7-13zm2 21zm3-25zm6 2zm0 1zm3 0zm6 19zm0-13zm0 6zm2-14zm5 1zm2 0zm1-1zm6-4zm5 8zm0 1zm3 9zm2-12zm1 0zm2 22zm2-21zm6-5zm8 9zm3 7zm6 10zm4-15zm2-4zm3 12zm2-14zm2-6zm0-1zm12 8zm11-7zm0 22zm12-23zm5 6zm43 21zm52-8zm33-1zm8-7zm36-8zm12 23zm38-25zm1 8zm1 5zm12-11zm9 16zm12-1zm8 3zm6-10zm0 5zm5-12zm10 10zm2 9zm0-16zm12 20zm0-25zm6 18zm3 3zm16-21zm0 13zm3 5zm6-3zm15 5zm1-17zm-14 35zm-30-7zm-7 18zm-5-11zm-4 9zm-31-10zm-38 19zm-41-18zm-18 6zm-43-11zm-23 15zm-2-14zm-60 2zm-128-5zm-16 2zm-66 5zm-26-4zm-12 7zm-2-5zm-12 1zm-7 10zm-1-10zm-26-9zm-4 3zm-5 8zm-1 16zm-19-24zm-5 16zm-4-14zm-16 7zm-8-9zm-18 2zm-15 6zm-1-5zm-7 5zm-9-6zm-21 13zm-2-9zm-7-5zm-8-2zm-14-2zm-8 14zm-13-4zm-2 10zm-11-4zm702 20zm38 21zm1-6zm2-7zm5 8zm0 0zm5-22zm19 14zm20 17zm-24 7zm-20 12zm-28-15zm0 9zm-15 14zm-13 25zm10-3zm25-17zm10 25zm0-23zm11 19zm3 4zm4-14zm7 4zm-21 19zm-2-1zm-20 14zm-2-9zm-16 4zm-12 9zm-8 7zm10 14zm38 15zm-27 4zm-18 27zm12 5zm2 20zm7 2zm1-21zm-11 27zm-10 12zm-6 7zm-21-7zm-29-6zm13 35zm2-12zm25-1zm4 18zm9-17zm20 50zm-6-8zm-3 7zm-10 0zm-35 4zm-14 22zm4 4zm3-22zm12 1zm3 21zm4-8zm33 0zm0 2zm18-3zm-86 74zm5 0zm1 1zm8-8zm3 2zm5 6zm2-15zm12 16zm15-9zm34 1zm-13 29zm-4-19zm-4 0zm-3 4zm-1 12zm-1-12zm-1 9zm-4-1zm-2 3zm-1 13zm-4-22zm-3 18zm-1-3zm-2-6zm0-7zm0 2zm-2 6zm0-7zm-6 16zm-1-16zm0 5zm0-8zm-3 13zm0 0zm-4-1zm-2-9zm-1-1zm-3-1zm0 11zm-2 1zm-1-14zm-12 9zm-11-1zm-1 0zm25 18zm10 13zm0-2zm0 8zm5-16zm1 14zm6-14zm5-4zm5 13zm0-8zm5-4zm2-2zm14 20zm6 10zm-46 1z"/><path stroke="#00b0ea" d="M1794 1789zm-46 10zm-7-18zm-2 16zm-16-16zm-5 11zm-12-2zm-24-1zm-3 10zm-11-9zm-10-2zm-24-10zm-2-7zm-422 25zm-15 6zm4 27zm17-17zm310 17zm12-23zm3 21zm10-6zm8-17zm17 17zm1-4zm19 3zm2-16zm13 12zm1 12zm6-4zm2-1zm4-15zm9 12zm5 1zm1-18zm27 20zm2-1zm0-14zm0-5zm24 22zm8-7zm2 7zm15-23zm2 7zm9-7zm2 20zm1-2zm5 2zm1-15zm11 12zm12 9zm4-1zm20-14zm3-8zm2 7zm0-2zm4-7zm3 20zm18-12zm0 9zm2 2zm4-2zm4 8zm1-4zm2-13zm30 11zm3-5zm67 41zm-13-6zm-17-1zm-21 2zm-6 2zm-7-7zm-4-5zm-3 16zm-11-21zm-4 6zm-3 3zm-2-7zm0-9zm-3 4zm-21-2zm-10 25zm-5-6zm0-18zm-1 4zm-1 4zm-1 13zm-8 2zm-3-22zm-2 23zm-1-3zm-4-10zm-2-2zm-13 13zm-2-2zm-3 1zm-13-19zm-10-6zm-1 27zm-4-25zm-1 14zm-2-13zm-10 16zm-4-3zm-2-12zm-6-3zm-10 22zm-6 3zm-3-14zm-8 14zm-6-15zm0-2zm-3 0zm-3 20zm-2-10zm-12-2zm-57 12zm-5-14zm-1 5zm-2-10zm-1-3zm-2 17zm-3-8zm-6 12zm-5-15zm-6 13zm-18-5zm-11-8zm-5-12zm-7 5zm-5 9zm-13-5zm-3 7zm-10-3zm-18 8zm-47 1zm-1-1zm-30 6zm-32-13zm-11 9zm-5 3zm-65-2zm-21 10zm2 8zm10-10zm8 18zm1-5zm3 3zm5-19zm4 13zm1 5zm9-4zm6-2zm6 5zm14 5zm1-20zm21 10zm9-6zm20 19zm7-18zm8 1zm2 12zm2-2zm15 5zm2-1zm1-12zm6-1zm2 14zm1-16zm5 15zm21-15zm6 18zm2-5zm9-11zm6-1zm8 1zm20 10zm2-2zm4-6zm12-1zm2 0zm2 3zm1-12zm12 7zm5 11zm3-15zm5 13zm6 4zm11-13zm1-3zm5 3zm7-5zm12-3zm1 27zm6-8zm0 4zm6 0zm7-1zm9-8zm14 13zm0 0zm2-17zm2 17zm4-6zm1 2zm4-21zm2 24zm0-6zm3-8zm5 2zm6-3zm3-8zm1 0zm5 18zm1-1zm4-2zm1-6zm1-1zm3 15zm2-8zm3 5zm3 4zm4-5zm3-7zm13 10zm3-1zm3-1zm3-17zm0 1zm1 7zm1-13zm4 12zm1-6zm1 18zm4-9zm1-16zm1 11zm2-6zm12-1zm3 6zm2 0zm1-4zm2-6zm0 3zm6 15zm1-11zm4 8zm1 7zm0-7zm6 6zm2-4zm1-8zm5 6zm6-6zm1 19zm9-27zm6 26zm5-13zm4 4zm8 6zm1-15zm4-3zm2-2zm3 1zm8-3zm5 9zm2 5zm2-1zm6 14zm4-5zm2-22zm5 4zm2 14zm0-6zm10-4zm4 18zm6-2zm0-16zm4 9zm4-3zm7-1zm2 8zm18 2zm3-10zm11 2zm27 5zm7 25zm-1 2zm-4 6zm-9-6zm-26-12zm-1-6zm-4 27zm-1-24zm-3 17zm-1-9zm-5-11zm0 27zm-2-17zm-4 17zm0 1zm-4-9zm-12-5zm-5 6zm-5-3zm-1-11zm-4 5zm-10-4zm-9 19zm-1-17zm0 0zm0 10zm-3 5zm0-20zm-3 3zm-4-7zm-10 17zm-2-9zm-2 13zm-4-11zm-6 5zm-4 0zm-5 2zm0 9zm-4-10zm-2 6zm-1-1zm-2-14zm0 5zm-5-10zm0 7zm-8 11zm-5-18zm-3 21zm-2-15zm-2-8zm-1 8zm0-2zm-1 7zm-13-1zm-5-11zm-6 7zm-1-4zm-10 24zm-7-9zm-1-3zm-1 5zm-3-10zm0 7zm-2-17zm-2 0zm-4 16zm-8-9zm-9-5zm-2 2zm0 3zm-2-2zm-4 8zm-3-8zm0-4zm-2 9zm-5 11zm-4-14zm-2 5zm0 14zm-8-13zm-1-10zm-2 11zm-2-13zm0 18zm-1 1zm-1-11zm-2 16zm0 1zm-4-4zm-6-23zm-2 12zm-3 16zm-3-21zm-1 21zm-6-23zm-13 13zm-5-7zm-3-11zm-3 17zm-2-11zm-18 12zm-1-18zm-4 25zm-1-1zm-3 1zm-4-11zm-1 4zm-7-4zm0-5zm-1 0zm-1 1zm-15 9zm-3-1zm-9 8zm-1-23zm-3 25zm-5-13zm-1 7zm-1-16zm-2 7zm-3-13zm-1 21zm-2-5zm-2 6zm-6 0zm-7-8zm0-13zm-5 17zm-3 9zm-5-24zm-1 5zm-6 4zm-7 8zm-9 0zm0 7zm-8-4zm-5 3zm-6-24zm-34 25zm-3-15zm-2-11zm-5 23zm-13 2zm0 0zm-13-15zm-11 9zm-2-1zm-1-12zm-6 1zm-3 0zm-6 2zm-8 5zm-3 3zm-1-9zm-19-9zm-5 0zm-1 27zm-4-13zm-6 9zm-10-13zm-29 6zm0 0zm-6-2zm-6-9zm-2-2zm-24 12zm-6-5zm-17 17zm-7-11zm-8 3zm-14 4zm-25 30zm3-18zm12 12zm3 1zm2 2zm1 4zm15 3zm4-10zm6-6zm4 13zm2-10zm7 7zm5-19zm2 5zm13 17zm7-5zm11-17zm43 23zm16-16zm2 14zm5-11zm0-11zm2 10zm1-12zm10 13zm4 8zm4-1zm6 9zm5-3zm1 2zm3-14zm3-14zm2 16zm1 10zm7-3zm17-15zm7 8zm15-14zm3 15zm12-11zm16 9zm27 2zm13 2zm7-9zm3 7zm6-5zm1 2zm6-9zm2 2zm1 19zm3-18zm4 20zm1-15zm9-7zm8 3zm3-6zm0 26zm1-18zm3 1zm3-12zm3 22zm2-8zm2 0zm8 9zm3 3zm1-18zm6 19zm2-4zm2-18zm2 11zm8 5zm3-18zm6 23zm1-6zm7-2zm0-17zm1 9zm3-6zm7 3zm1-1zm5 17zm5 1zm2-12zm2 12zm1-22zm1 2zm5-2zm2 12zm2-9zm4 12zm10 4zm4 0zm3-11zm9-9zm5 17zm0-10zm0-7zm13 4zm2 13zm1-14zm3-1zm4 7zm2 0zm2-7zm2 19zm4-15zm5 17zm1-24zm3 26zm2-3zm3-1zm1-15zm1 17zm2 3zm6-7zm6-12zm0-4zm0-4zm0 1zm1 26zm4-21zm0 2zm6 11zm5-16zm2 8zm2 10zm3-4zm1 8zm3-22zm1 8zm1 5zm0 3zm1-19zm1 24zm4-9zm6-5zm0-1zm14 10zm0-12zm1 12zm2-11zm1-3zm0 21zm1-25zm5 7zm2-7zm2 21zm1-3zm1-5zm1-10zm2 17zm0-11zm6 4zm0-6zm3 4zm3-6zm4 4zm3-8zm10 14zm8 9zm1-24zm3 23zm1-4zm3 1zm0 0zm12-5zm4-7zm7 17zm7-5zm4-2zm14 10zm2-2zm1-8zm0-15zm1-1zm4 8zm11 17zm1-3zm3-21zm2 24zm2-16zm8-11zm6 24zm7-2zm4-16zm0 3zm1-10zm9 5zm2-4zm1 3zm2 20zm1 0zm1-24zm1 17zm10-6zm7 4zm17-2zm3 29zm-1 10zm-9-6zm-2 12zm-14-12zm-12-5zm-2 5zm-2-12zm-2 13zm-1-1zm-8-7zm-3-8zm-3 1zm-7 27zm-3-27zm0 9zm-3-7zm-5 3zm-5 7zm0 13zm-20-18zm-2 5zm-1-10zm-1-1zm0 9zm-15-10zm-4 8zm-9 4zm-4-9zm0 10zm-1-6zm-6-2zm-3 12zm-8-10zm-2-4zm-1-3zm0 7zm-5 11zm-2-14zm-2 23zm-2-13zm-7-6zm-1-7zm-6-2zm-2 13zm-7-2zm-4-7zm0 21zm-5-25zm-1 18zm-10-14zm-1 12zm-5 8zm-3 1zm-5-4zm-3-22zm-2 26zm-1-9zm-3 1zm-2-5zm-2 13zm-1-9zm-3 12zm-3-7zm-2-21zm0 19zm-2 5zm0-15zm0 13zm0-20zm-1 7zm-3 2zm-1-10zm-1 7zm-1 17zm-1-11zm-4-7zm-5 2zm-4 8zm-2 8zm-4-3zm-1-19zm-1 15zm-1-5zm-4 15zm0-18zm-1 8zm-2-1zm-1-18zm-3 18zm-15 9zm-4-1zm-3 1zm-1-11zm0 5zm0 0zm-4-18zm0 10zm0 0zm-5-13zm-10 22zm-1 5zm-3-18zm-7 6zm0 1zm-6-5zm-1-1zm-1 18zm-1-12zm-19-2zm-1 1zm-4-13zm-6 26zm-5-12zm-2 12zm-3-18zm-1 10zm-1-4zm-1-7zm-1 1zm-5 16zm-4-17zm0 8zm-8 1zm-1-1zm-11-5zm-4 17zm-6-26zm-9 4zm-1 20zm-10-11zm-3 3zm-12 7zm-12-4zm-14-4zm-19 4zm-1-16zm-1 1zm-13 11zm-2-2zm-6-13zm-1 19zm-2-8zm-2-1zm-2 1zm-2-4zm-6-1zm-2 15zm-22-8zm-2-14zm-3 24zm-11-20zm-2 11zm-7-14zm-7 17zm-4-8zm-2 4zm-13-4zm-29 9zm-14-9zm-15-12zm-11 10zm-8 14zm-6 3zm-6-13zm-6-2zm-6 4zm-3 8zm-2-20zm-7 13zm-3 0zm-9-4zm-1-11zm0 10zm-1-3zm-6 14zm-5-9zm-2-10zm-1 12zm-15-16zm-2 21zm-7-10zm-15-6zm-5 21zm-1-10zm-17-14zm-5 5zm-2-1zm-8 5zm-1-10zm-18 22zm-8-19zm-10 12zm-8-10zm-4 7zm-24 39zm6-2zm7-7zm40-4zm84-5zm9 3zm4 8zm7-8zm24 8zm6-14zm6 3zm5 24zm1-16zm3-2zm12 9zm4-2zm7 12zm2-26zm1 20zm10-23zm0 19zm7-15zm6-1zm6 16zm28-3zm12 3zm5 9zm13-25zm9 7zm2 5zm10-2zm19-9zm6 4zm4-3zm3 6zm4-7zm2 0zm2 9zm1-8zm5 7zm1 10zm4 3zm3-19zm4-4zm19 5zm0 2zm2 16zm1-9zm3-1zm16 3zm2 7zm4-19zm2 23zm6-24zm1 1zm13-5zm9 18zm3-4zm3 11zm1-25zm2 23zm1-10zm5-11zm6 1zm7 13zm0-13zm3 11zm1 5zm7-11zm0 7zm0 12zm13-27zm6 21zm5-4zm0-8zm4 8zm4 5zm5-12zm6 14zm1-4zm2 6zm9 2zm3-10zm3 4zm1-6zm2-4zm0 13zm0-17zm4 11zm1-8zm6 3zm8 8zm3-8zm1 11zm0-25zm20-1zm0 12zm3-4zm1 8zm0-7zm1 8zm4-6zm25-8zm1 18zm1-16zm0 20zm1-17zm8 8zm6 4zm4 2zm8-13zm1-5zm3 22zm0-12zm4 13zm7-18zm0-8zm1 24zm2-19zm2 17zm1-4zm1-18zm2 17zm0-12zm1-4zm1 2zm4 6zm1 3zm2-9zm4 14zm2-8zm1 12zm4-14zm3 5zm1-8zm1 3zm3 6zm4 7zm1-11zm1-9zm0 7zm1-4zm0-1zm1 21zm2 4zm0-8zm3-4zm1-13zm2 16zm0 6zm1-19zm5 18zm2-20zm0-3zm7 8zm2 18zm1 2zm1-21zm2-2zm2-5zm1 13zm0-14zm3 13zm9 10zm1-10zm1 12zm0-11zm12 12zm0-22zm1 14zm17-3zm3-9zm1 4zm1-9zm3 20zm11-8zm4-13zm3 2zm1 2zm2 0zm5 18zm5-17zm5 12zm7-13zm1 21zm3-19zm1 23zm19-24zm4 18zm0-14zm8 12zm5-4zm2 4zm3-11zm6-10zm3 1zm2 8zm2 15zm3-17zm2 5zm28-3zm1 18zm3-11zm5 11zm8-3zm15 19zm-11 0zm-7 3zm-13-10zm0 11zm-3 8zm-1-25zm-2 22zm-17-6zm-2-11zm-6-5zm-5 27zm-5-11zm-5-8zm-1 0zm-1 8zm0 2zm-4-4zm-5-2zm-6 8zm-3-1zm-1 4zm-8-17zm-17 19zm-10-11zm-5 4zm-4-5zm-12 8zm-6-2zm-4-19zm-2 27zm-1-10zm-8 3zm-3-18zm-1 24zm-2-21zm-4 22zm-3-13zm-7 2zm-8-3zm0-13zm-9 21zm-3-11zm-3 18zm-3-3zm0-25zm-2 2zm-3 14zm-3 1zm0 9zm-1 1zm-2-16zm-8 12zm-1 2zm-7-1zm0-11zm0-2zm-3 13zm-1-7zm-5 3zm-3 4zm-4-14zm-1 3zm-9-13zm-1 8zm0-6zm-4-1zm-1 23zm-4-23zm0 6zm-3-2zm-5 10zm-3-3zm0-10zm-1 23zm-2-25zm-2 4zm-5 10zm0 13zm-1-6zm-2-1zm-7 3zm-1-12zm-2-4zm-2 16zm-2-3zm-2-17zm-1 1zm-8 10zm0 2zm-1-12zm0 11zm-1-14zm-8 4zm-6 12zm-2-13zm0 13zm0-1zm-2 10zm-1-3zm-8 4zm-1-18zm-7 16zm-3-14zm-2 10zm-18 7zm-1-13zm-3-11zm-1 17zm0-17zm-5 4zm-2-8zm0 29zm-5-7zm-3-5zm-1 1zm0-11zm-4 15zm0 0zm0-4zm-4 8zm-7-17zm-5 18zm-7-15zm-3 1zm-2 0zm-12-1zm-2 15zm-5 1zm-1-21zm-2 8zm-14-7zm-9-5zm-5 15zm-13 9zm-2-27zm-1 3zm-1 17zm-8 2zm-4 2zm-6-6zm0 3zm-2-15zm-6 15zm-1 6zm-11-27zm-4 12zm-10-3zm-6-1zm-2 10zm-8-4zm-4-14zm-2 8zm-1 7zm-4 9zm-3 5zm-10-1zm-15-27zm-1 11zm-5-8zm0 25zm0-26zm-3 17zm-5-3zm-10-10zm0 5zm-21-10zm-4 9zm-5 9zm-6 0zm-3-15zm-2 3zm-3-7zm-8 6zm-20 16zm-5-9zm-11-14zm-5 11zm-7 12zm-7 5zm-3-23zm-8 20zm-25 4zm-7-8zm-2-7zm-6-14zm-168 5zm-3 4zm-18-5zm-25 3zm208 38zm35 5zm13-9zm1 2zm4 16zm7-28zm8 1zm6 26zm5-7zm2-15zm0 22zm0 0zm1-12zm4-7zm5-9zm1 9zm8 18zm2-11zm14 13zm5-18zm7 6zm6 7zm5-3zm4-16zm23 23zm4 0zm8 1zm2-21zm5 15zm16 3zm4-6zm3-12zm0-6zm3 12zm2 1zm16-1zm4-11zm10 12zm14-13zm12 9zm4 2zm6 11zm5-23zm8 25zm5-3zm3-10zm5-13zm1 5zm0 16zm1 7zm2-26zm6 19zm3-17zm2 25zm0-23zm1 13zm5-5zm3-4zm9 4zm3 4zm8-2zm9 4zm8-8zm2 16zm1-5zm2-20zm4 17zm2-6zm2 13zm5-11zm5-3zm1 13zm7-2zm2-10zm7-12zm0 9zm5 18zm3-20zm9 10zm4 10zm3-21zm9 14zm2-8zm3 3zm3-3zm4-6zm10-3zm1 20zm1-5zm6 5zm2 1zm5-16zm4 19zm3-16zm3 15zm1-12zm3 9zm2-20zm4-4zm3 9zm2 16zm1-4zm1-11zm1 12zm2-13zm0 6zm0-13zm7 5zm1-2zm1 12zm1 1zm2-8zm0-8zm5 2zm1 1zm7 13zm6-15zm1 15zm3-18zm2 13zm2-13zm4 25zm0 3zm1-28zm2 18zm1-3zm2-14zm2 10zm3-1zm2 4zm2 3zm3-11zm4 18zm6-1zm4-16zm0 8zm1 9zm3-11zm0 11zm4-21zm0 25zm3-29zm1 24zm1-24zm0 14zm2-13zm10 1zm2 22zm1-19zm5-1zm5 16zm6-13zm2 1zm3 7zm0 2zm2-14zm5 25zm4-21zm7 7zm5-7zm5 9zm0-9zm22-4zm8 8zm19-5zm21 14zm1-1zm6-1zm7 9zm5-17zm10 6zm2 5zm11 1zm0-19zm6 16zm7-15zm1-3zm5 1zm3 9zm5-3zm21 21zm-9 17zm-9 12zm-10-6zm-4-11zm-4-8zm-9 11zm-1-7zm-5 2zm0-3zm-6 13zm-3-15zm-7-1zm-3 9zm-4 2zm-8 14zm-4-21zm-1 8zm-2-4zm-2-9zm-4 27zm-1-22zm-9 0zm-12 0zm-3-2zm-2 15zm-4-2zm0 11zm-6-23zm-1-2zm-3 20zm-2-23zm-2 26zm-5-21zm-3 12zm0-9zm-4 1zm-2 4zm0 12zm-7-19zm-8 3zm-12 9zm-5 10zm-9 0zm0-14zm-1 11zm-12-5zm-1 6zm-5-7zm-1-8zm-10 0zm-3-7zm-2 9zm-1-10zm-1 18zm-1 2zm0-4zm-1 7zm-5-19zm-3-5zm-1 19zm-3-4zm-3-7zm-4-6zm-2 12zm-2-13zm-1 5zm-1 7zm0 4zm-1-20zm-5 14zm-1 3zm-2 0zm-3-12zm-8-3zm-1 20zm-3 5zm-1-2zm-4-20zm-10 2zm0 11zm-1 0zm-21-1zm-1 2zm0 6zm-6-20zm0-2zm-2 7zm-6 4zm0 0zm-1-14zm-3 0zm-1 0zm-1 13zm-2-4zm-3 9zm-9-11zm-1 18zm-3-12zm-10 5zm-2-13zm-9 9zm-9-2zm-1 1zm-3-12zm-1 13zm-1-8zm0 8zm-4-7zm-2-3zm-1 17zm-5 3zm-1 1zm-4-22zm-17 18zm-5-9zm0 4zm-6-16zm-3 4zm-6 13zm-3 2zm0-6zm-2 9zm-5-5zm-13 3zm-4 3zm0-9zm-6 15zm-2-24zm-1 17zm-1-10zm0 16zm-4-13zm-13 7zm-2-8zm0 4zm-7-2zm-1 10zm-25-10zm-17 7zm-5-20zm-31 25zm-14-8zm-5-8zm-2-11zm-6 21zm-4-22zm-2 26zm-14 1zm-4-8zm-7-12zm-24-3zm0 18zm-8-15zm-2-3zm-1 15zm-6 2zm-5-5zm-26-12zm-8 10zm-4 6zm-26-17zm-7 23zm-19-1zm-4 2zm20 4zm2 20zm14-18zm5 5zm1 3zm28 8zm2 9zm5-7zm2-6zm2 14zm2 0zm4-6zm5-5zm7-17zm2 27zm23-2zm5-15zm3 12zm5 2zm8 1zm6-14zm1 1zm1 1zm5-1zm1 4zm6-17zm6 27zm19-21zm5 23zm1-5zm23-14zm3 9zm3 8zm1-23zm0 3zm3 17zm8-24zm2 26zm8-8zm23-10zm2 6zm6 1zm1-4zm15-8zm13 10zm0-13zm0 19zm8-13zm15-5zm0 26zm11-14zm3 16zm5-13zm1-9zm19-4zm2 15zm1-13zm0 10zm6 7zm8-1zm22-19zm5 2zm7 3zm1 11zm4 7zm4-24zm2 27zm3-14zm10-10zm0 19zm4 1zm7-15zm6 17zm0-23zm1 1zm3 24zm14-21zm2-3zm8 3zm12-6zm2 24zm5-2zm5-20zm3 10zm15 0zm8 10zm2-4zm1 10zm1-13zm3 9zm3-16zm3 20zm6-8zm1-2zm4-11zm4-6zm14 23zm1-13zm0 10zm6-20zm1 17zm1-11zm4-1zm3 11zm1-16zm8 10zm1-4zm2 16zm2-10zm1-6zm13 2zm0 1zm3-9zm2 13zm21 0zm11-14zm12 6zm4 4zm1-11zm2 1zm5 19zm11-16zm10 19zm2-18zm8 7zm4-4zm3 5zm1 13zm7-5zm3-3zm1 7zm2-7zm2-18zm2 18zm10 8zm1 1zm1-23zm9 11zm5-3zm3-3zm1 5zm2-11zm1 11zm0-13zm4 22zm18 4zm8-6zm14-19zm3 2zm13 8zm9 4zm15 27zm-14 5zm-5 4zm-17-6zm-1-13zm-6 22zm-11-21zm-3 0zm-3 3zm-8 6zm-5 3zm0-5zm-1 17zm-2-21zm-2 6zm-4-4zm-2-2zm-4 6zm-1 15zm-10-28zm0 24zm-4-19zm-11 19zm-6 5zm-1-25zm-17 18zm-22-11zm0 9zm-2-6zm0-10zm-11 1zm-7 1zm-13 6zm-1 14zm-1 2zm-2-20zm-1 10zm-3 4zm-2-8zm-9 8zm-3 6zm-7-11zm-4 11zm-4-4zm-2-21zm0 7zm-11 14zm-3-24zm-1 0zm0 11zm-3-7zm-4 25zm-3-1zm-2-5zm-1-17zm-11 23zm-13-14zm-1 11zm-8-9zm-6 3zm-8 7zm-8-8zm0 4zm-7 0zm-2-4zm-2-9zm-4 16zm-22-25zm-11 19zm-6 2zm0-18zm-12 20zm-4 3zm-28-7zm-1 2zm0-11zm-7 5zm-5 4zm-6 1zm-30-3zm-4-7zm-9 2zm-7-5zm-8 16zm-3-13zm-3 2zm-4 15zm-1-6zm-8 4zm-6-13zm-2 3zm-39-12zm-11 7zm-6 12zm-9-11zm-12 14zm-26-2zm-15-8zm-4 13zm-13-23zm-4 4zm-4 10zm-1-11zm-2-2zm-10 20zm-16-22zm-13 12zm-3 11zm-5-22zm-11 19zm-11 1zm-1-14zm-3-6zm-3 0zm-11-5zm0 7zm-6-3zm-4-4zm-6 20zm-14 4zm-4-4zm-1 1zm-9-6zm-27-4zm6 19zm6 2zm0 8zm17-4zm2-6zm9 16zm9 9zm1-21zm1 20zm4-14zm6 1zm18 0zm5-10zm10 16zm1-17zm7 14zm14-2zm10 8zm4-13zm25 17zm2-13zm5 15zm7 2zm4-17zm4 1zm11-10zm1 8zm6 17zm13-9zm4 10zm3-17zm1-2zm2 10zm4-15zm7 2zm2 17zm1-2zm18-1zm18-13zm6 15zm5-17zm7-5zm1 3zm3 1zm6 11zm4 8zm7-22zm8 19zm4-20zm6 7zm13 10zm3-18zm8 7zm4 14zm1-17zm1-4zm4 7zm2 17zm6-5zm2-8zm1 13zm5-17zm7-4zm25 16zm1-9zm21 10zm38 0zm4-12zm7 10zm10 0zm20-4zm4-7zm8 4zm5 16zm16-8zm11 5zm1 0zm48-5zm4-5zm1 9zm3-10zm1-2zm2 16zm1-23zm3 9zm0-10zm5 14zm1-10zm11 11zm6 0zm16 3zm7-19zm2 18zm6 9zm7-4zm2-22zm5 17zm9 5zm1-8zm11 7zm10-12zm7-8zm6 17zm6-21zm1 5zm3 15zm1-5zm6-5zm2 18zm5-9zm7-8zm1 8zm5-18zm1 27zm5-6zm0 3zm5 4zm2-16zm0 6zm25 1zm2-8zm34 1zm23 4zm14 34zm-10-14zm-14 18zm-1-21zm-17 4zm-12 6zm-18-4zm0 12zm-13-6zm-3 1zm-4 5zm-2-22zm0 9zm-13-5zm-7 11zm-3-12zm-3-2zm-5 8zm-1 11zm-7-1zm-2-5zm0 3zm-1-1zm-5-11zm-2 3zm-13 6zm-15 2zm-19 11zm-2-17zm-10 6zm-7-16zm-2 27zm-27-11zm-6-4zm-1 1zm-9 8zm-5-13zm-7 11zm-13 3zm-43-14zm-3 16zm0-5zm-12 0zm-1-9zm-1 15zm-4-6zm-4 2zm-2-15zm-1 3zm-34 2zm-12-10zm-3 14zm-2 5zm-2 7zm0-19zm-3 0zm-1 1zm-11 15zm-4-21zm-14 20zm-22-6zm-2-3zm-1 0zm-6 5zm-20-6zm-4 6zm-1-5zm-13-2zm-7 15zm-1-16zm0 16zm-11-2zm-2-12zm-2 11zm-32-8zm-8-10zm-7 21zm-4-5zm-6 6zm-13-11zm-9-3zm-4 0zm-5 5zm-2-4zm-8-1zm-6 2zm-9 2zm0 3zm-12-17zm-8 4zm-7-6zm-27 2zm-2 7zm-9 3zm0-10zm-5 6zm-11-8zm-4 12zm-2-1zm-6-5zm-2 13zm-2-21zm-13 3zm-14-3zm-7 27zm-5-24zm-3 3zm-4 4zm-11 4zm-2 5zm-15-5zm-4-3zm-5 11zm-4-3zm-8-16zm-1 4zm13 23zm32 9zm9 15zm4-13zm21-6zm2-4zm5 22zm3-9zm6 11zm1-15zm20-6zm1 9zm12 3zm8 1zm10 7zm18-10zm4 13zm29-6zm2 7zm17-14zm8 7zm9 8zm0-7zm8-20zm5 10zm2-3zm10 5zm6 3zm0-9zm3 21zm18-22zm2 15zm5-20zm1 0zm47 23zm14-15zm2-7zm6-2zm8 8zm1 9zm20 6zm2-17zm12 4zm11 17zm11-4zm7-21zm18 17zm8 7zm4-1zm9-6zm3 5zm2 3zm11-2zm4-26zm14 14zm8-12zm3 18zm0 2zm4 6zm15-17zm2 18zm1-12zm0-2zm7-7zm10 2zm2 1zm2 1zm0-9zm1 3zm1-6zm6 21zm7-17zm4 12zm0-16zm7 14zm5 3zm4-14zm0 12zm19 7zm3-11zm5 17zm9-11zm6-1zm5 2zm1-18zm2 15zm33-15zm0 29zm7-3zm11 2zm3-20zm2 18zm1-13zm17-6zm5 14zm7-13zm3 15zm9-23zm24 2zm1 18zm1 1zm17-17zm62 28zm-10 8zm-38-7zm-5 12zm-6-7zm-5 1zm-11-3zm-6 19zm-6-12zm-13-12zm-3 21zm-28-3zm-2-2zm0-11zm-14 5zm0-5zm-16 8zm0 3zm-5 4zm0 2zm-7-22zm-14 6zm-11 9zm-4-4zm-5-11zm-16 13zm-2 11zm-8-18zm-3-1zm-3 0zm-1-1zm-1-5zm-3 26zm-1-24zm-10 3zm-4-2zm-13 15zm-5-11zm-27 3zm-1 18zm-1-1zm-9-15zm-4 7zm0-11zm-1 7zm-2 6zm-13 0zm-5 8zm-2-6zm-3 5zm-6-10zm-13 5zm-24-5zm-39 1zm-4-14zm-4 22zm-1-17zm-4 12zm-1-9zm-13 2zm-3-7zm0 7zm-2 4zm-7 8zm-2-19zm-12 20zm-1-24zm-17 10zm-2 8zm-10-3zm-4 6zm0 1zm0 1zm-8-26zm-8 17zm-7-6zm-2 17zm0-6zm-16 6zm-7-19zm-10 2zm-7-11zm-8 19zm0-4zm-10-2zm-25 8zm-22 4zm-2-9zm0 11zm-2-19zm-5-2zm-11 15zm-1-17zm-6 15zm-4-18zm-25 15zm-2-16zm-15 20zm-1-17zm0 0zm-19-1zm-40 13zm-3 0zm-11-8zm-16 6zm-22-11zm13 56zm6-4zm6 4zm87-29zm47 7zm35 2zm6-2zm1 2zm43 20zm8-13zm20-2zm0 0zm6 14zm7-21zm3 5zm11 14zm17 2zm6-19zm3 5zm5-13zm10 23zm1-12zm6 3zm0 7zm3-1zm2-15zm12 13zm26 10zm0 0zm17-10zm1-13zm4 17zm2-7zm0-8zm2 8zm1-13zm2 26zm5-2zm7-3zm6-10zm7 14zm13-24zm10 12zm6-2zm2 1zm6 3zm1 5zm14-6zm13 5zm5-2zm0-11zm6-7zm4 27zm2 0zm7-11zm5 0zm1-2zm1-15zm1 18zm7-13zm1-2zm1 16zm13 0zm0 9zm3-17zm21-6zm34 12zm10-5zm37 10zm2-23zm20 5zm6-4zm2 25zm33-25zm56 2zm5 11zm34 2zm-43 28zm-70 8zm-15-17zm-28 9zm-1 0zm-7-12zm-6 18zm-34-19zm-18 4zm-1 12zm0 4zm-4-16zm-1 12zm-7 10zm-5-16zm-4-9zm-3 18zm-2-6zm-4 3zm0-5zm-5 1zm-5 12zm-3-10zm0 13zm-1-25zm-3 15zm-1 9zm-6-8zm-7-15zm-2 4zm-9-2zm-8 3zm-5 18zm-2-25zm-6 10zm-1 1zm-5 6zm-1-18zm-8 19zm-1 7zm-4-26zm-1 6zm-24 19zm-4-9zm-2-6zm-2 18zm-1-6zm-4-14zm-1 7zm-24-4zm-4-8zm-1-1zm-6 13zm-1 7zm-14-3zm-5 4zm-5-16zm-2 0zm-4-2zm-6 0zm0 0zm-4 17zm-3 3zm-16-25zm-8 27zm-23-25zm-10 17zm-2 6zm-9-19zm-2 20zm-1-25zm-1 2zm-3 23zm-4-14zm-5 6zm-5-8zm-33-5zm-9 6zm-13 9zm-14-15zm-3 13zm-2-2zm-36-15zm-81 10zm-2 8zm-15 7zm-7 0zm-4-23zm-4 15zm-3 3zm0 5zm-5-12zm-1 7zm-1 4zm0-26zm-2 6zm-1 19zm-1-19zm-2 5zm-3-1zm-2 0zm-1 10zm-2 6zm-1 1zm-1-12zm0-8zm-1 7zm-1 6zm-1 1zm0-7zm0 2zm-1 0zm-1 6zm-1 2zm-1-16zm-1 17zm0-5zm0-4zm-1-6zm0 17zm0-6zm0 4zm-1 4zm0-20zm-3 1zm-2 15zm-1 0zm0-7zm-2 4zm-2-19zm-2 14zm0-14zm-1 25zm-3-1zm-1 0zm0-2zm-5-14zm0 1zm-2 8zm-2 6zm-5-10zm-1-5zm-2 10zm0 6zm0-4zm-2-7zm0-4zm0-7zm-1 11zm-2-1zm-4 2zm-3-5zm0-1zm0-5zm-1 0zm-2 10zm0 7zm-4-16zm-2 4zm-3-2zm-1-2zm-28 1zm52 25zm20 2zm12 4zm3 1zm0-6zm5-2zm2 0zm1-1zm0 10zm12-9zm2 3zm0-5zm2 6zm3-2zm28-1zm18-1zm23 9zm144-10zm3 9zm16-2zm1 4zm6 1zm1-7zm9-4zm10 16zm0 3zm1 6zm8-6zm1-13zm14 3zm11 8zm13 1zm0-10zm5 2zm9-7zm2 18zm6-13zm3 6zm0-12zm6 12zm2 2zm2 6zm10 5zm10-18zm7 15zm2-22zm14 13zm9-12zm3-1zm1-1zm2 19zm16-1zm17 3zm3-15zm1 10zm9 2zm2-5zm3-13zm1 16zm12-8zm5 0zm5 17zm9-3zm1-14zm17 11zm0-15zm3 0zm4-6zm0-1zm8 2zm1 15zm19 12zm2-19zm17-7zm2 14zm0 7zm14-8zm7-11zm3 9zm12-13zm54 18zm25-17zm1 23zm14 4zm74 28zm-36-3zm-9-17zm-3 9zm-2 5zm-1-6zm0 6zm-29-16zm-20 4zm-60-7zm-19 22zm-1-16zm-6-8zm-3 29zm0-15zm-37-11zm-24 14zm-1-13zm-5 8zm-14 15zm-5-21zm-9 13zm-2-18zm-9 0zm-1 6zm-4 11zm-1-14zm-3-1zm-1 0zm-13 11zm-3 2zm-19 10zm-4 0zm-7-20zm-3-5zm0 4zm-3 5zm0 19zm-2-18zm-10 0zm-3-1zm-1 12zm-2-9zm-5 11zm-1-12zm-16-6zm-2 20zm-7-20zm-3 3zm-6 0zm-5 17zm-14-6zm-1-17zm-12 19zm-14 4zm-4-15zm-3 8zm-10-13zm-3 12zm-1-9zm-6 3zm-14 3zm0-11zm-10 18zm-1-15zm-12 5zm36 28zm9-1zm17 2zm11-2zm4 4zm10 3zm2-11zm19 19zm2-1zm2-3zm22 6zm7-7zm7-13zm8 4zm7 10zm11-13zm9 5zm1 4zm0-13zm1 21zm4-5zm1-16zm6 14zm2-1zm1-5zm8 7zm17 8zm4-26zm0 23zm11-20zm1 26zm4-3zm1-5zm14 7zm10-19zm14 9zm5-17zm2 21zm14-16zm9-4zm3 6zm2 4zm1 17zm0-19zm26 11zm17-3zm8 10zm40-16zm5 11zm3 6zm6-23zm7 14zm9 6zm28-7zm16-5zm15-3zm4 7zm4-12zm2 9zm11 6zm5 1zm5 35zm-3-6zm-13 1zm0-14zm-3 17zm-7-4zm-28-3zm-9-6zm-15 10zm-1-22zm-5 25zm-16-9zm-30-2zm-4-11zm-25 14zm-32-14zm-2 23zm-16-11zm-1-1zm-13 10zm-15 0zm-11-5zm-6-2zm-1 12zm-10-8zm-1 8zm-3-10zm-4 7zm-3-17zm-1 18zm-22-27zm-7 8zm-1 1zm-8 6zm-10 7zm-3-21zm-2 0zm-3 20zm-1-3zm-2-12zm-3 11zm-2 6zm-5 4zm-2-4zm-1-8zm-1-15zm-2 25zm-7-7zm-8 10zm-4-4zm-1-1zm-5 0zm-42-12zm-4-6zm-13 4zm-44-3zm74 25zm7 8zm12 14zm6-18zm20 7zm7-2zm8 7zm8-9zm0-5zm5 6zm22 8zm2-13zm20 1zm5-4zm2 14zm12 8zm2-13zm13 12zm2-19zm4 10zm15-11zm8 13zm3-2zm20 0zm15 11zm11-11zm0-2zm1 6zm2 6zm16-14zm8 2zm14 16zm14-2zm2-4zm0-1zm6-13zm19-1zm10 21zm54-5zm3 4zm5-8zm26 27zm-6 0zm-14 12zm-17-19zm-14 14zm-13-4zm-5-4zm-19-5zm-49 18zm-38-14zm-2-8zm-19 15zm-9-2zm-15 8zm-5-25zm-4 9zm-17 16zm-9-11zm-2 3zm0 10zm-18-3zm-2-24zm-11-1zm0 21zm-3-15zm-2 22zm-4-15zm-28-7zm-3 20zm-12-11zm-20-3zm-1-2zm-7-10zm-1 20zm-4-20zm-48 20zm125 23zm12-5zm12-1zm13-2zm9 8zm3-4zm13 16zm8-16zm13-1zm43 8zm1-1zm1-1zm8-11zm7 12zm8-4zm45 16zm24-12zm2-3zm48 13zm31-8zm-19 19zm-36-5zm-1 7zm-27 20zm-2-20zm-13 19zm-8-1zm-16 3zm-1 0zm-15 0zm-5-28zm-1 3zm-15 5zm-2 7zm-13-12zm-44 6zm-18 6zm-4-10zm-3-1zm-47 46zm56-11zm7 3zm18 16zm0-24zm2-5zm2 8zm15-8zm0 5zm4 1zm22 9zm9-4zm4-6zm38 4zm1 1zm33-8zm2 9zm6 3zm10-12zm31 27zm4-20zm14-9zm19 6zm-39 24zm-10 5zm-13 12zm-6-7zm-1 5zm-21 1zm-8-8zm-9 13zm-32 1zm-10-10zm-11 11zm-16-8zm-15-7zm-19-8zm-4 13zm-18 2zm73 28zm55 0zm1 15zm5-12zm5 1zm-10 25zm-51 2zm-4-11zm-13 4zm-3-7zm-2 41z"/><path stroke="#ffa650" d="M1863 1864zm107 33zm-163 15zm-140-13zm-102 14zm410 13zm-261 61zm-130 68zm371 15zm-2 15zm-278 32zm339-11zm-84 34zm-110 15zm-66 60zm5 21zm5 0zm149-7zm361 15zm3-8zm0 8zm16-9zm13-10zm27 30zm-17 13zm-2 0zm-3-12zm-2 19zm0-8zm-1 6zm-2-6zm-4-8zm-2 0zm-15 17zm-1-3zm-93 32zm25 4zm5-5zm3-13zm6 11zm11-18zm14 9zm7-3zm6 0zm5-5zm11 17zm0-13zm3 11zm4-17zm1 19zm4-17zm1-2zm0 12zm3 6zm2 7zm1-25zm0 14zm5-3zm2-4zm2 18zm5-14zm1 5zm5 7zm7-13zm2 43zm-7-7zm0-4zm-1 8zm-3-13zm0 3zm-1 8zm-1 8zm-3-10zm-2-13zm-3-3zm0 3zm-2 13zm-11 5zm-3 5zm-7-2zm-5-8zm-3-8zm0 5zm-1 0zm-7 2zm-8 2zm-14-1zm-8 6zm-20-8zm-40-6zm-17-6zm-16 5zm-19 7zm-4 5zm-22-12zm-72 40zm16 7zm40-23zm18 10zm1 13zm9-22zm3 22zm5-17zm6-5zm7-2zm14 23zm10-16zm1 1zm1 6zm5 0zm16-1zm13 6zm0-18zm37 13zm16-7zm7 17zm2-16zm3-7zm1 21zm14-13zm6 11zm1-23zm15 7zm1 4zm10 18zm6-10zm3-19zm0 27zm7-21zm4 7zm1 19zm-6 26zm-7-23zm0-4zm-6 14zm-11 6zm-12-21zm-9 11zm-11-6zm-6 16zm0-9zm-3 6zm-9-1zm-7-12zm-2 4zm-7 9zm-14 8zm-2-4zm-19-10zm-1 15zm-12-13zm-1 9zm-4-6zm-30-13zm-14 4zm-4 0zm-8 17zm-14-23zm-6 5zm-33 18zm-34-1zm-2-24zm-10 22zm-6 7zm-7-5zm9 35zm3-18zm11 8zm1-10zm9 6zm11 8zm6-23zm5 7zm24 0zm17 3zm7 11zm0-5zm1-15zm2 7zm9-7zm1 1zm12 3zm2 0zm3 12zm12 3zm0-18zm9 13zm1-10zm3-5zm1 11zm8 17zm4-11zm6-3zm5 9zm5-8zm21 6zm6-20zm9 7zm7-1zm6 15zm2-13zm12 13zm2-22zm1 20zm5-3zm4-12zm2 11zm0-1zm1-5zm21 8zm8 6zm5-5zm1-2zm1 7zm0 5zm0-22zm1 10zm0 12zm9-12zm-8 29zm-1-9zm-12 6zm-5 13zm-1-26zm-7 21zm-3-9zm-6 6zm-1 6zm-6 5zm-2-6zm-3-6zm-1-16zm-4 26zm-6 1zm-4-26zm0 23zm-1 2zm-3-26zm-3 13zm-2-2zm-30-12zm-5 21zm-10-11zm-20-1zm-2-6zm0 6zm-11-2zm-1-7zm-3 3zm-4 11zm-16 15zm-10-11zm-15-1zm-38-1zm-12 3zm-3-18zm-9 22zm-3-22zm-2 25zm-16-4zm-8 1zm-16 34zm6-27zm28 12zm30 8zm16-3zm25-4zm12 9zm0-12zm9 11zm3 3zm10 5zm3-3zm10-7zm1-3zm17 10zm0-5zm3-5zm10-5zm3-9zm1 23zm1-22zm19 22zm0-8zm1-9zm11 21zm4-24zm4-5zm1 18zm1 1zm6-3zm3 11zm14-11zm1-12zm6 1zm4 2zm2 11zm0 2zm3-10zm1 0zm7 0zm4 12zm2-5zm9-8zm9-8zm0 28zm12-4zm-1 34zm-4-18zm-2-5zm-3 1zm-3 3zm0 2zm-3 13zm-1-1zm-7-7zm-4-10zm-5 11zm0 0zm-2 6zm-1-20zm-7 8zm-1-3zm-4 20zm-5-7zm-5-3zm-3 7zm-5-14zm-2 8zm-4 1zm0 4zm-4 4zm-6-1zm-8-23zm-10 4zm-9 8zm-7-9zm-16 19zm-2-15zm-6-9zm-6 6zm-4 2zm-35 7zm-12 1zm-10 4zm-26-10zm0 4zm-20 9zm-4-7zm-21-10zm-32 12zm-37 24zm71 0zm6 11zm2-23zm14 26zm3-16zm6-12zm20 8zm1 11zm1 7zm19-1zm35-26zm3 5zm7 10zm3 14zm1-9zm1-18zm6 5zm5 16zm9 0zm4-7zm11-8zm6 15zm7 6zm9-24zm4-2zm19 12zm7 7zm4-20zm2 26zm7-11zm11 0zm6 0zm1-10zm7-2zm2 7zm2-8zm1 2zm0 13zm2 4zm10 1zm7-17zm4-1zm2 1zm1 6zm6 7zm6-1zm1-15zm2 5zm-3 42zm-2-4zm-7 10zm0-5zm-1 4zm0-17zm-3 6zm-2 2zm0-15zm-3 12zm-1 12zm-5-25zm-13 1zm-1 19zm-3-18zm-3 10zm-5 2zm-7 5zm-15-12zm-5 13zm-9-6zm-5 11zm-23-18zm0 3zm-13-3zm-7 2zm-4 16zm-2-7zm-11-8zm-4 17zm-6-13zm-13 2zm-8-7zm-35 18zm0-22zm-2 7zm-10 11zm-16 1zm-9-17zm-2 12zm-31 8zm-6-4zm-4-9zm-12 32zm28 2zm21 0zm9 8zm0 1zm5-9zm1-6zm14-1zm11 0zm6-1zm4 0zm9-11zm2 25zm7-11zm2-9zm0 23zm20-24zm3-4zm6 5zm2 18zm2 3zm7-23zm18 8zm4 5zm25-8zm16-7zm4 6zm3 22zm2-11zm1-1zm2 3zm1-20zm4 3zm7-1zm0 17zm6-17zm1 0zm1 23zm0-25zm4 8zm2 19zm1-27zm4 18zm6 6zm0-11zm1 7zm1-4zm1 12zm2-3zm1-14zm6-1zm10 7zm3 23zm-10 11zm-11-17zm-13 11zm0-12zm-1 19zm-18 3zm-6-21zm-3 11zm-4-9zm0-6zm-6 8zm-3 12zm-4 9zm-7-24zm-47 0zm-6 19zm-21 2zm-25-24zm-18 2zm0 12zm-19-7zm-13-7zm-4 18zm-50 30zm20-6zm37 11zm3-18zm13-1zm14-4zm9 22zm10-13zm14 7zm6-13zm18 0zm12 18zm0 1zm1 2zm9-17zm4 13zm16-1zm3 8zm6-13zm1-11zm3 22zm0-19zm10 10zm1-18zm12 2zm1 23zm3-3zm8-5zm3-17zm10 12zm4-8zm9 25zm5-21zm1 1zm2-1zm0 11zm11-16zm0-1zm10 9zm4 5zm1 38zm-2-16zm-2 5zm-3 7zm-11 0zm-10 2zm-4 6zm-10-22zm-2 18zm-1 5zm-6-24zm-1 13zm-1 5zm-3-3zm0-6zm-1-9zm-1-5zm-2 13zm0 4zm0-13zm-1 6zm-1 11zm-3-2zm-3-10zm-4-4zm-2-2zm-7 14zm-12-9zm-2 10zm-9 6zm-15-22zm-3 6zm-2 9zm-26-12zm-33 9zm-21-12zm-6 13zm-10-3zm-22 11zm-1-7zm-2 11zm-2-14zm-14 0zm-11 21zm15 6zm43 5zm25-8zm2 9zm4 13zm8-7zm4 6zm5-12zm12 12zm14-6zm5-7zm16 2zm1-16zm6 12zm5-12zm4 21zm4 3zm14-14zm4-3zm8 14zm2-22zm1 23zm3-3zm3-7zm6-1zm1 7zm1 10zm0-22zm1-2zm0 4zm3 10zm1 7zm3-21zm1 8zm0-8zm5-1zm0 5zm4 17zm1-6zm5-17zm1 20zm1-23zm11 22zm14 4zm5 31zm-16-22zm-1 9zm-2 11zm-11-15zm-7-3zm-5 4zm-14 17zm-2-7zm-3-9zm-3 1zm-2-1zm-5 1zm-3-3zm-6-8zm-3 12zm-13-1zm-7-1zm-10 13zm-18-24zm-10 15zm-7-11zm-24 9zm-14-1zm-14 6zm-8-5zm-1 8zm-2 0zm-10 5zm-7 2zm-6-22zm-7-7zm-8 5zm12 52zm3-21zm11 2zm21 19zm22-4zm1 2zm13-24zm14 16zm14 7zm2-22zm9 16zm13 8zm1-21zm6 21zm19-26zm5 12zm4-1zm9-3zm1 4zm3 1zm0 6zm2-3zm8 0zm0-7zm2 11zm0 0zm4-6zm0-2zm1-1zm3 0zm2-8zm0 5zm3 2zm3 6zm7 4zm7 6zm1-16zm4 4zm4 14zm0-21zm1-4zm2 13zm5-14zm1 5zm5-3zm5 24zm-7 5zm-4 16zm-9-10zm0 13zm-5-18zm-3 22zm-2-20zm-2 22zm-1-12zm-1 11zm-1-9zm-1 0zm-1-17zm-4 5zm-1-4zm-14 21zm-2-13zm-1-8zm-4 0zm-3 27zm-3-20zm-1 7zm0 7zm-2 0zm-15-21zm-1 4zm-4 23zm-7-25zm-9 8zm-2 11zm-9-21zm-11 11zm-6-7zm-1 5zm-3-7zm-9-4zm-7 23zm-18 6zm-3-23zm-31 19zm-5-23zm-31 44zm44-12zm10-4zm15 0zm1 9zm5 1zm10 6zm12 3zm3-6zm4-13zm18 20zm2-17zm2 9zm8 2zm3-9zm21-1zm3 16zm9-2zm3 4zm5-12zm0 0zm2 17zm0-19zm2-4zm4 2zm0 1zm11 9zm3 11zm1-3zm1 0zm1-9zm3-15zm2 18zm1 5zm1-2zm2-2zm3 3zm1-6zm4 1zm5-4zm2 15zm16-20zm0-7zm-3 33zm-1 2zm-1 15zm-4-12zm0-1zm-6 20zm-2-3zm-2-25zm0 1zm-3 0zm0 15zm-2 2zm-3 11zm-5-2zm-2-15zm-1 14zm-4 1zm-7 1zm-1-7zm0-6zm-6-4zm-2-11zm-1 26zm-1-13zm-1-11zm0 9zm-1-5zm-1 21zm-1-22zm-6-2zm-4 24zm-1-8zm-1-10zm-2 7zm-1-8zm-4-1zm-6 5zm-2-9zm-1 13zm-11-14zm-34 20zm-6 0zm-4 5zm-5-8zm-16-13zm-1-6zm-16 9zm-1-5zm-3 13zm-4-6zm-15 4zm22 39zm14 5zm21-15zm9-1zm10-12zm6 7zm7-4zm14 25zm2-23zm4-3zm5 6zm27 14zm1-13zm6 7zm3-2zm2 1zm5 1zm3 2zm5-1zm1-7zm6 0zm1-3zm1-8zm2 4zm3 15zm6-4zm2-2zm1 2zm3 14zm3-23zm5 22zm4 4zm-1 0zm-10 13zm-6 3zm0-1zm0-16zm-7 22zm-6 1zm-3-15zm-1 8zm-5-3zm-5-12zm-5 16zm0 8zm-2-1zm-1-7zm-5-4zm0-3zm0 16zm-6-14zm0-3zm-1 18zm0-28zm-8 12zm-2-12zm-3 28zm-53-24zm45 32zm3 11zm14-7zm6 12zm3-1zm1-5zm9 10zm3-1zm1-11zm6-12zm6 5zm2 2zm4 20zm19-17zm2 13zm1 0zm1-7zm-3 27zm-9 5zm-1-17zm-3 23zm-1-7zm-5 5zm-2-5zm-2-12zm-4 12zm-2 5zm-1 2zm-6-5zm-8-15zm-1 3zm-9-2zm-6 8zm-8-8zm17 45zm6 3zm2-22zm1 20zm5-19zm1 25zm5-27zm0-1zm3 10zm12 6zm8-1zm3 7zm0-3zm1-9zm4 7zm2 12zm-6 17zm-2-1zm-5 11zm-1 2zm-8-8zm-2-13zm-2-3zm-7 18zm-1-22zm-9 13zm-1 10zm-4 25zm7-12zm14-5zm7-1zm11 5zm13 12z"/><path stroke="#8000ff" d="M1584 1832zm-25 25zm284 51zm12 121zm-165 37zm110 41zm95 13zm50 25zm-179 54zm76 22zm74 16zm-91 167zm131 20zm61-6zm45 8zm25-2zm-8 32zm-86-19zm-165 5zm-7 38zm3-8zm6 15zm4-24zm6 11zm29 11zm2-6zm1 10zm3-5zm64-7zm22 5zm36-18zm13 24zm29 24zm-3 2zm-51-24zm-27 5zm-24 23zm-5-20zm-15 12zm-31-11zm-18 3zm-1-7zm-4 2zm-1 8zm-2 13zm-9-15zm-4-9zm-4 1zm-1 15zm-1 0zm-2 3zm-11-4zm-18 34zm24-15zm4 10zm3 10zm1-10zm1-16zm2 21zm4-5zm0-7zm1 5zm2 3zm0-1zm1-9zm1 15zm3 2zm3-22zm2 1zm1 5zm1 7zm1-12zm0 22zm4-23zm1 9zm2-8zm0-5zm2 0zm0 3zm4 10zm7 8zm3-14zm1 20zm5-24zm99 22zm4-22zm1 25zm53-1zm32-13zm77 43zm-52-24zm-88 15zm-24 2zm-27-1zm-75-12zm0 9zm-1 12zm-9-9zm-2-10zm0 17zm0-13zm-3 13zm-3-18zm-4 11zm-5-15zm0 23zm-2-13zm-2-9zm0 19zm-8-8zm-2 3zm-1-11zm-4-4zm-9 10zm-3 45zm15-23zm5-5zm9 11zm2 4zm14 3zm1-10zm2 19zm6-16zm4-9zm9 5zm42-6zm9 23zm9 1zm63-4zm55-3zm29-6zm57 11zm-1 24zm-45-10zm-16 15zm-5-15zm-7 0zm0 1zm-98 1zm-14 9zm-15-1zm-61 1zm-6-18zm-25-1zm-4 4zm38 30zm113 13zm93 1zm71-3zm9 16zm-163 4z"/><path stroke="#ff0000" d="M1732 1862zm-199 78zm35-4zm300-16zm-51 95zm-707-3zm-36 2zm-168 37zm115-7zm7 11zm497-7zm277 47zm-866 0zm-148 13zm47 10zm14-14zm608 15zm406 7zm-1062 32zm-54 1zm-176 29zm370-3zm585-12zm145-11zm15 3zm-205 34zm-816-1zm-32 29zm901 15zm389-20zm-963 70zm616-9zm69 20zm-768 88zm0 34zm2 1zm1094 11zm-8 4zm-1135 44zm1059-21zm107 13zm31 3zm174 16zm-225 14zm-49 3zm113 10zm142 42zm-121 61zm-46-7zm-22 1zm-52 15zm-53 1zm46 29zm6-1zm9-11zm19 7zm6-6zm5-7zm3 14zm5-1zm3-17zm11 25zm26-1zm13 1zm66-21zm33-7zm-86 38zm-25-7zm-39 8zm-15 13zm-9-12zm-1 18zm-12-4zm-9 0zm-2-17zm-24 8zm-1 0zm34 24zm15-8zm9 9zm12 16zm26-2zm7-5zm17-4zm44-2zm129-13zm-23 49zm-209 8zm-38 24zm3-17zm10 1zm4 24zm19-25zm12 12zm10 2zm25-6zm1-10zm33 6zm94-1zm-125 30zm-9 19zm-15 2zm-2-10zm-27-9zm-9 2zm-31 36zm0-6zm49 6zm10-12zm24 5zm194 6zm47 10zm-69 27zm-10-3zm-106 6zm-37-13zm-29 9zm-4-21zm-18 6zm-8 20zm-21-8zm-13 3zm-17 6zm0-2zm-3-1zm-11 27zm10-20zm1 14zm1 8zm8-16zm1 20zm2-14zm5-11zm10 11zm1-7zm2 0zm49-5zm6 7zm4 17zm41-8zm0-9zm4 6zm38-12zm0 18zm22-18zm22 9zm37-6zm29 23zm53 19zm-64-12zm-8 11zm-3 8zm-6-3zm-58 6zm-16-2zm-73-3zm0-14zm-12 14zm-1-12zm-8-5zm-3 21zm-5-9zm0 9zm-26 2zm-2-14zm-1 4zm-2-11zm-1 16zm-12-11zm-4 14zm-2-4zm-1-20zm-1-1zm-12 20zm-7 4zm-3-3zm-11-4zm-12 32zm5 8zm4-18zm3 6zm0-1zm1 2zm6-1zm2 9zm10-3zm3 3zm2-24zm2 25zm1-12zm2-5zm19 5zm16 4zm2-17zm3 19zm9 5zm0-10zm13-16zm3 19zm14-1zm28-7zm74 14zm17-13zm27-10zm14 12zm6 14zm52-1zm6 22zm-72-17zm-52 22zm-32-22zm-34 11zm-5 13zm-8-19zm-1 14zm-3-7zm-6 4zm-24 3zm-1-6zm-6 9zm-3-9zm-5-12zm0 12zm-4-13zm-1 14zm-5-4zm-11-6zm-1 23zm-14-19zm0-3zm0 12zm-23 9zm-4-21zm0 7zm0-11zm-1-1zm-8 23zm-4-9zm-3-13zm-38 52zm8-3zm0 2zm3-12zm7 1zm1 13zm1-4zm3-2zm6 5zm1 4zm13-4zm1-2zm9-8zm8 8zm5-4zm7-18zm4 8zm6-3zm4 3zm0 20zm1-14zm3-11zm3 5zm3 7zm8 12zm2-20zm3 10zm10 5zm1 6zm3-26zm4 9zm6 17zm7-18zm8 10zm9-16zm2-4zm1 18zm4 10zm4-24zm4-2zm1 16zm9-9zm30 5zm17-13zm53 19zm5 0zm9-17zm23 16zm10 3zm45 14zm-73 14zm-3-1zm-44-17zm-32 2zm-15 15zm-21 9zm-1-5zm-2-12zm-1-11zm-1 6zm-5 15zm0-7zm-1-11zm-6-4zm-6 17zm-1-15zm-10 10zm-4 8zm-4-6zm-9 0zm-7-7zm-11 21zm-11 1zm-2-8zm-4 7zm-2-15zm-12-10zm0 17zm-13 2zm-7-2zm-5 9zm-3 0zm-1-5zm-2-7zm-14-3zm-6 8zm-1 4zm-6-4zm-8 7zm-5-17zm-7 9zm-1-12zm-9 32zm8 13zm1-11zm8 13zm10-10zm14-13zm3 22zm2-25zm1 23zm6-11zm8 4zm4-4zm3-2zm1-9zm1 14zm5 14zm0-27zm8 20zm9-6zm1-13zm1 26zm4-26zm0 12zm0 5zm6-3zm0-17zm1 23zm3-15zm2 5zm4-4zm9 11zm1 9zm3 0zm2 0zm11-13zm4-6zm4 9zm10 5zm3 3zm2-5zm1-8zm14 10zm1-23zm17 18zm8 2zm36 0zm8-11zm128 42zm-19 6zm-58-16zm-28-3zm-18-6zm0 11zm-21-12zm-4 9zm-10 14zm-28-2zm-9-18zm-9 19zm-1-19zm-1 8zm0 7zm-1-3zm-9 9zm-4-26zm-13 3zm-1-2zm-1 20zm-8-20zm-6 26zm-3-23zm0 2zm-3 0zm-5-4zm-1 20zm0-1zm-1-21zm-2 24zm-3 2zm-3-14zm-1 17zm0-23zm-1-4zm-3 27zm-2-23zm-3 8zm0 0zm-1-9zm0 11zm-2 0zm-1-3zm-3 16zm-5-3zm-2-14zm0 17zm-3 0zm0-1zm0-16zm-1 3zm-2-3zm-3 8zm0 8zm0-12zm-2-16zm-1 0zm0 6zm-2 19zm-2-23zm-1 9zm0-6zm-1-1zm-1 13zm-2-3zm-2 5zm-3-6zm0 7zm-6-2zm-1-3zm-2-13zm-4 7zm0 17zm-3-26zm-7 12zm0 2zm-1-10zm-3 11zm-1 2zm-5-7zm0 14zm-1 0zm-2-10zm-4 10zm-2-20zm-6 17zm-5-1zm-1 6zm-12-14zm-12 7zm-1 4zm-8 26zm6 0zm12-10zm4 13zm14 5zm2-3zm3-12zm2-4zm1 17zm2-23zm3 18zm2-13zm1 9zm7 3zm1-7zm0-5zm2-7zm0 15zm10-8zm2-2zm0 23zm3-10zm3-1zm0-2zm6 13zm0-26zm1 26zm1-6zm1 5zm1-5zm0-7zm2 10zm0-9zm1-2zm2-13zm1 12zm0-11zm2 27zm2-18zm2 4zm0 7zm2 7zm0-18zm2 10zm1-8zm1-12zm4 23zm0-1zm1 0zm0-15zm2-4zm1 8zm1-11zm1 11zm0-7zm3 17zm2-20zm0 23zm1-8zm0-6zm0-6zm1-5zm0 12zm1 8zm0-10zm1 0zm1 12zm3-9zm1 8zm1 4zm1-8zm0 3zm1-18zm1 5zm0-6zm3 0zm2 7zm0 4zm3 11zm3 3zm0-22zm2 15zm1-9zm1 11zm1-12zm2 20zm0-14zm4 14zm4-15zm12 4zm8 7zm4 0zm2 4zm3-18zm9 3zm5-11zm8 16zm25-7zm44-12zm39 9zm3 5zm1 1zm18-6zm26 0zm-27 30zm-23 0zm-10 3zm-26 10zm-27-13zm-4-7zm-48 5zm-9-2zm-1 18zm-8-12zm-2-9zm-7 1zm-7 13zm-1 7zm-3-23zm-1 12zm-4-5zm-2 16zm0-20zm0 13zm-8 4zm0-3zm-1-2zm0 4zm-3-3zm-5 10zm-3-1zm-1 3zm0-6zm-2-5zm-2 2zm-1 7zm-2-14zm-2 12zm-1-21zm-2 15zm0 1zm-4-9zm0 1zm-3 6zm0-5zm-2 1zm-1 14zm-1-15zm0 2zm0-7zm-1-5zm0 19zm-4-15zm-3 19zm-1-22zm-1 2zm-1 2zm-1 1zm0 3zm0 10zm-3-1zm-2 6zm0-14zm-3 8zm0 2zm0 7zm-4-6zm-2-7zm-2 5zm-3-5zm-5 12zm-3-2zm0-25zm-4 7zm-1 5zm-1 1zm-1-11zm-1 11zm-1-13zm0 21zm-4-16zm-1-5zm0 10zm0-7zm-2 22zm-3-22zm-2 18zm-2 0zm-1-18zm0-2zm-3-1zm0 9zm-7-7zm-1 5zm-1 14zm-4-2zm-3 5zm-2 2zm-3 2zm-1-16zm0 2zm-1 14zm-2-15zm-7 4zm-10 2zm-3 7zm-2-15zm0-10zm-19 51zm2 3zm5 2zm20-7zm1-7zm5 12zm9-8zm6 2zm2-8zm5-1zm3-2zm2 17zm1-9zm0 6zm0-3zm1-14zm1 21zm0-22zm3 18zm4-12zm2-1zm2 19zm9-22zm1 22zm0-23zm1 10zm5-8zm5 16zm2-9zm2-10zm3 17zm1 3zm1-10zm0 1zm0 12zm1-8zm0-13zm1 19zm1-6zm1-17zm0 11zm2 1zm1-15zm1 8zm0 21zm2-11zm0-11zm1 7zm6 2zm2-11zm2 24zm1-15zm2-12zm1-1zm3 9zm1 9zm2 8zm0-18zm0 0zm1-8zm2 2zm4 6zm1 20zm1-15zm0-9zm8 22zm0-22zm2 6zm2 10zm2-4zm2-4zm1-13zm1 23zm1-5zm4-5zm8 6zm1-1zm3-2zm1 3zm2-3zm0-2zm10 9zm3 2zm2-5zm1-12zm15 1zm0 5zm95-7zm-120 37zm-26 4zm-2-16zm-1 0zm-6 16zm-2 11zm-4-23zm-2 19zm-4-23zm-2 1zm-6 11zm-2 0zm-11-8zm-3 8zm-2 8zm-3 1zm-2-10zm-9 11zm-4-19zm-1 3zm-2-2zm-2 21zm-5-26zm0 11zm-4-8zm0 6zm0-1zm-2-3zm-3 3zm-2 9zm0-8zm-1 4zm-2 12zm0-24zm-1 17zm-1 10zm-2-1zm-4-24zm-1 11zm-1-15zm-1 27zm0-18zm-4-5zm0 17zm-3-16zm0 17zm-3-10zm-4 10zm-1-7zm-1-9zm0 12zm-4 9zm-1-7zm-1-8zm-1 8zm-2-11zm0 10zm-15-16zm-4 3zm-8 4zm-11 7zm8 24zm1-9zm4 25zm7-16zm5 17zm3-7zm6-7zm3-5zm3 9zm2 4zm2-21zm4 28zm7 0zm3-14zm10 2zm1-13zm1 2zm3 1zm8 19zm1 2zm1-5zm2-9zm3-12zm2 4zm11 23zm0-27zm3 2zm1 19zm3 0zm6 3zm1-26zm1 22zm2-4zm3-4zm4 11zm1-22zm3 19zm3-13zm1 5zm1-1zm2 15zm0-20zm15 18zm9-24zm2 17zm2-1zm6-9zm6 0zm0 5zm1-10zm-13 42zm-23-8zm-4 0zm-1 10zm-5 7zm-17 2zm-1 0zm-1-21zm0 0zm-2 1zm-5-1zm-3 3zm-8 5zm-1 3zm-1-3zm-2 5zm0-4zm0-8zm-7 0zm0 5zm-1 6zm-1-4zm-4-3zm-4 6zm-1-3zm-8 12zm-8-14zm-3 1zm-2-12zm0 7zm-10 0zm-6-5zm-3-2zm-3-1zm-27 5zm-19 40zm12 5zm67-4zm3-11zm6 2zm6 9zm5 8zm8-9zm7 4zm14 8zm2-4zm3-11zm0-11zm3 16zm5-2zm3 7zm1-9zm0-11zm4 15zm8 1zm29-15zm-36 32zm-2-4zm-9 0zm-14 13zm-1 6zm-3-12zm-6 4zm-5 4zm-13-12zm-120 18zm-5 1zm-11 3zm-17-2zm-14 25zm21 2zm22-20zm-36 32zm-14 2z"/></g>
<rect x="4.8" y="169.3" width="240.7" height="177.9" fill="none" stroke="#a0a0a0" stroke-width="1"/>
<rect x="218.2" y="172.8" width="22.4" height="37.6" rx="1" fill="#fff" fill-opacity=".8" stroke="#ddd" stroke-width=".5"/>
<rect x="220.2" y="176.1" width="11.2" height="3.4" fill="#8000ff"/>
<text x="235.4" y="179.7" class="lg">0</text>
<rect x="220.2" y="183.3" width="11.2" height="3.4" fill="#00b5eb"/>
<text x="235.4" y="186.9" class="lg">1</text>
<rect x="220.2" y="190.5" width="11.2" height="3.4" fill="#80ffb4"/>
<text x="235.4" y="194.1" class="lg">2</text>
<rect x="220.2" y="197.7" width="11.2" height="3.4" fill="#ffb360"/>
<text x="235.4" y="201.3" class="lg">3</text>
<rect x="220.2" y="204.9" width="11.2" height="3.4" fill="#ff0000"/>
<text x="235.4" y="208.5" class="lg">4</text><text class="cap" text-anchor="middle" x="121.2" y="361.6">(b)</text>
<g class="pt" transform="scale(.1)" stroke-width="10.0" stroke-opacity="0.9"><path stroke="#78f5aa" d="M4072 1918zm-25-6zm-96 31zm30-19zm15 5zm0 14zm22-5zm77 31zm-66-12zm-26 4zm-5 17zm-18-4zm-59-3zm-8-5zm32 18zm6 12zm31 11zm29-20zm0-7zm8 20zm11-4zm0-16zm33 28zm29-15zm-38 27zm-47 8zm-54-1zm-24 3zm-6 2zm-5-18zm-5 25zm-8 0zm-1-3zm-7 1zm-5-4zm-9-1zm-8-6zm-61 10zm-4 3zm-70 22zm42 3zm18-16zm7 9zm0-10zm7 9zm29-3zm1-7zm19 11zm24 9zm10-9zm32-8zm2 9zm9-15zm3 15zm6-5zm2-6zm4 9zm37-16zm9 55zm-42-9zm-29-4zm-9 2zm-10 4zm-3 9zm-10-21zm-16 6zm-4-5zm-6 5zm-1 14zm-5-22zm-7-3zm0 5zm-15 18zm-21-8zm-24 2zm-12-4zm-16 1zm-12 12zm0-19zm-7 12zm-14 2zm-3 1zm-11-9zm-73 13zm-18-13zm-22 5zm-7 6zm-148 34zm11-5zm26 4zm29-6zm7 4zm31-5zm11-9zm12 13zm36-10zm7 5zm37 0zm23-8zm1 12zm6-21zm9 9zm6 6zm6-5zm4-1zm1 6zm5-10zm5 3zm3 18zm13-23zm22 6zm3 1zm26-2zm0 0zm14 12zm3-8zm4 8zm1 2zm1-19zm3 10zm7 7zm13-20zm10 4zm3 2zm11 8zm9-16zm1 10zm3 0zm22-5zm1 3zm10 0zm11 12zm5-11zm5 13zm77-8zm-75 20zm-23 2zm-22-4zm-3 1zm-4 15zm-9 2zm-18-16zm0 15zm-1-2zm-28 8zm-4-12zm-4-1zm-30-11zm-11 19zm-1-10zm-24-2zm-18 10zm-14-11zm-5-8zm-3 29zm-18-24zm-7 9zm-8 8zm-3-10zm-4-6zm0 22zm-13-12zm-9 7zm-8 1zm-16 3zm-6-1zm-2-22zm-6 15zm-9-5zm-10-12zm-10 17zm-8-8zm-11 2zm-3 13zm-26-6zm-3-18zm0 18zm0-9zm-26 4zm-8 8zm-7-1zm-1-4zm-2-15zm-14 2zm-10 24zm-16-26zm-21 8zm-20-1zm-175 49zm108-7zm6 4zm4-12zm0 13zm25-12zm5 10zm17-18zm26 18zm2-7zm0 9zm10-7zm14-14zm24 23zm13-26zm6-1zm3 1zm3 1zm8 18zm5-17zm3 0zm4 14zm14 0zm7-14zm2 4zm7 15zm23 0zm5-6zm4-3zm0-13zm20 21zm5 2zm1-25zm1 16zm3-5zm3 10zm2-3zm3-13zm6 5zm3-2zm5-7zm2 19zm6 8zm9-2zm5 1zm5-21zm1 1zm5 22zm3-26zm2 25zm0-16zm7 14zm4-23zm1 24zm4-22zm1 23zm8-19zm2 9zm4-5zm4-11zm5 19zm7-9zm3-7zm9 13zm22-5zm4-13zm1 11zm4 17zm3-10zm1-5zm5 7zm2-10zm3 7zm0-12zm1 21zm2-3zm5-6zm9-6zm4-4zm2 20zm2 2zm17-29zm16 5zm5 7zm2-1zm14 5zm13-1zm33 3zm-23 14zm-18 27zm-3-21zm-2 5zm-13 8zm-20 8zm-10-14zm-8-12zm-12 7zm-19 6zm-4 4zm-13-2zm-3 2zm-2-12zm-35-5zm-3-3zm-5 14zm-4-9zm-1 23zm-1-12zm-5-2zm-11 12zm-7-13zm0 1zm-1 0zm-4-6zm-1-6zm-2 3zm-9 8zm-4 1zm-21 12zm-5-9zm-21-1zm-5 0zm-4-5zm-1 10zm-7-12zm-8 12zm-3 6zm0-15zm-13 17zm-9 0zm-2-28zm-10 18zm-2-10zm-1 20zm-5-28zm-1 12zm-9 9zm-3-21zm-6 9zm-5 19zm-9-24zm-9 22zm-6-22zm-2 6zm-2 15zm-5-23zm0 19zm-13 3zm-3-8zm-3 6zm-9-6zm-10-5zm-4-4zm-1 7zm-1 3zm-2 0zm-3-8zm-4-4zm-2 14zm-1 6zm-7-19zm-19 7zm-1 9zm-14-16zm-1 19zm-5-8zm-1-15zm-20 1zm-9-2zm-22 9zm-6 13zm0 4zm-15-14zm-6-4zm0 12zm-20 4zm-3-8zm-9 4zm-14 2zm-51 31zm33 0zm6 3zm3-2zm9-12zm7 13zm11-4zm21-7zm13-7zm21 6zm11 11zm7-18zm16 3zm1-4zm7 4zm2 3zm2-11zm0 18zm1-5zm1 2zm2-7zm2-3zm6 16zm2-24zm1 23zm0-9zm12-10zm12 17zm2-21zm6 29zm6 0zm1-15zm4 13zm3-7zm16-15zm6 5zm6 14zm3-13zm15 4zm1 11zm23-13zm21 10zm4-18zm9 2zm13 5zm10 3zm1 14zm2-17zm1 0zm1 12zm1-19zm25 14zm2 9zm8-17zm2-7zm1 2zm4 10zm3 0zm11 10zm4-4zm19 1zm3-13zm5 6zm1 4zm10 4zm2-12zm6 6zm18 6zm11-4zm1 3zm0-19zm4 7zm8-9zm8-1zm13 9zm9 16zm7 3zm9-18zm2-6zm5 6zm6 2zm6 11zm0-5zm25-12zm3 17zm16 3zm0-4zm7-18zm16 14zm-16 15zm-20 0zm-9 11zm-25-11zm-11 21zm-15 2zm-8-27zm-14 9zm-8-4zm-8 16zm-10-21zm0 7zm-8-5zm-5 22zm-18-16zm-3 6zm0 11zm-4-20zm-6-4zm-1 5zm-10-6zm-3 22zm-1-18zm-9 25zm0-13zm-10 7zm-9-3zm-6-14zm-4 1zm0 22zm-11-11zm-3 10zm-22-19zm-7 8zm-14 1zm-6-14zm-4 12zm-2 3zm-12-8zm-9 5zm-14-16zm-3 11zm-6 15zm0-5zm-5 0zm-2 2zm-6-13zm-6 1zm-1-6zm-3 2zm-2 21zm-5-27zm-18 1zm-6 18zm-5 5zm-5 4zm-6-21zm-4-6zm0 13zm-7-12zm-1 13zm-2-8zm-3 7zm-2-7zm-10 5zm-8 10zm-3-6zm-6-3zm-28-6zm-14 21zm-5-12zm-1 4zm-2 0zm-3 6zm-3-4zm-10-4zm-2 9zm-9-1zm-1 0zm-5-19zm-9 2zm-5-3zm-1 2zm-4 7zm-3 1zm-10-12zm-7 17zm-18-14zm-10 17zm0-12zm-3 5zm-34 1zm-12 1zm8 38zm4-7zm5-17zm10 24zm2-6zm12-12zm24 3zm3-5zm1 21zm0-4zm10-8zm4-4zm19 3zm2 9zm16-13zm10 10zm4 2zm2-7zm4-12zm10-1zm5 14zm10-16zm8 16zm1-13zm1 3zm7 12zm3-6zm1-6zm5-8zm7 16zm2-2zm0-9zm0-2zm4 12zm5 1zm2-12zm11 17zm5-4zm22 11zm28-14zm0 8zm8 1zm1-8zm31-9zm12-6zm8 12zm15-10zm2 10zm6-7zm1 19zm15-18zm9 12zm5 8zm29-17zm4 13zm5-8zm23 3zm1 11zm5-5zm12 3zm1-13zm7-1zm5 2zm5 12zm11-13zm9 14zm16 2zm3-13zm7 2zm17 0zm2 10zm2-24zm11 19zm2 0zm27 20zm-57-13zm-4 14zm-20-2zm-14 6zm-2-15zm-8 20zm-19-9zm-5-13zm-8 15zm-4 8zm0-17zm0-1zm0 14zm-6-17zm-5 2zm-4 12zm-2-5zm-5-8zm-11 23zm-6-19zm0 17zm-8-23zm-13-1zm-16 7zm-8 13zm-10 1zm-3 5zm-7-1zm-1-23zm0 10zm-2-7zm-3 17zm0-6zm-8 1zm-9-8zm-7 12zm-5-9zm-3 2zm-2-15zm-3 4zm-18 17zm-2-5zm-1-2zm-2 7zm-16-16zm-6 11zm-11-15zm-3 5zm-10 19zm-11-1zm-13-1zm-15 4zm-18-13zm0-13zm-2 10zm-1 0zm-3-6zm-9 11zm-5-2zm-6-1zm-3 3zm0-15zm-15 13zm-8 4zm-10-18zm-4 14zm-1-1zm-1-11zm-2 17zm-7 5zm-4-12zm0 15zm-1-20zm-2 6zm-1-4zm-2 16zm-8-2zm-4 5zm-5-20zm0 20zm-3-25zm-1 12zm-4-8zm-4 14zm-7 4zm-6 0zm-24-8zm-13 12zm-3-22zm-13 8zm-37 14zm-46 29zm15 0zm5-12zm6-8zm4-2zm17 13zm40 8zm2-25zm26 1zm1 14zm3 0zm1-5zm10 1zm3 10zm1-6zm0 6zm18-6zm0-14zm2-3zm13 8zm2 12zm3 0zm13 5zm13-19zm13 16zm14-11zm2 6zm16 5zm0-12zm4-10zm9 29zm2-17zm11 15zm4-1zm1 2zm9-22zm9 3zm1 7zm21 10zm7-3zm3-12zm6 15zm2-23zm0 15zm9-12zm8 5zm6-7zm0-1zm16 7zm11-4zm3 1zm2-4zm8 7zm8 6zm4 4zm10-20zm10 7zm10-2zm2-2zm21 13zm15-12zm6 15zm5 4zm10-2zm3-20zm5 13zm1-1zm24-6zm12-3zm16 5zm1-7zm5 6zm0-1zm13 14zm6 0zm14-2zm6-3zm2-6zm2 1zm53-2zm-95 29zm-30-4zm-45 17zm-10-5zm-2 5zm-5 7zm-3-13zm-10 14zm-5-13zm-3 11zm-9-25zm-3 5zm-5-6zm-2 6zm-5 20zm-7-9zm-2-15zm-6 25zm-3-5zm-3-16zm-18 13zm-1-15zm-1 5zm-5-1zm-12 10zm-6 8zm-2-27zm-13 22zm-2-16zm-2 3zm-10 9zm-6-9zm-7-5zm-11 20zm0-10zm0-10zm-2 1zm-8 11zm-5 9zm-15-23zm-6 26zm-2 0zm-13-2zm-13-25zm-1 18zm0-16zm-10 22zm-4 4zm-1-28zm-6 13zm-9 11zm-6-14zm-5 3zm-2 9zm-7-21zm-2 19zm-5-2zm-1-11zm-2 11zm-8 2zm-18 6zm-7-10zm-2-5zm-1 11zm-8-15zm-3 8zm-3 7zm-1-4zm-8 3zm0-13zm-30-3zm-15 17zm0-16zm-1 3zm-17 13zm-6-19zm-8 7zm-1-1zm-75 26zm40 5zm18-7zm3 10zm13-8zm24 23zm6-27zm1 4zm9-1zm2 15zm2-12zm5-8zm19 24zm35-9zm4-12zm10-1zm3 16zm6-5zm3-12zm4 24zm5-8zm6-11zm8 13zm4-4zm8 13zm8 0zm13-14zm1-5zm1 15zm3-6zm1-15zm0 19zm8-11zm22 11zm0-19zm2 18zm4-20zm15 19zm0-9zm1-3zm1 16zm1-5zm7-2zm15-7zm6 3zm5-10zm8 2zm2 12zm1-3zm6-14zm6 19zm12 2zm5-12zm6-7zm10 23zm4-21zm1 24zm0-10zm41 0zm1 9zm1-24zm0 11zm1 10zm12-18zm8 9zm15-3zm8-2zm8-4zm6 20zm6-18zm4 3zm12 1zm22 6zm11-6zm-24 20zm-1 15zm-34 10zm-1-21zm-1 22zm-5-22zm-36 23zm-2-19zm-46 1zm-5 10zm-34-12zm-3 5zm0 11zm0-12zm-7 1zm-5 12zm-6 2zm-6-15zm-1 2zm-7-4zm-2-4zm0-6zm0 21zm-5-7zm-8-4zm-8 15zm-12-4zm-2 5zm-3-18zm-7 9zm-4 5zm-26-3zm-24-18zm-1 24zm-1-16zm-4 12zm-19-20zm-7 23zm-3-9zm-13-9zm-2 7zm-3-6zm-4 7zm-3-15zm-1 6zm-3 6zm-3 17zm-4-29zm-3 6zm-5-3zm-8 20zm-3-9zm0 1zm-1 12zm-2-13zm-2-8zm-8 9zm0-9zm-1-1zm-1 17zm-11-16zm-5 6zm-1-11zm-5 5zm-8 10zm-10 8zm-11-17zm-9 13zm-8 3zm-3-11zm-1 1zm0 8zm-7-10zm-11 6zm0 6zm-3 0zm-12-11zm-36 7zm-14 33zm19-10zm17 6zm38 4zm3-9zm3-3zm14-5zm2 23zm0-8zm7 5zm3-5zm0-6zm7-8zm2 19zm12-10zm5 10zm5-12zm3 4zm3-3zm4 2zm14 9zm3 4zm4-8zm7-7zm2 14zm3-4zm7-3zm4-18zm4 15zm4 11zm5-5zm2-3zm9 6zm0 0zm3 1zm4-28zm0 5zm2 24zm17-13zm2-9zm14 22zm3-10zm6-13zm11 16zm5-14zm1-1zm3 19zm0-22zm3 11zm7 1zm4 11zm16-25zm3 24zm1-11zm1-2zm2 5zm1 4zm0 0zm1 5zm3-14zm11-4zm8-3zm7 12zm5-3zm2-7zm0-7zm0 10zm4-5zm2-3zm2 18zm13-2zm1 4zm15-10zm18-8zm4-3zm7 25zm2-8zm9-10zm0-9zm18 6zm4 11zm4-8zm7-9zm40 37zm-27 2zm-8-4zm-5 1zm-4 10zm-13-16zm-15 18zm-9-13zm-9-3zm-3 26zm-3-11zm0 12zm-2-21zm-1 8zm-1 10zm-14-17zm-20 3zm0 13zm-1-5zm-13 9zm-3-20zm-2 5zm-5 12zm-12-16zm-10-7zm-1 10zm0-3zm-16 8zm-13-1zm-4 2zm-6 7zm-1-6zm-4 7zm-9-7zm-6-7zm-5 16zm-2-7zm-8-21zm-4 1zm-1 14zm-5-3zm-6 12zm-2-3zm-18-1zm-2-14zm-1 1zm-4 5zm-8-2zm-1 17zm-8-15zm-8 6zm-4-14zm-3-5zm-9 4zm-1 0zm-1 24zm-1-10zm-4-4zm-2-14zm-1 9zm-10 18zm-1-24zm-2 13zm-9-4zm-1-11zm-5 27zm-6-13zm-24 12zm-5-18zm-7-7zm-8 19zm-13 7zm-4-7zm-1 6zm-22-4zm-3-6zm0 9zm-4-22zm-14 8zm-41-3zm-4 18zm-4-17zm-3 6zm-1 13zm10 6zm2-2zm3 12zm10 2zm17 11zm13-8zm3-1zm4-12zm1 0zm14 13zm7 7zm1-22zm1 7zm2-2zm6-8zm22 11zm0 1zm5 8zm3-16zm3 2zm10-8zm0 11zm1 12zm1-17zm2 3zm0 3zm9 3zm3-7zm7 2zm13 0zm16 13zm0-6zm2 5zm1-15zm4-5zm0 20zm1-8zm12 1zm13 3zm2-12zm15-3zm2 2zm15 10zm1-13zm10 1zm0 12zm16-4zm8 13zm21 2zm2 3zm1-19zm2-4zm31-4zm12 6zm1-5zm7 22zm7 0zm5-9zm3-7zm0 9zm15-10zm9 2zm1 1zm2 3zm48 4zm40-11zm-100 35zm-58 11zm-1-7zm-1 3zm-14-5zm-2 1zm-4 14zm-5-17zm-23-8zm-2 0zm-4 14zm0-7zm-4 16zm-4-27zm-3 19zm-2-6zm-8 10zm-1 4zm0-20zm-24 6zm-11-2zm-13-4zm-2 2zm-1-3zm-1 20zm-1-2zm-2-5zm-4-1zm-13-3zm-10-11zm-13 17zm-18-9zm-1-12zm-27 2zm-8 14zm-3 8zm-3-14zm0 10zm-6-4zm-5-4zm-12-2zm-11-7zm-12 17zm-17-5zm-15-5zm-38 13zm30 9zm47 23zm1 4zm4-28zm23 18zm20-16zm7 5zm34-5zm19 10zm6-13zm11 11zm1-8zm7 2zm8 7zm8 16zm8-20zm5 12zm1-18zm7 5zm16 9zm10-14zm1 27zm5-3zm6-26zm14 24zm2 2zm26-17zm63-4zm-62 31zm-38 3zm-15-4zm-17 7zm-11 6zm-1-8zm-6 12zm-20-19zm-4-1zm-2 6zm-5 17zm-1 3zm-38-17zm-39-7zm-5 10zm-35 10zm-2-15zm-25 11zm-6-4zm-17-13zm-1 0zm-15 5zm-7 10zm-21 25zm1 5zm7-8zm21 13zm10-7zm30 5zm6-19zm2 21zm9 6zm13-20zm20 17zm5-18zm3-2zm33 0zm8-1zm2-4zm1 20zm5-9zm10-12zm6 12zm20 13zm15-1zm2-21zm3 1zm32 0zm-117 33zm-6 6zm-5-4zm-11-4zm-9 10zm-5-5zm-2-6zm-28 23zm-4-15zm-6 1zm-1 9zm-7 2zm-4 2zm-7-4zm-11-2zm-8-7zm-3 16zm-9 0zm-6-27zm0 3zm-3 40zm36 9zm24-22zm3 4zm4-3zm5 2zm0 15zm15 0zm20-17zm6 12zm34 6zm4 8zm5-20zm8-6zm31 38zm-8 18zm-20-25zm-9 11zm-3 13zm-1-14zm-10 9zm-26-23zm-11 1zm-8 12zm-12 10zm-48-20zm-12 53zm32-20zm24 2zm9 13zm12-19zm4 22zm0 0zm25-11zm16-9zm18-1zm14 24zm31-27zm-22 39zm-10 18zm-5-25zm-36 10zm-3-5zm-22 16zm-3 3zm-21-14zm-10 5zm-11-2zm-6-5zm-21 18zm0-20zm-9 4zm-1 5zm9 31zm39-5zm25-13zm6 0zm17 24zm3-16zm14 14zm25-5zm7-5zm2-4zm11 16zm-25 20zm-26-7zm-10 6zm-5-12zm-3 1zm-3 9zm-27 1zm-9 5zm0-13zm-23 18zm-15-14zm-9 14zm12 21zm11 0zm3 11zm2-23zm19 16zm24 6zm6-1zm13-20zm26 9zm6-11zm30 42zm-16-8zm-28 1zm-2 20zm-10-23zm-32 14zm-4 12zm-31-12zm10 29zm4 11zm5-7zm7-14zm1 18zm9 6zm3-10zm6-14zm4 18zm16-6zm6-12zm13-3zm7 19zm4 3zm3-23zm6 9zm23 2zm-26 46zm-2-15zm-8 4zm-10-2zm-4 8zm-9-6zm-2 0zm-5 1zm-7 8zm-1 1zm-8-21zm0 6zm-5 8zm-8 8zm8 12zm4-8zm15-1zm7 6zm3-5zm0 0zm1 23zm10-25z"/><path stroke="#00b0ea" d="M4345 1769zm65-11zm230 36zm-13 4zm-28-16zm-19 15zm-23-4zm-5-11zm-13-5zm-26 17zm-48-5zm-23 8zm-2-12zm-28 7zm-14 7zm-33-1zm-2-2zm-6-15zm-16 13zm-21-21zm-4 25zm-10-22zm-18 18zm-16-11zm-25 16zm-4-11zm-19 4zm-1 5zm-151 26zm6-2zm4 3zm20-15zm5 10zm32 10zm45-18zm3-10zm6 0zm3 7zm1 15zm15-10zm12 6zm7-6zm11-7zm6 11zm9 0zm7 12zm1-10zm7-13zm12 23zm1-3zm7-5zm3 6zm0-24zm14 14zm2-14zm12 18zm30-19zm7 1zm2 22zm7 4zm2-4zm1-20zm5 6zm5 1zm3 4zm2 10zm10-18zm4-6zm18 2zm17 5zm7 12zm14-19zm7 12zm5 11zm16-4zm1 2zm11-8zm2 0zm1 10zm25-3zm14-4zm3 0zm1-13zm4 8zm14-1zm0-4zm7 3zm9 7zm8 0zm8-13zm2 18zm9-19zm11 17zm8-2zm18-4zm0 6zm57-8zm10 15zm2-5zm57-2zm5 4zm54 34zm-32-13zm0 7zm-22-12zm-3 3zm-9-2zm-4 5zm-12-14zm-9 4zm-3 5zm-5 8zm-1-14zm-14 16zm-12 5zm-9-14zm-2-9zm-19 12zm-11 8zm-5-7zm-5 5zm-31-1zm-7 2zm-20-11zm-1-11zm-14 17zm-3 11zm0-22zm-7 13zm-2-14zm-2 10zm-3 4zm-4-6zm-1 7zm-2-16zm-14 19zm-4-6zm-7-12zm-14 4zm-2 7zm-6-10zm-10 6zm-2 0zm-5 1zm-11-13zm-4 12zm-1-3zm-9 18zm-3-23zm0 20zm-5-15zm-8 18zm0-6zm-1-19zm-10 8zm-15 12zm-1-1zm-1-16zm-5 1zm-12 17zm-2-14zm-5-6zm-3 23zm-4-13zm-2-7zm-10 4zm-2-11zm-2 8zm-1-3zm-4 10zm-7-13zm-2 12zm-3-6zm-17-7zm-3 8zm-12 16zm-1-9zm-31-10zm-5 4zm-7-7zm-15 16zm-7-1zm-3-9zm0 13zm-4 7zm-25-28zm-5 2zm0 26zm-2-25zm-3 10zm-1-1zm-3-6zm-2 18zm-2-24zm-2 16zm-4-7zm-5 1zm-17-8zm-3 21zm-3-6zm-2 1zm-12-12zm-21 16zm-3-10zm-2-7zm-6 18zm-1-15zm-10-8zm-1 1zm-10 24zm-36-8zm0-4zm-7 14zm-19-2zm-40 32zm25-5zm20-18zm8 10zm3 7zm7-13zm0-2zm9 9zm0 0zm5-4zm8 4zm4-1zm14 6zm24-5zm8-9zm5-6zm6 12zm4-7zm14 11zm17-12zm7 0zm1-5zm31 7zm16 14zm0-17zm6 24zm4-10zm9 5zm7-18zm6 18zm9 2zm3-15zm1 0zm4 1zm7 11zm7 7zm5-22zm3 6zm5-6zm2 4zm0-3zm2 3zm2-1zm13 16zm11-18zm2 12zm2-8zm3-10zm19 27zm4-4zm5 1zm6-15zm3 10zm3 7zm3-12zm4 5zm7-17zm12 4zm1 0zm3 5zm0 3zm5-4zm3 1zm7 6zm3 8zm12-21zm8 16zm4-2zm4 1zm1-15zm10 23zm5-19zm0-5zm27 3zm1 15zm11 6zm5-2zm3-7zm18-14zm1 18zm12-19zm0 7zm7 9zm0 7zm58-4zm0-12zm5 0zm30 1zm15 1zm41 13zm1-23zm4 15zm0-8zm1 13zm3-2zm0-9zm5-12zm2 13zm35-8zm17 6zm2-11zm26 23zm3-15zm7 18zm13-5zm0-19zm4 13zm14-1zm2 11zm41 18zm-33-12zm-20 0zm-7 12zm-1-14zm-7 16zm-4 3zm0 10zm-15-16zm-7 3zm-6-6zm-1 5zm-1-13zm-13 2zm-1 8zm-16 1zm-11-7zm0 20zm-14-19zm-2 11zm-6 5zm-5 5zm-12-4zm-8-20zm-8 13zm-6-17zm-4 7zm-3-2zm-13 12zm0-14zm-1 12zm-4 12zm-20-8zm-1-5zm0 6zm-17-19zm-24 23zm-5-18zm-6-4zm-25 25zm-10-16zm-5 18zm-17-22zm-1 11zm-3-16zm-11-2zm-2 6zm-5-3zm0 13zm-2-10zm-5 9zm-4 3zm-2-11zm-7 13zm-1 7zm-9-26zm-10 0zm0 22zm-5-11zm-7 17zm0-4zm-9-2zm-3-8zm-14 2zm-20 2zm-3 9zm-5-10zm-4-7zm-13 1zm-4 13zm-18-12zm-9-12zm-1 15zm-5 6zm-1-17zm-21 7zm-13-7zm-3 20zm-7-5zm-1-14zm-3 20zm-5-14zm-12 9zm-16-3zm-2 10zm-3-7zm-6-5zm-1 6zm-2 3zm-5-13zm-3 12zm-11-17zm-3 1zm-19 2zm-6 19zm-1-9zm-3-9zm-1 16zm-1-10zm-7 9zm-3-12zm-8-10zm-27 21zm-3 1zm-3 2zm-3-20zm-3 1zm-5-9zm-9 24zm-2-14zm-9 0zm-3 3zm-13-13zm-1 19zm-6 2zm-17-2zm-17-12zm-8 21zm-25-8zm-1-15zm-2 9zm-2 4zm-24 1zm-4 23zm2-3zm5-4zm1 0zm19 0zm31 20zm1-6zm4 6zm6-23zm12 18zm1 6zm11-23zm11 13zm3-5zm9 9zm5-14zm2 13zm2-12zm1-5zm1 2zm1 7zm8 15zm4-22zm0 16zm6-12zm1 6zm6 13zm0-3zm4-8zm8 3zm2-10zm2 4zm11 11zm1-10zm12 0zm5-5zm6 2zm6-5zm3 17zm8-14zm5-4zm6 3zm4 12zm4 2zm9 4zm10-17zm4 14zm9 1zm13-13zm12 9zm12-4zm11-9zm9 5zm9 11zm2-5zm3 0zm2-11zm9-4zm8 6zm0 7zm0 9zm4-5zm3 6zm8-19zm1 2zm2 20zm10-27zm4 24zm11-25zm1 10zm12 12zm15-16zm1 13zm7 1zm1 1zm4-15zm6-7zm14 1zm5 10zm2-8zm1 10zm8 13zm14-25zm2 12zm3 0zm3-8zm6 18zm17-13zm0 3zm7 13zm20 2zm12-18zm1 19zm20-24zm5 19zm0 1zm7-9zm0-6zm7 15zm8-13zm1 0zm3 13zm2 0zm10-2zm7-14zm12 8zm2-5zm43-10zm5 21zm14 0zm7-18zm11 20zm34-17zm13 4zm17 7zm7-9zm1-2zm2 15zm3 6zm17-17zm1-10zm1 4zm10 8zm8 0zm9-11zm20 4zm10-2zm13 10zm13-4zm5 14zm7 4zm6-5zm10-8zm2 6zm6 0zm68 4zm51 27zm-7-19zm-10 7zm-5 16zm-10-11zm-9 13zm-2-6zm-19 0zm-25-3zm-23 2zm-2-1zm-11 2zm0-16zm-1-7zm-7 8zm-1 1zm-12-1zm-9 21zm-10-14zm-9 9zm-26-3zm-18-12zm-9 18zm-15-18zm-1 2zm-5-1zm0-5zm-2 24zm-29-3zm-15-12zm-1 1zm-9-2zm-13-11zm-30-2zm0 27zm0 0zm-7-15zm-4-9zm-6 14zm-7 7zm0-22zm-3 8zm-17 12zm-3-1zm-15-18zm-5 18zm-3 5zm-26-1zm-2-20zm-26 17zm-4-12zm-4 5zm-1 4zm-1-13zm-1 21zm-2-27zm-2 8zm-10 17zm-10 1zm-9-8zm-7-11zm-2-2zm-16 0zm-4 14zm-3-9zm-1 11zm-8 5zm-8 2zm-4 0zm-6 0zm-2 0zm-6 1zm-16-10zm0-6zm-6-8zm-10 13zm-4-7zm0 0zm-3-10zm-1 19zm-2-5zm-5 4zm-2-3zm-2-13zm-1 13zm-2-14zm-22 26zm-6-6zm-1-2zm-1-10zm-5 12zm-7-17zm-5 4zm0 17zm-3-8zm-6-11zm-2 17zm-1-15zm-8 20zm-5-22zm-2 8zm-1 7zm-3-6zm-2 7zm-4 0zm-4-15zm-1-5zm0 7zm-9 2zm-5-11zm-2 14zm-1-15zm-14 17zm-2-5zm-4 14zm-15-21zm-1 9zm0 12zm-5-19zm-5-5zm-7 20zm-5 4zm-2-2zm-2-11zm-2 10zm-7-18zm-4 12zm-4 11zm-16-2zm-3-11zm-2-14zm-5 0zm0 24zm-1 0zm-3-5zm-9-13zm-13 5zm-5-4zm-19 7zm-19-15zm-9 7zm-6 0zm-2 20zm-3-13zm-1 15zm-2-11zm-1-9zm-14-4zm-6 7zm-3-4zm-2 20zm-3-18zm0 15zm-7-13zm0 10zm-7-5zm-23 5zm-13 2zm-19-24zm-7 27zm-9-6zm-6-19zm-8 26zm-15-22zm-23 48zm6-11zm20 6zm14-12zm2 18zm19-1zm4-23zm5 17zm1 4zm5-10zm21-8zm6 19zm1-1zm6-16zm7 16zm1 4zm9-7zm1 4zm4-15zm4 20zm33-3zm3-14zm12 12zm2 2zm4-14zm7-11zm30 25zm1-14zm2 17zm9 1zm1-27zm12 19zm13-4zm11 4zm3-2zm4 9zm2-22zm1 11zm1 9zm1-20zm5 8zm5 13zm18-24zm7 12zm1 8zm5-22zm17 2zm4 10zm1-4zm1 18zm0-20zm5 16zm3 0zm8-19zm7 15zm4-5zm2 0zm9 13zm17-23zm5 21zm1-13zm7 4zm6 7zm1-21zm12 0zm2 3zm1 7zm7 15zm4-13zm3-1zm3 13zm4-7zm1-19zm1 23zm7-8zm2 8zm3-3zm6-8zm1 8zm5-4zm5 5zm10-4zm4-9zm0 18zm17-2zm1-3zm1-2zm8-19zm16 23zm2-21zm11 12zm2-3zm2-6zm4 0zm0 20zm4-13zm4 2zm3-9zm6 9zm3 15zm2-4zm0-6zm1-2zm1-8zm4-6zm3 24zm3-19zm6 9zm7 1zm33-16zm3 18zm13-15zm5 0zm24 4zm5 17zm8-11zm3-4zm8 13zm2-15zm12-7zm17 26zm1-10zm5-12zm15 7zm0 0zm4 13zm3-18zm11 17zm16-18zm6-1zm16 7zm9 11zm4-13zm5 14zm9-8zm1 2zm3-14zm6 0zm3-5zm2 24zm34-13zm8 12zm3-16zm12 10zm34-14zm6 17zm2-7zm6 15zm2-25zm4-2zm2 15zm7-16zm4 2zm5 16zm16-13zm7-2zm3 20zm18-14zm0 20zm1 0zm0-20zm19 16zm3-21zm11 12zm2 8zm16-5zm2-9zm16 48zm-21-9zm0-16zm-12-1zm-1-2zm-17 27zm-7-9zm-8 0zm-5 9zm-4-6zm-17 2zm-7 3zm-7-23zm-3 9zm0 14zm-9-1zm-3-7zm-3-5zm-22-9zm-7 17zm-3 5zm-51-3zm-8 3zm0-17zm-4-2zm-2 7zm-2-1zm-2 10zm-3-20zm-1 0zm-8 9zm-5-9zm-6 3zm-6 18zm-5-22zm-10 7zm-14-7zm-16 3zm0-5zm-4 11zm-17 7zm-12-11zm-12 4zm-4-8zm-8 15zm-12 11zm-1-9zm-4-8zm-1 14zm-5-8zm-2 2zm-3-10zm-2 8zm-5 1zm-7 5zm-25-22zm-6 3zm-3 8zm-2 14zm-3-22zm-10-1zm-6 14zm-21-15zm0 3zm-14 9zm-4-8zm-5 17zm0 0zm-7-1zm-4-12zm-2 14zm-6-3zm-3 3zm-13-20zm-4 24zm-2-23zm-2-3zm0 6zm-17 12zm-2-8zm-6-7zm0-2zm-8 16zm-4-11zm-2-8zm-18 9zm-11 10zm-11-6zm-18 11zm-4-10zm-7 0zm-1-2zm0 16zm-2-18zm-5 7zm-1-5zm-3 15zm-9-6zm-14-21zm-1 26zm0-20zm-1-2zm-1 18zm-15-14zm-3-6zm-4 1zm0 1zm-4 1zm-1-6zm-3 8zm-1-5zm-4 17zm-2 2zm-5 2zm-10-19zm-6-4zm-1 18zm-3-16zm-1 6zm-2-4zm0-1zm-5 21zm-3 2zm-14-5zm-3-13zm-4 17zm-7-12zm0-5zm-2-9zm-1 21zm-1-21zm-3 0zm-2 17zm-1 10zm-1-8zm-7-9zm-17-1zm-17-2zm-1 14zm-9-10zm-3-7zm-2 24zm0-21zm-16 5zm-2-6zm-12 18zm-3-24zm-8 9zm-3 7zm-10-8zm-1 11zm-18 2zm-11 0zm-7 3zm-4 1zm-7-21zm-6-1zm-7 18zm-11-16zm-2-3zm-11 9zm-4-7zm-23 22zm-18-18zm-5-5zm-3 23zm-4-20zm-11 17zm-4-2zm-5-20zm-45 22zm-5 6zm-12-27zm-35 25zm-30-6zm-4 2zm-29 2zm-5-10zm-7 43zm12-2zm28-16zm4-7zm6 15zm32-5zm2 2zm50 7zm29-19zm44 22zm10-20zm7-4zm6 27zm1-1zm4-27zm2 20zm20-5zm13-12zm3 19zm5 4zm2-12zm12 14zm20-28zm1 16zm2 12zm16-16zm1-11zm4 18zm9 5zm0-12zm1 7zm2-8zm26-4zm6 11zm10-14zm6 14zm4-10zm15 20zm2-23zm3-4zm2 4zm6 9zm11 2zm8-13zm2 12zm4-12zm4 26zm5-21zm1 20zm1-16zm2 11zm7-2zm6-20zm1 3zm1 11zm4-3zm2 0zm7-1zm3-3zm2 15zm0-9zm2 12zm8-9zm2-14zm2 6zm6 16zm2 1zm6 0zm19-19zm3 13zm4 2zm2-4zm2-13zm7 5zm12-8zm15 20zm12-16zm3 20zm3-16zm8-7zm2 24zm1-4zm4-5zm2-16zm9 2zm1 20zm11-22zm11 22zm0 2zm0-19zm12-6zm2 8zm1 15zm5-1zm1-14zm4-7zm2 23zm0-8zm8-17zm4 16zm11-16zm0 11zm21 8zm3 7zm3-14zm1-2zm1 8zm1-4zm7-5zm11-3zm1 16zm6-19zm3 5zm3 11zm0-16zm3 1zm6 20zm0-13zm5 16zm6-25zm2 5zm5 6zm16 10zm3 6zm1-2zm6-12zm10-14zm5 3zm15 3zm1 19zm1-4zm3-12zm0 9zm5-18zm3 27zm0-23zm7 16zm3-8zm1 6zm4-7zm4 7zm1-1zm17-10zm1 14zm16 7zm2-19zm4 11zm11-21zm19 9zm1 4zm1 6zm8-4zm13-14zm2 19zm3-7zm10 8zm3-7zm3 6zm22 9zm33-12zm4-10zm1 2zm15 5zm2-8zm22 4zm5 13zm1-2zm12-14zm4 13zm16-14zm0 10zm7 2zm13-1zm28-4zm1-3zm8 15zm1-16zm8 13zm24 0zm12-4zm19 21zm-4 20zm-12-17zm-11-12zm-10 2zm-1-1zm-3 17zm-14 3zm-3-8zm-14 10zm-19-2zm-7-19zm-2 15zm-16 3zm-1-14zm0-5zm-3 23zm-3-13zm-16-5zm-7-1zm-2 9zm-1 8zm-1 7zm-26-12zm-3-2zm-6 12zm-8-8zm-2-11zm-3-1zm-29 14zm-3-21zm-9 6zm-6 9zm-1 8zm0-19zm-5 11zm-5 5zm-2 2zm-6-22zm-9 3zm-14 25zm-15-10zm-5-10zm-5-3zm-3-2zm-3 5zm-1 12zm-1 7zm-2-26zm-2 3zm-1 9zm-8-13zm0 15zm-16-7zm-5-1zm-2-1zm-1 2zm-3-8zm-7 26zm-8-16zm-7 19zm-1-29zm-17 4zm-6 6zm-2-4zm-8 20zm-1-2zm-1-18zm-3 18zm-7-11zm-3-10zm-7 19zm-5-21zm0 14zm-4 8zm-3-2zm-3-4zm-2 10zm-12-15zm-4-9zm-6 2zm-2 21zm0-12zm-2-2zm0 16zm-1-2zm-6 3zm-1-17zm-1-2zm-6 12zm-2 1zm-5-2zm-2-21zm-1 19zm-4-18zm-3 23zm-9-3zm-4-16zm-3 22zm-2 1zm-6-6zm-3 3zm-1-2zm-2 4zm-2-8zm-1 6zm-3-25zm-1 0zm-3 11zm-3 15zm-2-20zm-4 8zm-15-9zm-1 14zm-6-8zm-1 17zm-8-23zm0-4zm-2 0zm-2 22zm-8-3zm0 9zm-1-24zm-2 17zm-7-16zm-2 19zm-7-18zm-2 2zm-3 0zm-5 17zm-6-11zm-3-3zm-11 13zm-8-15zm-2 0zm-6 15zm-8 3zm-5-10zm-2-18zm-2 0zm-4 7zm0 20zm-5-1zm-14-26zm-8 25zm0-16zm-1 8zm-4-1zm-16 0zm-2-3zm-3-5zm-8 11zm-3 5zm-4-4zm-15-11zm-7 13zm-3-10zm-2 2zm-3-7zm-6 16zm-1-18zm-5 19zm0-8zm-1 6zm-16-7zm-14-13zm-3-1zm-2 0zm-2 26zm-6-8zm-5-4zm-2-15zm0 17zm-4-12zm-2 9zm-10 8zm-8-13zm-4 6zm-9-8zm-5-6zm-2 10zm0 9zm-5 0zm-1-6zm-4 4zm-2-9zm-3 19zm-1-19zm-4 17zm-6-25zm-1 16zm-9-16zm-1 14zm-2 8zm-5 3zm-13-10zm-4 13zm-2-1zm-1-10zm-4 4zm-1-1zm-2-11zm-16-2zm-12 19zm-4-6zm-5-5zm-3-11zm-2 6zm-3 3zm-1-12zm0 26zm-3 0zm-5-28zm-19 23zm0 5zm-1-27zm-30 15zm-5-9zm-12 11zm-2-13zm-38-3zm-95 2zm-23 10zm-21-11zm-12 14zm-5-7zm-11 16zm22 28zm3-17zm1-6zm4 8zm23 19zm33-6zm23 4zm35-9zm2 6zm29-2zm8-20zm25 23zm9-23zm25 11zm14 12zm32-7zm4-16zm4 2zm23 23zm5-3zm11-16zm25 0zm18-1zm3 1zm6 11zm2-1zm12-17zm10 28zm3-18zm3-3zm1 0zm8-5zm0 25zm2-25zm6 5zm9-4zm1 3zm2-5zm3 13zm1 6zm1-12zm10 14zm20-16zm16 1zm9 10zm5 12zm6-2zm9-2zm9-1zm8-14zm7 15zm3-2zm7 5zm5-8zm10-3zm5-16zm1 5zm11 18zm7 1zm0 4zm0-25zm4 5zm1 4zm0 4zm0-10zm7 13zm1-5zm5 1zm2 11zm0-11zm1 2zm1-17zm4 15zm7-2zm1-11zm1 22zm3-2zm1-4zm3-5zm1 15zm5-17zm9 4zm16 12zm0 1zm0-26zm6 4zm0 20zm13-27zm3 22zm2 3zm6-20zm0 4zm2 4zm6-5zm1-1zm2 10zm2 12zm1-20zm1 17zm4 0zm1-11zm2 2zm5-17zm1 5zm7 24zm5-2zm0-26zm1 0zm5 9zm1 18zm2-17zm1 8zm0 10zm3-24zm2 6zm7 0zm4 9zm2-9zm0-5zm0 11zm2-9zm4-3zm1 2zm0 10zm6 1zm1 3zm2 3zm1 2zm0-9zm0-2zm2 7zm1-18zm1 15zm1 5zm4-16zm0 14zm3-19zm7 21zm4 1zm1-24zm24 13zm11-2zm6 16zm3-1zm4 0zm4-18zm2-2zm2 19zm3-25zm2 13zm0 7zm1-15zm4 17zm1-19zm0-2zm4-2zm2 4zm22 2zm5-2zm0 15zm2 7zm2-19zm1-6zm7 9zm18 5zm3 13zm2-13zm2 0zm12-4zm2 8zm2-18zm13 14zm23 8zm3 0zm0-4zm2-9zm5 3zm22 11zm15-10zm2-4zm17 0zm8 0zm1 13zm1-16zm5-2zm13 15zm1-20zm10 24zm4-10zm31-6zm8 2zm2 9zm1-4zm18 6zm7-5zm6-15zm4 22zm10-14zm16 18zm10-15zm17-6zm2 6zm11-1zm10-10zm17 11zm2-10zm11 11zm12 24zm-16-3zm-4-4zm-3 1zm-13 11zm-2 0zm-1 4zm-1-3zm-4 11zm-7-14zm-9 0zm-14 3zm-12-2zm-5 11zm-7-13zm-9 16zm-28-22zm-7 1zm-2 18zm-12-18zm-2 24zm-3-3zm-5-16zm-1 4zm-22-3zm-3-2zm-26-2zm0 18zm-2-2zm-4-9zm-2-12zm-6 21zm-1-17zm-1 7zm-13 13zm-2-23zm-2 16zm-5-7zm-5 7zm-5 0zm-7 1zm-4 3zm0-9zm-9 9zm0 2zm-1-7zm-2 11zm-3-24zm0 10zm-4-7zm0 11zm-8-15zm-2 8zm-8-6zm-3 10zm-5 13zm-5-6zm0-1zm-3 2zm-1-18zm0 23zm-1-8zm-7-2zm-1 4zm0-4zm-3 0zm-2-9zm-1 8zm-1-9zm-6 18zm-9-22zm-7 12zm-4-12zm-2 25zm-10-3zm0 0zm-1-14zm-3 11zm0-12zm-8-1zm-5 11zm-9-4zm0-1zm-14-11zm-2 13zm-9-17zm-9 18zm-3 10zm-1-22zm-4 1zm-1 11zm-2-11zm-3 4zm-2-4zm-1-5zm-1-2zm0 4zm-1 1zm-8 9zm0-3zm0-12zm-6 7zm-4 15zm-2-11zm0 8zm-5 0zm0-13zm-1 4zm-3 4zm0 14zm-5-24zm-2 7zm-2-11zm-2 2zm-4 2zm0-1zm-1 14zm-10-14zm-5 19zm-6-17zm0 23zm-2-7zm-1-5zm-3-4zm0 10zm-2-6zm0-6zm-1 2zm-4 10zm-1-12zm-2 0zm-3-10zm-3 13zm-16 1zm-2 5zm-4 1zm-2-7zm-1 14zm-3 2zm-2-22zm-10 11zm-5-6zm0-9zm-4 7zm-9-7zm0 19zm-2 6zm-5-16zm-8 0zm-4-6zm0 2zm-2 5zm0-1zm-2 1zm-1-2zm-2 15zm-1-25zm-13 7zm-2 17zm-15-10zm-2 8zm-9-4zm-14-13zm-6-3zm0 20zm-2-4zm-7-2zm-1 7zm-1-5zm-7-8zm-13-9zm-12 12zm-5-9zm-14-2zm-12 16zm-6-3zm-1-5zm-5-7zm-3 0zm-3 21zm-3-13zm-7-5zm-2-3zm-14 1zm-2 11zm-18 1zm-9-1zm-6 7zm-2 1zm-7 5zm-3-22zm-32 6zm-9 7zm-4-7zm-7-5zm-5 19zm-13-2zm-3-11zm-12 7zm-30-3zm-22 11zm-13-23zm-3 18zm-22-9zm-2 9zm-6-9zm-8 5zm-5-6zm-29-7zm-37 16zm-20-9zm-22-3zm-25 9zm-45 8zm-4-24zm-11 12zm-20 19zm5 23zm43-6zm55-16zm7-2zm30 14zm15-16zm98 8zm11-10zm9 18zm3 11zm3-23zm54-5zm9 2zm29 11zm4-12zm2 23zm18-16zm4-2zm7 20zm3-10zm0-7zm9 10zm1-12zm1 2zm3-5zm1 15zm3-3zm9-10zm8 10zm3-16zm1 2zm23 21zm6-3zm2 0zm10-5zm3 11zm17-5zm1-13zm4 14zm9 4zm2-22zm8 7zm3 7zm3 6zm1-2zm4 1zm4-16zm2 17zm2-9zm2-15zm0 19zm10-15zm11-3zm0 8zm5 6zm1 0zm3-5zm2 7zm3-10zm2 5zm22-10zm1 10zm4-6zm1 19zm0-23zm14 24zm0 1zm15-8zm4 0zm1-8zm5 10zm2-13zm1 6zm5-13zm12 16zm4-16zm8 23zm0-21zm5 23zm1-25zm1-1zm2 11zm1-10zm0 26zm0-21zm0 22zm2-28zm6 17zm2 7zm3-5zm4 6zm4-25zm0 13zm2-6zm2 16zm0-10zm1 4zm11-18zm0 18zm1-15zm11-2zm0 10zm3-9zm1 10zm1 6zm3-17zm3 20zm8 8zm1-24zm2-1zm8 14zm2-8zm6 1zm2 4zm1 0zm4-11zm1 4zm5 10zm5 9zm3-19zm6-8zm1 2zm2 21zm0 6zm1-28zm1 4zm0 1zm3 8zm7 10zm0 0zm0-12zm4-1zm3 11zm0-20zm3 16zm2-14zm4 10zm2-2zm5-12zm1 27zm0-11zm1 5zm4-6zm1-14zm1 19zm1 0zm12-16zm1 25zm0-4zm5-16zm5 5zm4 13zm5-16zm2 16zm1-17zm1 17zm3-3zm1-1zm10-15zm1-2zm3 4zm1 1zm1-4zm4-5zm4 15zm1 7zm8-16zm4 13zm2 3zm2 5zm3-23zm6 3zm4-8zm1 26zm5-6zm8-1zm4-18zm9 21zm4-16zm1-6zm2 5zm4 16zm6-11zm11-1zm6 16zm3-23zm17 26zm10-7zm2 5zm7-23zm5 22zm14-25zm11 9zm10 0zm8 5zm13-14zm10 2zm13 17zm0-19zm14 11zm13 1zm9 8zm7-14zm15 20zm6 0zm6-20zm11 13zm2-10zm23 10zm8 8zm19-3zm-22 26zm-5-19zm-1-1zm-8 9zm-5-6zm-26 5zm-2-4zm-3 15zm-19-11zm-17 19zm-47-25zm-4 9zm-10 14zm-2-5zm-3-19zm-18 25zm-25-7zm-1 6zm-1-4zm-4-5zm-1-7zm-2 10zm-1-13zm-8-7zm-9 14zm-8-6zm-12-7zm-2 20zm-4 8zm-5-24zm-4 19zm-1-5zm-1-15zm-2 12zm-1-13zm-3 8zm0 8zm-1 7zm-1-3zm-3-21zm0 25zm-2-5zm-9 1zm-8-20zm-1 13zm0-9zm-2 4zm-2 3zm0-3zm-1 9zm-3-14zm0-3zm-6 19zm-3-8zm-4 11zm-2 0zm0 3zm-4-20zm-19-4zm-1 20zm-1-22zm-13 13zm-4 12zm-2-7zm-11-16zm0 2zm-1 13zm-6-12zm-3 1zm-3-7zm-1 20zm-3-3zm-8 5zm-4-5zm-1-8zm-1 0zm-1 18zm-1-18zm-3-4zm-1 4zm-7 7zm-4 6zm0-6zm-1 11zm-3-14zm-9 9zm-2-2zm-2-18zm0 21zm-6-2zm-6-13zm0 10zm0 0zm-3-8zm-2-2zm0 13zm-2-3zm-1-14zm-2 18zm-2-13zm-1 16zm-7-12zm-1 12zm-10-19zm0-4zm-3 21zm-10 2zm-2 3zm-5-3zm0-9zm-4 7zm-6-12zm-2-1zm-2 16zm-5-12zm-6-10zm-9-3zm-5 2zm0-1zm-2-3zm-9 6zm0 21zm0-16zm-3 14zm-11-21zm-11 16zm-2-15zm-3 5zm0 2zm-5-2zm0 14zm-8 1zm-1-18zm0 21zm-10-7zm-2-9zm-10 4zm-22-8zm-11 17zm-4-3zm-11-9zm-5-10zm-6-3zm-3 25zm-7-13zm-13 5zm-14-12zm-2-5zm-2 14zm-2 11zm-1-3zm-6 3zm-9-7zm-13 0zm-3 1zm-1 2zm-29-2zm-1-16zm-1 15zm-4-5zm-14-4zm-8-7zm-3 16zm-20-5zm-3 9zm-22 6zm-15-24zm-5 21zm-52-10zm-5 6zm-6-2zm-1-19zm-1 4zm-60 15zm-3 10zm-13-9zm-134-19zm-35 2zm-42 20zm-15 2zm-17-7zm-27 11zm101 2zm15 6zm147 7zm27 0zm37-1zm16-5zm16 18zm7-18zm47 18zm9-23zm32-1zm7 12zm4 0zm5 13zm0-5zm8-9zm12 16zm6-24zm5 11zm6-1zm0 14zm1-6zm5-7zm6-9zm4-6zm9 11zm0-5zm10 6zm7 9zm10-15zm0 20zm1-11zm2-6zm0 1zm3-6zm9-2zm2 22zm11-2zm8-18zm10 7zm9 0zm7-5zm4-4zm2-2zm1 26zm2-2zm1 1zm4-3zm18-12zm2-1zm8-7zm35 7zm31 5zm2 11zm0-11zm10-13zm7 17zm7-14zm1 20zm3-18zm0 20zm1 0zm1-18zm3 2zm2-8zm1 24zm1-15zm3 17zm0-21zm4-4zm3-1zm0 4zm2 22zm2-23zm0-4zm18 26zm2-21zm0 4zm5-10zm3 6zm1 12zm6-1zm0-6zm2-10zm4 20zm1-22zm2 6zm2 13zm8 3zm3 7zm4-17zm5 10zm10 7zm3-8zm2-20zm4 13zm1-1zm5-1zm8 0zm5-6zm1-6zm6 24zm0-22zm1-2zm0 16zm7-12zm3-4zm1 13zm8-12zm1 20zm7-20zm6 2zm11 22zm5-21zm1 23zm2-11zm11-5zm8 2zm3 14zm5-12zm0-9zm1 8zm4-6zm6 12zm2-13zm5-5zm13 11zm6 16zm4-20zm6 19zm5-26zm4-2zm1 10zm3 1zm4 2zm5-5zm13 18zm0-2zm8-2zm2-22zm7 0zm0 24zm14 3zm2-3zm7 4zm4-6zm5-6zm3 0zm1-13zm7 3zm0 11zm6-10zm14-2zm0 12zm12-17zm4 3zm8 11zm17 2zm1-9zm18 14zm6-16zm5 23zm3-22zm10 16zm12 2zm1-10zm7-9zm9 8zm6 10zm14-3zm5-12zm15 20zm16-25zm1 18zm190 32zm-65 3zm-123-26zm0 18zm-3-2zm-18 11zm0-22zm-2-5zm-26 5zm-10-1zm-10 10zm-4-1zm-3-7zm-4 4zm-14 11zm-3 6zm-10-8zm-8-1zm-6-2zm-24-8zm-9 19zm-1 1zm-6-19zm-10 13zm-4 2zm-2-5zm-7-18zm-12 22zm-1-8zm0-9zm-5 18zm-7-3zm-3 5zm-6-4zm-1-7zm-12-5zm-2-2zm-2 10zm-5 2zm-2-19zm-3 2zm-7 0zm-7 15zm-6 0zm-5-4zm-8-13zm0 24zm-5-11zm-14-7zm-5 7zm-3-4zm-2-10zm-1 29zm-5-3zm-2-20zm-3 0zm-10 7zm-1-5zm-5 3zm-1-3zm-2 4zm-5-3zm-2 4zm-5-9zm-10 10zm-1-4zm-6-1zm-22-3zm-20 10zm-11 7zm-4-20zm-12 4zm-6 3zm-1 13zm-8-6zm-15 11zm0-19zm-1 2zm-3-3zm-2 5zm-6-3zm-4 9zm-3-12zm-16 4zm-1-8zm-3 16zm-1-7zm0-12zm-4 25zm-8-19zm-2 14zm-2-8zm-2 3zm-1 11zm-2-23zm-1 1zm-10-2zm-2 23zm-4-24zm-1 10zm-9-11zm-4 1zm-2 27zm-4-8zm-3-5zm-11-12zm-2 5zm0-6zm-3 12zm-12 0zm-5-8zm-15 0zm-1 10zm-1 9zm-8-21zm-1 1zm-7 7zm-1 5zm-12-12zm-2 6zm0-1zm-3 9zm-7-17zm-3 19zm-4-14zm0 18zm-2-6zm-9 1zm-10-13zm-2 6zm-2 13zm-5-5zm-6-1zm-5 9zm-3-16zm-3 12zm-3 0zm0-6zm-15 9zm-9-17zm-4-1zm-2 13zm-4-3zm-8 7zm-2-12zm-11 9zm-8 4zm-6-21zm0 3zm-16-6zm-8 14zm-2-11zm-11 10zm-1 9zm-7-21zm-25 20zm-15 0zm-44-10zm-16 3zm-5 1zm-13 9zm-20-3zm0-4zm-44 17zm36 9zm13-5zm3 8zm29 7zm7 0zm12-3zm8 0zm69 4zm28-12zm5 0zm0-4zm8 11zm3-8zm7 4zm4-19zm0 24zm49 0zm12 5zm7-29zm14 14zm4 4zm5-17zm24 19zm2-14zm8-3zm18 5zm13 2zm17 4zm5 3zm10-7zm0-9zm5 12zm2-10zm1 10zm3 9zm3-1zm3-10zm22-8zm6 7zm9-5zm15 7zm3-2zm3-6zm1 19zm13-15zm3 3zm3-9zm5 14zm2-1zm3 5zm10 2zm12-6zm4-5zm2 7zm1-3zm6 11zm0-24zm7 24zm1-24zm6 10zm0 16zm4-5zm3-16zm15 13zm5-15zm4 7zm1-6zm0 14zm5 4zm4-23zm12 26zm0-14zm8 16zm4-9zm1 9zm6-11zm13 11zm2-23zm2 22zm1-22zm1 14zm5-20zm2 3zm0 5zm10 6zm6 11zm7-16zm5 17zm1-20zm9 7zm6 2zm6-4zm1-8zm2-1zm4 0zm8 3zm3 8zm10 0zm9 13zm5-25zm5 2zm5 8zm4 12zm17-19zm4 11zm3-6zm16 10zm6-1zm3-6zm0-9zm3 22zm10-21zm6 17zm6 0zm6-16zm1 14zm2 5zm21-13zm5 18zm3-22zm1 21zm1-26zm4 25zm5-4zm0-21zm7 17zm5 4zm1-19zm1 25zm10-8zm1-7zm4 14zm0-1zm5 2zm0-10zm9 10zm9-22zm9-7zm13 5zm2 20zm7-23zm3 5zm3 18zm1-22zm2 17zm26 9zm8-22zm4 0zm30 19zm32-26zm5 11zm19 13zm17 3zm13 0zm81 5zm-4 4zm-36-2zm-10 4zm-3-7zm-27 26zm-5-16zm-2 6zm-1 10zm-41-14zm-4-12zm-39-1zm-33 0zm-2 0zm-2 14zm-4-6zm-3 7zm0-6zm-5-2zm-1 3zm-1-5zm-13 21zm-9-25zm-3 26zm-6-15zm-1-9zm-3 15zm-4-15zm-8 18zm-4-7zm-15-6zm-3 5zm-2 9zm-1-12zm-14-6zm-9-2zm-3 26zm-1-27zm-1 18zm0-14zm-13 4zm-8 9zm-20-7zm-17 16zm-2-25zm-2 16zm-5 11zm-3-29zm-6 18zm-7-10zm-3 21zm-3-3zm-14-2zm-2-21zm-2 1zm-4 24zm-4-9zm-4 1zm-3 1zm-1 7zm0-2zm-2-22zm-2 0zm-12 15zm-4 7zm-22-8zm-4-9zm-2-3zm0-5zm-9 15zm-8-14zm-4 0zm-8 5zm-1 6zm-1 6zm0 4zm0-20zm-2 11zm-10 4zm-7 10zm-2-26zm-2 21zm-10-17zm-22 13zm-3 1zm-7-5zm-20 14zm-12-15zm-1-8zm-2 9zm-7 13zm-5-1zm-14-23zm-21 4zm-11-7zm-11 12zm-6-5zm-1 11zm-20-4zm0 3zm0 2zm-1-18zm-1 2zm-4-2zm-7 4zm-4 10zm-17-14zm-1 0zm-4 22zm-4-15zm0 13zm-9-4zm-5-10zm-2 20zm-7 1zm-10-12zm-5 8zm-30 1zm-4-7zm-13-15zm-7 9zm-7 16zm-4-28zm0-1zm-1 11zm-20 5zm-9-9zm-1 16zm-9 6zm-2-26zm-13 13zm-2 5zm-4-13zm0 11zm-8 5zm-4 5zm-1-9zm-6 1zm-12-8zm-4 12zm-15-11zm-61-14zm-15 23zm-6-4zm-9-12zm-3 16zm-3-12zm-5 4zm-21-1zm-4 9zm-1 6zm-13-16zm0-8zm-1-1zm0 24zm-3-7zm-2 5zm0-8zm-7-4zm-2-4zm-3 3zm-7 16zm-4-15zm0-9zm0 4zm-3 5zm-1 4zm-4-12zm-1 15zm-1-20zm0 6zm0 10zm-4 11zm-1-28zm-3 23zm-2-7zm-3-16zm-2 10zm-1 5zm-7 2zm-9-13zm-1 7zm-1 5zm-8-11zm-3 1zm-5 8zm13 17zm15 0zm36 3zm0-4zm13 19zm35-16zm0 6zm1 0zm2 20zm10-29zm6 4zm7 8zm21 3zm13-15zm2 15zm18 5zm22-12zm10-6zm45 8zm6 2zm3 14zm31-1zm14 0zm17-7zm5 8zm7-17zm10 13zm7-8zm2-5zm21 16zm26-11zm7-5zm8-8zm6 25zm2-21zm1 11zm15 10zm16-26zm28 5zm15 10zm4-4zm6 2zm1 14zm4-17zm6-1zm7 9zm2-17zm6 2zm12 14zm4-6zm7 4zm17 0zm14-10zm8 8zm9-2zm1 8zm17-19zm18 15zm6-2zm7 1zm1-2zm0 11zm12-1zm4-18zm4-4zm5 3zm2 25zm16-19zm2 13zm2 0zm7-11zm0 1zm4-12zm1 20zm7 8zm3-17zm1 16zm1-2zm6-23zm2 24zm16-15zm5 9zm6 2zm1-5zm4-7zm8 7zm2 2zm5-4zm1 14zm3-6zm5 1zm14-14zm6-2zm7 17zm5-23zm3-2zm0 11zm0-8zm5 15zm9 1zm5-13zm1-2zm10 0zm24 24zm2-8zm0-15zm2 15zm2-1zm6 10zm14-18zm28-1zm2 12zm4-10zm2-7zm0 3zm1 6zm4 0zm37-7zm9 15zm29 2zm35 5zm14-2zm8-18zm12 2zm48 13zm6 4zm0 1zm13-1zm18 1zm12 30zm-85-24zm-5 7zm-24 14zm-32 0zm-39-25zm-11 28zm-5-3zm-19-26zm-11 19zm-3-4zm0 2zm-7 1zm-4 9zm-16-13zm-9-6zm-29 18zm-14-17zm-4 4zm-1-3zm-12 3zm-3 12zm-6-8zm-9-11zm-5 7zm-25 4zm-12 0zm-6 10zm-1-5zm-7-12zm-2 5zm-3 9zm-3 3zm-12-18zm-2 18zm0-5zm0-20zm-4 4zm0 1zm-7 16zm-1 2zm-3-5zm-2 3zm-4-17zm0-4zm-15 22zm-4 2zm-6-4zm-1-7zm-11-11zm-5 3zm-2 10zm-3 4zm-8 7zm-17-17zm-6 2zm-10 11zm-21-10zm0 7zm-3-19zm0 3zm-7-5zm-4 4zm-2 16zm0-5zm-8-1zm-2 2zm-10-1zm-29 8zm-2-13zm-2 13zm-15 4zm-10-23zm-5-1zm-7 25zm-6-12zm-6 4zm-13 8zm-9 1zm-2-11zm-13-12zm-4 6zm-6-2zm-7-3zm-10 21zm-9-4zm-10-7zm-43 0zm-23-12zm-6-5zm-1 4zm-1 3zm-6-1zm-6 10zm-42 11zm-37-10zm-32-9zm-12 15zm-9-1zm-41-12zm0-9zm-31 23zm51 8zm27 20zm13-11zm22-3zm4 19zm1-16zm16-1zm32 18zm16-20zm2 13zm17-11zm30-1zm3-7zm5 23zm4-12zm20 9zm6 1zm10-5zm2 3zm2-14zm2 10zm0-7zm2 0zm8 16zm6-26zm9 7zm6-3zm1 12zm17 4zm1 1zm3-19zm22 16zm4 2zm12-16zm14-1zm2 21zm2-12zm6 17zm45-3zm4-24zm1 24zm9 3zm11-15zm14 14zm5-6zm32 5zm8-20zm2 12zm15 9zm10-17zm2 14zm2-22zm1 19zm23-5zm2-15zm19-2zm4 11zm10 1zm20 13zm5-9zm8 2zm5-8zm6-10zm1 24zm16-11zm3 14zm15-16zm7 17zm29-16zm15-6zm20 8zm20-4zm5-8zm9 15zm3 1zm2-6zm16-7zm26 24zm1-14zm7-9zm5-1zm24 7zm83 7zm32-9zm2 19zm33-24zm-67 49zm-11-14zm-5 15zm-68-14zm-13 12zm-16-8zm-10 1zm-4-1zm-43-3zm-12-6zm-17 13zm-7-1zm-1-9zm-3-2zm-1 21zm-4-3zm-16-10zm-4 2zm-8-7zm-4 5zm-1-7zm-21 6zm-2 12zm-5-18zm-4 18zm-8-15zm-10 12zm-7-20zm-9 4zm-9 17zm-2-16zm-5 9zm-8-6zm-9-9zm-29 17zm0-19zm-11 27zm-6-23zm-2 25zm-7-20zm-12 18zm-2-12zm-4 10zm-36-3zm-4-16zm-2 11zm-17 10zm-6 0zm-2-26zm-21 24zm-8 0zm-1-7zm-17-18zm-6 12zm-2-9zm-16 24zm0-17zm-4 18zm-3-5zm-15-6zm-14-10zm-3 20zm-2-9zm-12-11zm-8 9zm-12-6zm-8 4zm-1 5zm-7-11zm-4 16zm-4-21zm-7 14zm-10-6zm-2-6zm-10 5zm0 4zm-5-14zm-5 3zm-10 6zm-44 5zm-24-9zm-4 24zm-14-16zm-20-13zm-8 10zm-13 6zm-46-3zm25 17zm96 8zm3-4zm39 7zm28 7zm40 9zm24-11zm9 12zm1-9zm1-2zm2-1zm3 12zm5-2zm1-8zm3 7zm6-3zm2-6zm2 3zm1-11zm3 6zm3-4zm10 14zm6 5zm6-25zm7 23zm11-1zm6-24zm3 26zm1-10zm10 3zm0-17zm11 20zm7-2zm30-16zm10 17zm2-20zm7 15zm1 6zm8-8zm2 3zm6 9zm2-4zm10-6zm12-14zm14 20zm10 1zm5-22zm5 24zm2-12zm4 14zm5-17zm1 0zm3 8zm3 3zm3-15zm9-2zm6 22zm18-28zm1 18zm0-16zm11 14zm9-8zm2-2zm4 23zm7-5zm3-22zm13 23zm4-16zm3 19zm9-10zm10-5zm15-10zm17 5zm5-2zm0 8zm5 1zm9-12zm3 12zm42 7zm17 3zm3-4zm20-19zm28 4zm22-3zm119-1zm-297 45zm-10-12zm-2-2zm-11 2zm-6 14zm-39-17zm-1-2zm-2 20zm-4 2zm-2 6zm-1-9zm-6-4zm-8-10zm-1 15zm-2 8zm-3-24zm-8-4zm-8 19zm0-10zm-13 5zm-5 15zm-2-9zm-6-5zm-3-1zm-12 13zm-5-15zm-7 2zm-2-7zm-4 9zm-10 9zm0-2zm-3-20zm-3 18zm-7-19zm-1 17zm-10-14zm-1 23zm-8-18zm-7-7zm0 24zm-3-22zm-12 23zm-18-17zm-3 6zm-7 0zm-5 4zm-9 0zm-6-16zm-1-1zm-12 15zm-7-4zm-3 2zm-12-12zm-28-5zm-17 7zm-12 19zm-77-14zm-23-1zm-22 5zm57 16zm4 13zm17 2zm79-15zm16 2zm39 25zm1-8zm39-20zm0 10zm0 16zm15-17zm12-1zm11-4zm4 23zm9-21zm16 4zm5 5zm5-14zm8 6zm5 9zm0-10zm1-6zm22 23zm16-22zm7 4zm3 15zm4-6zm11-10zm26 0zm6 14zm21-7zm11-3zm43 7zm95 1zm-92 24zm-15 11zm-45-4zm-62 7zm-23-17zm-14 16zm-3-16zm-14 21zm-50-3zm-32 0zm-19-7zm-6 6zm-14-13zm-5-10zm-21-1zm-6 20zm-4-17zm-20 6zm-5-5zm-2 8zm-10 46zm4-14zm63 14zm6-15zm50 3zm2-16zm2 2zm4 11zm23 11zm38 4zm70-15zm6 8zm16 2zm12-17zm7 2zm3-7zm89 8zm-179 29zm-208-1zm103 24z"/><path stroke="#ffa650" d="M5299 2337zm-67 1zm-16-7zm-5-13zm-4 21zm-76-11zm-52 3zm-16 36zm26-5zm15-12zm18-4zm2 5zm49-7zm69-4zm11 22zm9-20zm7 24zm20-9zm17 10zm41 32zm-24-2zm-8-27zm-2 2zm-7 22zm0-21zm-3 3zm-5 1zm-41 11zm-3 0zm-6 11zm-7-11zm-1-11zm-6 4zm-12 3zm-52-13zm-1 19zm-10-7zm-16 10zm-9-6zm-14-3zm-67-11zm-34 26zm-55 22zm41 1zm2-19zm14 2zm36 6zm22 5zm6-10zm49 18zm37-17zm17 10zm3-13zm2 0zm2 5zm22 16zm4-10zm18 6zm13 1zm7-7zm4-10zm7-1zm2 5zm3-8zm0 6zm5 6zm6 10zm3-1zm0-14zm8 5zm2-13zm1 0zm45 14zm9 43zm-22-1zm-4-1zm-11-11zm-7 0zm-1-3zm-3-5zm-2 10zm-10-6zm-5 0zm-13 13zm-59-13zm-22-1zm-12-4zm-47 9zm-45 0zm-8 1zm-30-14zm-16 3zm-23 4zm-122 6zm11 20zm41 23zm11-17zm20-1zm7 1zm62 19zm39-7zm21 2zm7-11zm13-5zm31 10zm1 0zm20-6zm11 0zm8-11zm2 19zm23 3zm0 0zm34-3zm16-18zm6 2zm9 3zm6 10zm8-2zm2-11zm1 11zm2 0zm3 6zm10-19zm7 16zm-7 27zm-16 4zm-4 8zm-9-25zm-9 12zm-4 2zm-5 1zm-2 7zm-12 4zm-9-10zm-6-17zm-3 4zm-2 16zm-4 4zm0 3zm-1-15zm-1-9zm-1 4zm-3 0zm-9 14zm-7-19zm-6-3zm-14 12zm-5 0zm-27 10zm-16 2zm-38 1zm-6 1zm-7 2zm-28-11zm-9-2zm-14-13zm-31 7zm-18-6zm-19 5zm-1-1zm-12 22zm-47 19zm34-5zm43 12zm22-14zm9-7zm2 17zm4 2zm0-6zm1-10zm44-4zm2 1zm14 2zm11 6zm1 9zm5-2zm1-4zm3 5zm2-10zm5 1zm7 1zm12 12zm7 4zm5-16zm17 14zm17-20zm4 2zm1 1zm14-8zm4 8zm3 3zm1 15zm17-4zm15-6zm5 1zm0-9zm3 1zm5 7zm0 0zm9-9zm2-3zm5 11zm26 8zm2 4zm4-18zm6 2zm19-3zm11-1zm1-7zm2 24zm3 4zm0 7zm-2 17zm-7-20zm-19 8zm-1 18zm-2-11zm-2 4zm-7-14zm-8 5zm-5-10zm-4 17zm-4 3zm-4-6zm-2 9zm-8-7zm-21 6zm-4-8zm-9-15zm-1 24zm-9 2zm-3-5zm-10-4zm-2-1zm-14 10zm-18 0zm0-1zm-13-7zm-5-14zm-9 10zm-1-10zm-3 9zm-1 12zm-8-10zm0 4zm-6 8zm-3-12zm-3-6zm-3-1zm-4 10zm-9 4zm-2-10zm-20-2zm-2-10zm-24 3zm0 22zm-14-17zm-8 11zm-2-7zm-15 11zm-4 0zm-7 3zm0 1zm-11-23zm-9 20zm-91-12zm39 35zm40 6zm3-21zm10 25zm10-17zm4-5zm11 14zm5-7zm0 10zm6-2zm7-10zm0 16zm1-10zm23-1zm2 1zm8 3zm0-16zm14 22zm1-3zm2-16zm20 11zm13 9zm9-9zm5 8zm25-19zm8-5zm1 5zm5 12zm9 8zm2-11zm17 7zm1-7zm13-12zm19-1zm7 2zm9-4zm9 14zm2 9zm3-24zm2 7zm2 8zm0-2zm11-3zm5-9zm9 5zm1 21zm1-2zm6-7zm6 0zm4-12zm1-6zm2 0zm0 2zm25 26zm4 4zm-13 24zm-6-1zm-1-8zm-5-4zm-2-1zm-1 16zm-35-14zm-1-6zm-1 12zm-48 3zm-33-24zm-3 15zm-4-13zm-40 7zm-6 13zm-18 2zm0-15zm-8 5zm-12-4zm-8 16zm-3-1zm-4-20zm-6-5zm-10 26zm-7-24zm0 27zm-1-24zm-2 23zm-2 0zm-2-3zm-3-12zm-1 13zm-8-15zm-20-6zm-1 10zm-13-2zm-2-10zm-9-1zm-36 24zm-2-6zm-39-19zm50 32zm15-2zm13 1zm1 3zm10 18zm0-2zm13 5zm11-23zm4 24zm8-3zm6 0zm38-23zm8 2zm7 13zm7-13zm3 19zm1-15zm15 15zm3-14zm30 11zm5 3zm1-7zm11-12zm9 4zm0 8zm25 4zm1-3zm12 9zm3-16zm8 15zm3-19zm1 23zm10-19zm12 5zm5-13zm0 3zm1 5zm12 7zm7 10zm17-8zm0-14zm3 18zm9-14zm13 3zm2 41zm-1-1zm-11-2zm-4-6zm-8 5zm-6-9zm-5 10zm-4-5zm-15-13zm-8 28zm-8-8zm-2-1zm0-18zm-28 12zm-6 2zm0-6zm-9-7zm-15 15zm-8-3zm-7 9zm-8-5zm-2 8zm-1-1zm-2-10zm-3 10zm-6-14zm-1-6zm-2 11zm-10-15zm-6-2zm-21 15zm-8 7zm-13 2zm-2-11zm-2 13zm-5-4zm-5 0zm0-21zm-7 16zm-2 5zm-6-9zm-9-10zm-1 4zm-2 15zm-2-1zm-6 3zm-3 0zm-4 3zm-14-17zm-6-7zm-6 5zm0 20zm-5-5zm-1-23zm-2 0zm-3 21zm-4-16zm-1 4zm-4-1zm0 6zm-6 15zm-19 0zm-2-21zm-1 11zm-3-1zm-10 21zm24 16zm8-4zm1-4zm36-10zm1 16zm1-23zm39 12zm8 13zm8-13zm6 9zm3 4zm9-18zm2 18zm1 4zm19-18zm2-7zm4 9zm21-10zm0 20zm15 0zm24-6zm5 5zm5-9zm2 4zm14-6zm3 11zm2-8zm5 2zm20-4zm9 6zm0-3zm18-4zm6-10zm2 26zm3-6zm3-1zm0-8zm1 1zm10-3zm0-10zm6 5zm2 0zm1 2zm3 14zm2-16zm4 15zm3-14zm2 12zm4-1zm13 6zm-2 30zm-2-8zm-20 2zm-1-8zm-21 13zm0-17zm-2 7zm-3 5zm-9 7zm-1-18zm-4-3zm-2 9zm-9-4zm-3 4zm-16 7zm-1 6zm-6-6zm-6-19zm-2 9zm-4 2zm0 12zm-9 2zm-3-10zm-9 8zm-4-13zm-1 3zm-15 16zm-16-25zm-4 11zm-7 5zm-4-6zm-4 5zm-4-15zm-5 16zm-1 2zm-5-19zm-11 14zm-6 1zm0-1zm-3-16zm-11 14zm-11-9zm-2 10zm-4 2zm-6 9zm-2-7zm-8-15zm-4 16zm-24-7zm0 10zm-9 0zm-1 3zm-3-24zm-3 12zm-6-9zm-9 15zm-1-17zm-23 1zm-11 15zm1 14zm4 16zm12-13zm2 16zm10-6zm3-6zm4 14zm3 0zm11 0zm5-8zm22 10zm0-1zm5-20zm8 16zm7-3zm2-16zm2 4zm3 17zm12-2zm10-12zm0-6zm5 22zm4-19zm3 12zm0-16zm1 5zm9 0zm5 19zm0-7zm17 0zm3 6zm7-14zm6 8zm0-8zm0 0zm1-12zm2 13zm2-4zm0 20zm2-27zm12 8zm10 2zm1 9zm7-8zm7-8zm6 0zm11 9zm5-6zm1 4zm3 8zm2-9zm9 13zm3-21zm7 9zm9 8zm0-3zm2-5zm4 5zm1 11zm8-9zm36-12zm18 40zm-23 9zm-14-3zm-8-13zm-9-3zm-10 3zm-2-1zm-6 11zm-8-4zm-1 6zm0 0zm-9-14zm-3 7zm0-8zm-3-7zm-6 19zm-6 0zm-7 2zm-8 1zm-5-20zm-4-1zm-13 2zm-1 2zm-2-5zm-1 13zm-1-7zm0 4zm-6 3zm-17-1zm-3-5zm-5-6zm-8 10zm-6 11zm0-8zm-7-12zm-1 10zm-10 15zm-1-21zm-5 20zm-7-4zm-6-20zm-1 15zm-5 7zm-1-12zm-1-4zm-12-1zm-4 9zm-10-15zm-5 1zm-1 12zm-2-8zm-9-1zm-1 6zm-5 15zm0-8zm-1 9zm-4-10zm0-8zm-3 2zm0-6zm-1-5zm-3 2zm-1 24zm-3-20zm-4 7zm-10 6zm-13 7zm-12-19zm4 28zm5 23zm21-17zm1 2zm2 14zm12-27zm3 15zm21 2zm6 6zm11-22zm1 25zm8 3zm6-28zm5 7zm2 21zm2-28zm16 11zm0-12zm1 10zm4 0zm9 15zm8-12zm1 14zm0-5zm1-13zm3 9zm3 11zm3-11zm3 8zm2-25zm8 5zm1 14zm1 5zm1-7zm2-16zm3 22zm5-18zm4-4zm9 13zm0 10zm4-15zm16-7zm6 7zm1 13zm6 4zm10-12zm5 4zm4-18zm1 12zm7-13zm14 23zm1 0zm6-2zm1-3zm22 3zm10-2zm5 0zm-9 33zm-1 0zm-6 7zm-14-7zm0-5zm-5-7zm0 4zm-1 14zm-4-20zm-8 18zm0-25zm-6 27zm-1 0zm-4-15zm-18 1zm-3-5zm-6 12zm-8 3zm-2-19zm-4 16zm-2-1zm-12-4zm-2-6zm-2 11zm-2-20zm0 25zm-2-24zm-2 27zm-1-4zm-17-20zm-1 9zm-6-11zm-1 17zm-2 8zm-2 0zm0-10zm-1-4zm-1 14zm-3-27zm-4 0zm-3 6zm-1-4zm-2 2zm-3 20zm0 1zm-4-3zm-1-23zm-2 10zm-3-8zm-1 13zm-1-12zm-11 19zm-3-14zm-7 0zm-9 4zm-2 15zm-2-21zm0-2zm-13-2zm-8-1zm-2 6zm-25 16zm-6-16zm-16 11zm-3 2zm-5 1zm-15-7zm14 25zm13-7zm6 13zm5 9zm11-9zm0 1zm2 11zm1-5zm12-11zm4 18zm1-3zm2 0zm16-10zm1-10zm2 14zm8-14zm3 21zm1-11zm3 2zm11 9zm8-3zm2-17zm2 2zm11 8zm3-7zm2 13zm2-19zm0 8zm2-9zm0 10zm0 4zm13 10zm7-24zm1-2zm9 16zm3-13zm1 9zm3-12zm3 4zm1 7zm1-7zm4 24zm2-25zm12 3zm3 22zm4-1zm5-23zm7 24zm9-6zm6-23zm20 24zm36-21zm-27 52zm-10-21zm-2 2zm-10 14zm-2-4zm-4-14zm-2 23zm-2-1zm-2-24zm-2 1zm-5 11zm-20 3zm-2-7zm-2 0zm-6-6zm-11 3zm-2 8zm-2 11zm-1-8zm-1-13zm-7-3zm-2 12zm0 13zm-11-10zm0-5zm0-10zm-5 4zm-7 8zm-1 0zm-11-3zm-12 0zm-2 2zm-6-1zm-9-4zm-10-3zm0 6zm-1 1zm-1-5zm-1 21zm-4-26zm-8 28zm-20-2zm0-22zm0-1zm-7 3zm-3 19zm-6-18zm-1 4zm-19-7zm-4-2zm-11 19zm39 28zm9 4zm8-23zm3 14zm8 15zm2-8zm10-17zm3 6zm4 1zm6-8zm13 13zm1-8zm15 8zm1-2zm3 10zm1-19zm0 14zm2-17zm1 6zm0-2zm13 0zm3 12zm1-10zm13 3zm1 18zm1-27zm5 1zm13 8zm1-3zm7 2zm0-1zm2-7zm6 19zm9 0zm5-5zm1-14zm4-2zm6 10zm15 5zm28-7zm-32 39zm-9-8zm-8 19zm-1-11zm0-17zm-5 14zm-4-4zm-13-7zm0 13zm-13-16zm-1 27zm-10-6zm-2-10zm-10 12zm-8 4zm-1-27zm-3 27zm-8-9zm-12-18zm-1 0zm-15 22zm-4-5zm-3-9zm-2-7zm-2 3zm-7 5zm-6-7zm-3 21zm-5-4zm-4 4zm-1 5zm-3-19zm-33 5zm-2 21zm22 13zm16-18zm2 21zm14-3zm6 10zm4-16zm8 1zm7-9zm7-3zm2 4zm2 0zm3-3zm2 16zm3 7zm3-2zm11 0zm10-15zm8 3zm13-6zm6 9zm4-2zm4-3zm5-6zm1 9zm11-5zm0 8zm29 20zm-58 24zm-2-28zm-13 0zm-26 15zm-1 3zm-3 9zm-4-3zm-4-11zm-6 15zm-2-27zm-7 14zm-7 0zm-19 3zm-10-7zm-2 12zm-7-21zm-1 3zm0 10zm-3-2zm-3-2zm-1 1zm49 23zm4 17zm1-12zm2-2zm2 16zm4-14zm1 12zm1-16zm3-6zm2 4zm6 21zm7-3zm30 4zm7-26zm0 4zm1 10zm11-15zm13 30zm-85 22zm-4 3zm32 66z"/><path stroke="#8000ff" d="M4568 2438zm-64 21zm408 43zm-165 12zm-54-13zm-13 12zm-13-7zm-33-3zm-50-7zm-1 18zm-8-10zm-9-3zm-84 2zm40 36zm3-14zm6 16zm9 8zm9-22zm27 21zm48-14zm15-5zm16 1zm27 14zm89-9zm40 3zm19-2zm161 36zm-13-9zm-20 5zm-65 1zm-18 4zm-72 5zm-5-28zm-10 8zm-22 16zm-16-16zm-18 7zm-58 8zm-4 6zm-11-3zm-30-21zm-11 13zm-35-15zm-5 15zm-57 5zm51 16zm26 8zm19-12zm103 14zm1-11zm99-7zm3 28zm15-8zm4-9zm93-7zm1 6zm7 12zm64-21zm-105 42zm-24-4zm-26 17zm-42-7zm-3 1zm-1-10zm-40-8zm-18 2zm-12 5zm-53-1zm3 43zm85-11zm54 12zm13-21zm50 1zm0 11zm16 4zm45 17zm-16 4zm-21 10zm-17-2zm-2 6zm-24-14zm-14 17zm-2-12zm-7 1zm-4 10zm-9-11zm-28-13zm-10 19zm-13 3zm-25-7zm-12 10zm-6-14zm-19-2zm-23 4zm-20 27zm62-6zm40 17zm55-3zm8-13zm14 22zm4-28zm14 15zm0 4zm5 10zm1-2zm6-17zm14-3zm9 4zm5 8zm25 1zm6-3zm0 4zm5-12zm3 8zm5-8zm8 31zm0 18zm-20-17zm-5 12zm-6-15zm-8 11zm-13 1zm-7 0zm-4 4zm-3-4zm-32 4zm-10-21zm-2 9zm-8-2zm-4-1zm-4 11zm-12-17zm-13 21zm-8-9zm-35 5zm-35 3zm-41-5zm50 39zm74-8zm21-12zm15 9zm6-1zm1-10zm4-4zm6 14zm3-13zm1 15zm14 3zm7 3zm9 3zm43-6zm-41 22zm-74-8zm-56 24zm-3-27zm106 37z"/><path stroke="#ff0000" d="M4017 1844zm411 30zm-349 32zm86 48zm728 26zm76 10zm-620 53zm7 53zm23 22zm-539 144zm614 47zm-617 22zm-56 6zm-19 10zm58 1zm9 14zm2 0zm684-8zm497-2zm-1208 26zm711 112zm-102 32zm82 20zm104-13zm12 17zm2-5zm6 8zm-20 24zm-83 6zm-64-3zm-44 17zm199 12zm4-24zm0 12zm5 11zm13-18zm4 50zm-9-22zm-132 4zm259 139zm-43-2zm114 29zm51 10zm-24 48zm-132 54zm29-13zm-318 71zm16 10zm3-22zm2 2zm14 19zm3 6zm78 24zm-14 6zm-1-5zm-31-14zm-9-4zm-2 1zm-2 20zm0-23zm-7-2zm-2 9zm-12 11zm-1-20zm-2 18zm-5 2zm-14-6zm-4-5zm-5 13zm-21 0zm-11 17zm13 1zm2-2zm6 11zm0 5zm2-9zm2-11zm15-2zm0-2zm1 3zm0 7zm0 7zm6-10zm2 8zm8-15zm0 1zm10 22zm5-1zm1 0zm0 0zm7-21zm3 20zm7-18zm5 7zm11 14zm2 0zm2-1zm13-13zm2 7zm9 3zm19 6zm2-8zm4 0zm4 7zm0-1zm13-10zm44-6zm9 8zm25 11zm27 22zm-4 8zm-8-12zm-2-2zm-18 12zm-6-21zm-7 6zm-7 13zm-19-21zm0 16zm-11 3zm-7-13zm-11-4zm-8 4zm-8 0zm-3 4zm-10-14zm-1 0zm-13 12zm-35 7zm-22-16zm0 2zm-5 2zm-7 8zm-1 9zm-9-14zm-1-1zm-2-4zm-5 10zm-27 1zm-1 12zm-4-25zm-7 3zm-4 12zm-4-4zm-3 4zm-1-8zm-1-5zm-1 10zm-2 14zm-6-19zm-4 14zm-5-22zm-18 43zm11 2zm19-2zm1-13zm1 16zm0-18zm0 18zm7-18zm2 22zm34-10zm10 4zm12-9zm7 11zm9 0zm9-16zm0 13zm1 2zm1 0zm2 8zm7-14zm3 3zm15 5zm3-12zm2-2zm2-3zm14 25zm1-17zm5 1zm9 6zm11-6zm0 7zm7 2zm1-5zm22-2zm21-10zm3 23zm12-15zm12 14zm3-15zm2-10zm2 28zm6-8zm7-6zm6 6zm5-5zm1 8zm10-2zm5-13zm29 19zm1-6zm16 27zm-7-5zm-14 5zm-15 10zm-3-6zm-1-20zm-12 4zm-8 2zm-16 1zm-15 6zm-21-14zm-1 16zm-4-6zm-2 2zm-3-11zm-2 6zm-12 6zm-9-10zm-10 1zm0 17zm-8-15zm-1 13zm-18-15zm-1 13zm-5-14zm-10 23zm-4-18zm-2 10zm-20-3zm-2-10zm-2 4zm-1-6zm-1 9zm-3 4zm-24 9zm-11-8zm-1 5zm-1-7zm-5 1zm-5 6zm-10-23zm-3 1zm-25 5zm-6 15zm-29-1zm-9 8zm-1-16zm-1 14zm-1-14zm-1 8zm-2-3zm-7-12zm-6 34zm12-6zm10 7zm3-2zm15 17zm17-25zm3 13zm13 0zm6-3zm1-7zm4 4zm0 1zm12 17zm2-11zm7-11zm6 23zm11-6zm2-2zm2 7zm3-11zm1 14zm14-24zm13 25zm1-26zm10 24zm8-9zm1 9zm10-2zm3-8zm15 11zm0-24zm1 14zm6-10zm9 1zm10-9zm8 19zm11-11zm5 2zm0 3zm6 8zm7 4zm2 3zm4-9zm44-17zm1 22zm2-11zm1-3zm8 15zm6-14zm2-10zm3 1zm4 0zm1 1zm0 24zm3-5zm7-4zm6-13zm16 9zm2 0zm4-11zm2 13zm5 9zm12-19zm-3 29zm-34-1zm-1 8zm0 2zm-9 7zm-21-4zm-4 6zm-2-16zm-2 18zm-3-9zm-6 4zm-34-5zm-2-11zm-8 23zm-3-18zm-21-9zm-8 6zm0 17zm-4-6zm-3 9zm-2 0zm-3-2zm-3-9zm-2 10zm-3-25zm-2 17zm-2 3zm-4-20zm-4 26zm-6-8zm-1-5zm-21-13zm-3 27zm-2-25zm-4-1zm-2 22zm-2-19zm-1 25zm-1-7zm-3-13zm-7 15zm-4-5zm0 5zm-1-22zm-1 1zm-4 12zm-8 14zm0-19zm-4 14zm-1-4zm-9-4zm-7-4zm-6 9zm-7 3zm-6 1zm-6-9zm-8 0zm-5-4zm0 9zm-4 3zm-6-3zm-7-5zm-4-8zm0 10zm-15-10zm-1 9zm-6-9zm-3-3zm-4 9zm0 7zm-2-1zm-3-9zm-1-2zm-4 4zm-11 2zm-8-11zm-1 3zm-3 16zm-12-12zm-5-8zm-1 4zm-10 5zm-29 45zm18 1zm1-6zm8 0zm24 3zm0-9zm2 7zm1-4zm2-5zm7 9zm4-3zm8 1zm4-20zm0 25zm7-9zm0-1zm3 0zm3 7zm2-2zm8-9zm8-12zm1 16zm5 11zm4-3zm0-8zm8 8zm3-23zm1 4zm3 21zm3-4zm0-17zm2-3zm4 16zm1-16zm3 24zm4-11zm2-8zm2 20zm1-26zm0 3zm2 13zm6 7zm1-7zm3-8zm5 13zm2 0zm0 2zm3-11zm1 9zm1-14zm0 19zm4-9zm1 1zm5 2zm10 8zm0-26zm5 26zm1-27zm1 17zm6 7zm2-25zm3 27zm4-26zm1-1zm2 8zm2-9zm2 29zm5-19zm1-10zm2 23zm1-15zm3 2zm1 12zm1-11zm3-1zm3-10zm15 25zm3-1zm2-8zm3 8zm1-2zm6 5zm16-25zm4 10zm5-4zm4 18zm9-10zm2-13zm3 25zm4-13zm7 6zm6 1zm23 5zm2-21zm13 12zm1-13zm0 14zm7-5zm9 4zm4 10zm1-8zm7 7zm8-21zm3 9zm7 32zm-6-8zm-8 10zm-4 6zm-1-13zm-6 3zm-2-7zm-15 10zm-2 10zm-1-6zm-5-11zm-8 16zm0-22zm-4 8zm-17-6zm-10 6zm-8-12zm-14 10zm-2 0zm-5 5zm-3 7zm-4 5zm-6-10zm0-3zm-3 10zm-3-17zm0 16zm-3 5zm0-11zm-1-14zm-11-4zm-1 0zm-15 17zm-9-6zm-3 8zm-11 5zm-1-14zm-1-4zm0 17zm0-13zm-3-1zm-4-9zm-2 6zm-2 3zm-6 1zm-1 2zm-1 11zm-2 4zm-3 2zm-3-14zm-4-11zm-1 24zm-1-9zm-1-7zm-11-8zm-3 12zm-1 7zm-5-4zm0 6zm-1-23zm-5 26zm-1-27zm-1 24zm0-10zm-3-8zm-6-5zm-3 16zm-4-11zm-1-1zm-9 1zm-3 11zm-5 0zm-1-6zm-2 1zm0 14zm-4-3zm-2-1zm-2-13zm-6-2zm-2 1zm-7 19zm-10-7zm-2 4zm-3-3zm-3-21zm0 3zm-1-4zm-6 18zm-1-7zm-2 12zm-5 5zm-1-24zm-13 3zm-1 3zm-5-3zm-3 7zm-1-14zm-3 19zm-1 10zm-2-28zm-4 28zm-17-22zm-5 16zm-2-23zm-8 1zm-1 14zm-1-10zm0 10zm-3 10zm-17-20zm-39 33zm19 11zm16-2zm7 10zm2-8zm4-7zm1 8zm1 4zm3-19zm2 14zm6-19zm7 24zm1 2zm6-6zm5-16zm2 18zm1-4zm1-8zm1 15zm3-6zm0-5zm3 15zm3-11zm1-14zm1 18zm4 0zm1-8zm0 2zm3-13zm10 19zm5-20zm9 6zm1 16zm2-12zm3 15zm2-22zm7 19zm0-13zm1-9zm4 10zm5 14zm6-6zm2 0zm5 1zm1-4zm1-17zm4 27zm0-19zm6 20zm1-4zm4-20zm1 16zm2 6zm6-25zm2 12zm5-10zm0 17zm3-3zm3-16zm2 17zm3-13zm0 16zm2 2zm1-1zm2 0zm1-18zm5-2zm1 18zm4-16zm1 17zm7-6zm2-4zm2 8zm3-11zm5 8zm0-7zm8 8zm1-3zm0 2zm2-2zm1 11zm1-4zm8-15zm1 2zm3-4zm0 2zm4 3zm2 16zm0 1zm10-18zm7 0zm2 4zm3-2zm4 6zm1-8zm13-1zm0-1zm4 7zm0 3zm3-3zm1 16zm1-28zm4 22zm1-4zm1 5zm0 0zm5-6zm9-16zm6 26zm4-16zm2 17zm3-7zm40-13zm7-4zm13 23zm5-20zm5 12zm5-5zm3 10zm19-13zm2 1zm-36 17zm-36 4zm-2 13zm-1-14zm-14 13zm-6 3zm-21-13zm-10-3zm0 16zm-10-12zm-3 22zm-6-28zm-12 14zm-9 3zm-13 10zm0-15zm-4 6zm-6 6zm0-16zm-7 5zm-12 7zm-2-3zm-5 3zm0-13zm-2 19zm0-22zm-7 16zm0-14zm-4 22zm-11-28zm-1 9zm-1 0zm-7-6zm-7 19zm-3-2zm-10-6zm-1-10zm0 14zm-3-17zm-5-1zm-1 24zm-1-3zm-1-12zm-1 3zm-1 9zm-2 5zm-2-25zm-2 24zm-7-13zm-2 11zm-3-20zm-4 0zm0 18zm-2 1zm-7 6zm-2-27zm-1 25zm-4-24zm-1-1zm-5 11zm-4 5zm-6-1zm-2-10zm-5 14zm-2 6zm-1-20zm-3 22zm-5-18zm-1 15zm-8-6zm-11-19zm-1 13zm-2 11zm-20-17zm-2 11zm-2 3zm-2-10zm-1 17zm-17-23zm-6 7zm-7-13zm-6 57zm33-16zm19 3zm3 3zm11-1zm4-15zm16 5zm1 1zm2-1zm1 19zm8-2zm6-19zm2 15zm4-16zm3 8zm17 13zm5-5zm2-3zm3-6zm0 17zm0-7zm3-17zm0 4zm5 22zm8-10zm3-11zm1 10zm3 2zm2 3zm1-6zm6 8zm1-8zm1 10zm1-6zm1-3zm2-2zm2-6zm0 16zm1-22zm4 19zm0-9zm1 15zm3 0zm0-26zm4 2zm2 16zm3-16zm4 15zm4-1zm2 3zm7-6zm2 10zm1-3zm1-18zm2-3zm4 14zm1-8zm4 7zm2 3zm7-13zm2-1zm1 20zm11-10zm1-12zm1 11zm2 1zm3 2zm3-9zm0 19zm1-20zm12-3zm3 14zm7 6zm2-4zm2 5zm6-9zm5-15zm8 12zm1-8zm6 17zm0-13zm6 18zm6 0zm65-4zm-56 15zm-14 2zm-26-6zm-3-1zm-16 10zm-5 10zm-15 6zm-4-21zm-1 19zm-12-3zm-6-6zm-1 4zm-1 5zm-2-25zm-7 6zm-3 14zm-4-14zm0 1zm-6 13zm-8-11zm-1 7zm-4-14zm-5 8zm-5-5zm-3-5zm-6 7zm0 9zm-12-8zm-20 18zm-1-24zm-1 11zm-8 14zm-4-12zm-5 11zm-2-3zm-1-14zm-3 10zm-13-6zm-1 3zm-2 0zm-6-4zm-3 15zm-4-27zm-5 9zm-1-2zm-3 4zm-1 7zm-16-9zm-3-1zm-4-3zm-8 19zm-4 0zm-3-14zm-3 0zm-5-1zm-3 0zm-6 4zm-100 45zm1-16zm6 3zm0 9zm5 1zm3-21zm86 1zm31-5zm32 18zm9-10zm4 0zm2-5zm3-4zm21 19zm1-17zm9 1zm2 18zm4-7zm14-5zm18-2zm22 0zm10 2zm5-5zm2-2zm-62 55zm-111-26z"/></g>
<rect x="288.7" y="169.3" width="257.7" height="177.9" fill="none" stroke="#a0a0a0" stroke-width="1"/>
<rect x="519.4" y="172.8" width="22.4" height="37.6" rx="1" fill="#fff" fill-opacity=".8" stroke="#ddd" stroke-width=".5"/>
<rect x="521.4" y="176.1" width="11.2" height="3.4" fill="#8000ff"/>
<text x="536.6" y="179.7" class="lg">0</text>
<rect x="521.4" y="183.3" width="11.2" height="3.4" fill="#00b5eb"/>
<text x="536.6" y="186.9" class="lg">1</text>
<rect x="521.4" y="190.5" width="11.2" height="3.4" fill="#80ffb4"/>
<text x="536.6" y="194.1" class="lg">2</text>
<rect x="521.4" y="197.7" width="11.2" height="3.4" fill="#ffb360"/>
<text x="536.6" y="201.3" class="lg">3</text>
<rect x="521.4" y="204.9" width="11.2" height="3.4" fill="#ff0000"/>
<text x="536.6" y="208.5" class="lg">4</text><text class="cap sb" text-anchor="middle" x="422.9" y="361.6">(c)</text>
</svg>
</body></html>
